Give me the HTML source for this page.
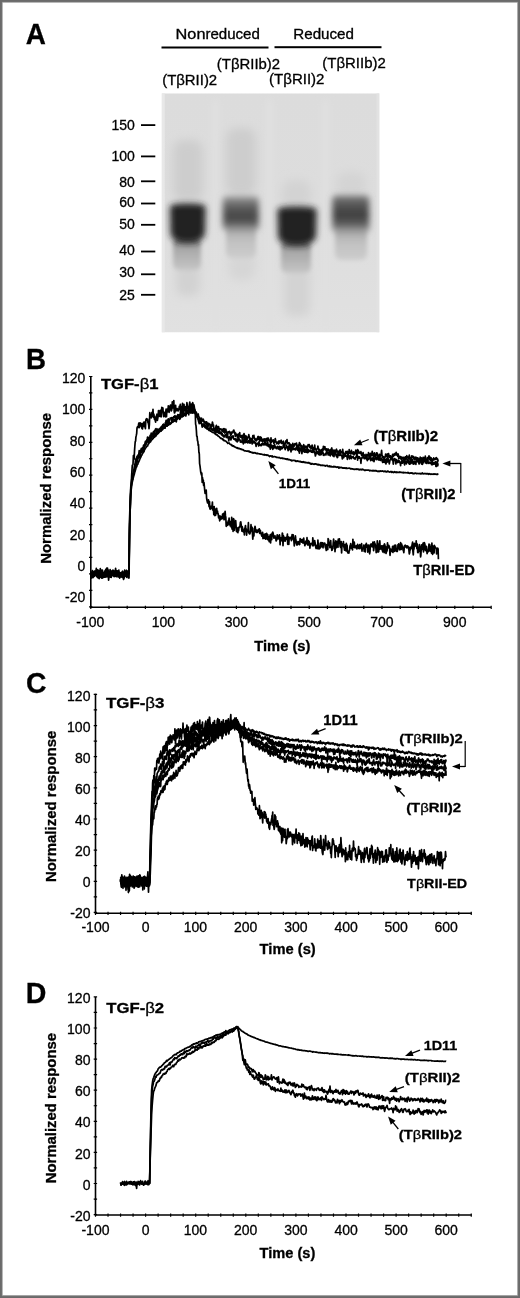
<!DOCTYPE html>
<html><head><meta charset="utf-8"><title>Figure</title>
<style>
html,body{margin:0;padding:0;background:#fff}
body{width:520px;height:1298px;overflow:hidden}
svg{display:block}
text{font-family:"Liberation Sans", Arial, sans-serif;stroke:#000;stroke-width:0.3px}
</style></head><body>
<svg width="520" height="1298" viewBox="0 0 520 1298">
<rect x="0" y="0" width="520" height="1298" fill="#6a6a6a"/>
<rect x="1.9" y="1.9" width="516.2" height="1294.2" fill="#9a9a9a"/>
<rect x="2.7" y="2.7" width="514.5" height="1292.4" fill="#ffffff"/>
<text x="25.80" y="43.60" font-size="28.60" textLength="20.13" lengthAdjust="spacingAndGlyphs" fill="#000"><tspan font-weight="bold">A</tspan></text>
<text x="26.04" y="369.30" font-size="28.60" textLength="20.01" lengthAdjust="spacingAndGlyphs" fill="#000"><tspan font-weight="bold">B</tspan></text>
<text x="25.94" y="693.20" font-size="28.60" textLength="20.43" lengthAdjust="spacingAndGlyphs" fill="#000"><tspan font-weight="bold">C</tspan></text>
<text x="25.79" y="1002.70" font-size="28.60" textLength="20.62" lengthAdjust="spacingAndGlyphs" fill="#000"><tspan font-weight="bold">D</tspan></text>
<text x="175.56" y="38.90" font-size="14.00" textLength="29.90" lengthAdjust="spacingAndGlyphs" fill="#000"><tspan font-weight="normal">Non</tspan></text>
<text x="205.41" y="38.90" font-size="14.00" textLength="54.46" lengthAdjust="spacingAndGlyphs" fill="#000"><tspan font-weight="normal">reduced</tspan></text>
<text x="293.26" y="38.80" font-size="14.00" textLength="60.71" lengthAdjust="spacingAndGlyphs" fill="#000"><tspan font-weight="normal">Reduced</tspan></text>
<rect x="161.5" y="46.5" width="107" height="2" fill="#000"/>
<rect x="274.5" y="46.2" width="107" height="2" fill="#000"/>
<text x="216.88" y="69.20" font-size="14.00" textLength="63.17" lengthAdjust="spacingAndGlyphs" fill="#000"><tspan font-weight="normal">(TβRIIb)2</tspan></text>
<text x="162.18" y="84.60" font-size="14.00" textLength="54.97" lengthAdjust="spacingAndGlyphs" fill="#000"><tspan font-weight="normal">(TβRII)2</tspan></text>
<text x="269.07" y="83.70" font-size="14.00" textLength="55.38" lengthAdjust="spacingAndGlyphs" fill="#000"><tspan font-weight="normal">(TβRII)2</tspan></text>
<text x="322.37" y="67.50" font-size="14.00" textLength="63.38" lengthAdjust="spacingAndGlyphs" fill="#000"><tspan font-weight="normal">(TβRIIb)2</tspan></text>
<text x="111.49" y="130.20" font-size="14.00" textLength="23.36" lengthAdjust="spacingAndGlyphs" fill="#000"><tspan font-weight="normal">150</tspan></text>
<rect x="141" y="124.20" width="14.3" height="1.8" fill="#000"/>
<text x="111.49" y="161.00" font-size="14.00" textLength="23.36" lengthAdjust="spacingAndGlyphs" fill="#000"><tspan font-weight="normal">100</tspan></text>
<rect x="141" y="155.50" width="14.3" height="1.8" fill="#000"/>
<text x="119.28" y="187.00" font-size="14.00" textLength="15.57" lengthAdjust="spacingAndGlyphs" fill="#000"><tspan font-weight="normal">80</tspan></text>
<rect x="141" y="180.40" width="14.3" height="1.8" fill="#000"/>
<text x="119.28" y="207.30" font-size="14.00" textLength="15.57" lengthAdjust="spacingAndGlyphs" fill="#000"><tspan font-weight="normal">60</tspan></text>
<rect x="141" y="202.60" width="14.3" height="1.8" fill="#000"/>
<text x="119.28" y="228.50" font-size="14.00" textLength="15.57" lengthAdjust="spacingAndGlyphs" fill="#000"><tspan font-weight="normal">50</tspan></text>
<rect x="141" y="223.90" width="14.3" height="1.8" fill="#000"/>
<text x="119.28" y="255.00" font-size="14.00" textLength="15.57" lengthAdjust="spacingAndGlyphs" fill="#000"><tspan font-weight="normal">40</tspan></text>
<rect x="141" y="250.60" width="14.3" height="1.8" fill="#000"/>
<text x="119.28" y="277.40" font-size="14.00" textLength="15.57" lengthAdjust="spacingAndGlyphs" fill="#000"><tspan font-weight="normal">30</tspan></text>
<rect x="141" y="273.40" width="14.3" height="1.8" fill="#000"/>
<text x="119.32" y="300.00" font-size="14.00" textLength="15.57" lengthAdjust="spacingAndGlyphs" fill="#000"><tspan font-weight="normal">25</tspan></text>
<rect x="141" y="293.90" width="14.3" height="1.8" fill="#000"/>
<defs>
<filter id="b3" x="-50%" y="-50%" width="200%" height="200%"><feGaussianBlur stdDeviation="3"/></filter>
<filter id="b5" x="-50%" y="-50%" width="200%" height="200%"><feGaussianBlur stdDeviation="5"/></filter>
<filter id="b2" x="-50%" y="-50%" width="200%" height="200%"><feGaussianBlur stdDeviation="2"/></filter>
<filter id="b25" x="-50%" y="-50%" width="200%" height="200%"><feGaussianBlur stdDeviation="2.5"/></filter>
<clipPath id="gelclip"><rect x="161.6" y="93.3" width="217.9" height="239.2"/></clipPath>
<linearGradient id="gelbg" x1="0" y1="0" x2="0" y2="1">
<stop offset="0" stop-color="#dcdcdc"/><stop offset="0.5" stop-color="#dddddd"/><stop offset="1" stop-color="#e1e1e1"/></linearGradient>
</defs>
<g clip-path="url(#gelclip)">
<rect x="161.6" y="93.3" width="217.9" height="239.2" fill="url(#gelbg)"/>
<rect x="161.6" y="93.3" width="3.2" height="239.2" fill="#e8e8e8"/>
<rect x="376.5" y="93.3" width="3" height="239.2" fill="#e2e2e2"/>
<g filter="url(#b3)">
<rect x="212" y="100" width="7" height="230" fill="#e0e0e0"/>
<rect x="266" y="100" width="7" height="230" fill="#e0e0e0"/>
<rect x="322" y="100" width="7" height="230" fill="#e0e0e0"/>
</g>
<g filter="url(#b5)">
<rect x="173" y="140" width="30" height="62" rx="10" fill="#cdcdcd"/>
<rect x="226" y="128" width="30" height="68" rx="10" fill="#cdcdcd"/>
<rect x="282" y="180" width="29" height="30" rx="10" fill="#d3d3d3"/>
<rect x="336" y="172" width="30" height="26" rx="10" fill="#d4d4d4"/>
<rect x="176" y="262" width="24" height="34" rx="8" fill="#d2d2d2"/>
<rect x="284" y="266" width="26" height="50" rx="8" fill="#d3d3d3"/>
<rect x="229" y="250" width="26" height="30" rx="8" fill="#d6d6d6"/>
</g>
<defs>
<linearGradient id="tail1" x1="0" y1="0" x2="0" y2="1"><stop offset="0" stop-color="#7a7a7a"/><stop offset="0.3" stop-color="#a6a6a6"/><stop offset="1" stop-color="#c6c6c6"/></linearGradient>
<linearGradient id="tail2" x1="0" y1="0" x2="0" y2="1"><stop offset="0" stop-color="#a8a8a8"/><stop offset="0.5" stop-color="#c2c2c2"/><stop offset="1" stop-color="#cdcdcd"/></linearGradient>
<linearGradient id="band2" x1="0" y1="0" x2="0" y2="1"><stop offset="0" stop-color="#9a9a9a"/><stop offset="0.3" stop-color="#5e5e5e"/><stop offset="0.6" stop-color="#454545"/><stop offset="0.8" stop-color="#5e5e5e"/><stop offset="1" stop-color="#a0a0a0"/></linearGradient>
<linearGradient id="band4" x1="0" y1="0" x2="0" y2="1"><stop offset="0" stop-color="#808080"/><stop offset="0.25" stop-color="#555555"/><stop offset="0.55" stop-color="#3e3e3e"/><stop offset="0.8" stop-color="#636363"/><stop offset="1" stop-color="#a8a8a8"/></linearGradient>
</defs>
<g filter="url(#b2)">
<rect x="173" y="238" width="28" height="32" rx="6" fill="url(#tail1)"/>
<rect x="281" y="241" width="30" height="32" rx="6" fill="url(#tail1)"/>
<rect x="226" y="226" width="30" height="32" rx="6" fill="url(#tail2)"/>
<rect x="335" y="228" width="32" height="32" rx="6" fill="url(#tail2)"/>
</g>
<g filter="url(#b3)">
<path d="M170 207Q170 203.5 187.5 203.5Q205.5 203.5 205.5 207L205 233Q203.5 243 187.5 243Q171.5 243 170.5 233Z" fill="#202020"/>
<path d="M277.5 210Q277.5 206.5 296.5 206.5Q316.5 206.5 316.5 210L316 236Q314 246 296.5 246Q279 246 278 236Z" fill="#202020"/>
<rect x="222.8" y="196.5" width="36" height="34" rx="4" fill="url(#band2)"/>
<rect x="332.3" y="195.5" width="37" height="37" rx="4" fill="url(#band4)"/>
</g>
</g>
<path d="M90.80 376.30V607.20H491.00" fill="none" stroke="#000" stroke-width="1.6"/>
<path d="M89.00 606.80h3.40M89.00 590.35h3.40M89.00 573.90h3.40M89.00 557.45h3.40M89.00 541.00h3.40M89.00 524.55h3.40M89.00 508.10h3.40M89.00 491.65h3.40M89.00 475.20h3.40M89.00 458.75h3.40M89.00 442.30h3.40M89.00 425.85h3.40M89.00 409.40h3.40M89.00 392.95h3.40M89.00 376.50h3.40M90.80 605.70v3.30M109.00 605.70v3.30M127.20 605.70v3.30M145.40 605.70v3.30M163.60 605.70v3.30M181.80 605.70v3.30M200.00 605.70v3.30M218.20 605.70v3.30M236.40 605.70v3.30M254.60 605.70v3.30M272.80 605.70v3.30M291.00 605.70v3.30M309.20 605.70v3.30M327.40 605.70v3.30M345.60 605.70v3.30M363.80 605.70v3.30M382.00 605.70v3.30M400.20 605.70v3.30M418.40 605.70v3.30M436.60 605.70v3.30M454.80 605.70v3.30M473.00 605.70v3.30M491.20 605.70v3.30" fill="none" stroke="#000" stroke-width="1.2"/>
<text x="61.99" y="383.00" font-size="14.00" textLength="23.36" lengthAdjust="spacingAndGlyphs" fill="#000"><tspan font-weight="normal">120</tspan></text>
<text x="61.99" y="414.30" font-size="14.00" textLength="23.36" lengthAdjust="spacingAndGlyphs" fill="#000"><tspan font-weight="normal">100</tspan></text>
<text x="69.78" y="445.60" font-size="14.00" textLength="15.57" lengthAdjust="spacingAndGlyphs" fill="#000"><tspan font-weight="normal">80</tspan></text>
<text x="69.78" y="476.90" font-size="14.00" textLength="15.57" lengthAdjust="spacingAndGlyphs" fill="#000"><tspan font-weight="normal">60</tspan></text>
<text x="69.78" y="508.20" font-size="14.00" textLength="15.57" lengthAdjust="spacingAndGlyphs" fill="#000"><tspan font-weight="normal">40</tspan></text>
<text x="69.78" y="539.50" font-size="14.00" textLength="15.57" lengthAdjust="spacingAndGlyphs" fill="#000"><tspan font-weight="normal">20</tspan></text>
<text x="77.56" y="570.80" font-size="14.00" textLength="7.79" lengthAdjust="spacingAndGlyphs" fill="#000"><tspan font-weight="normal">0</tspan></text>
<text x="65.12" y="602.10" font-size="14.00" textLength="20.23" lengthAdjust="spacingAndGlyphs" fill="#000"><tspan font-weight="normal">-20</tspan></text>
<text x="76.26" y="627.30" font-size="14.00" textLength="28.02" lengthAdjust="spacingAndGlyphs" fill="#000"><tspan font-weight="normal">-100</tspan></text>
<text x="151.66" y="627.30" font-size="14.00" textLength="23.36" lengthAdjust="spacingAndGlyphs" fill="#000"><tspan font-weight="normal">100</tspan></text>
<text x="224.73" y="627.30" font-size="14.00" textLength="23.36" lengthAdjust="spacingAndGlyphs" fill="#000"><tspan font-weight="normal">300</tspan></text>
<text x="297.52" y="627.30" font-size="14.00" textLength="23.36" lengthAdjust="spacingAndGlyphs" fill="#000"><tspan font-weight="normal">500</tspan></text>
<text x="370.24" y="627.30" font-size="14.00" textLength="23.36" lengthAdjust="spacingAndGlyphs" fill="#000"><tspan font-weight="normal">700</tspan></text>
<text x="443.07" y="627.30" font-size="14.00" textLength="23.36" lengthAdjust="spacingAndGlyphs" fill="#000"><tspan font-weight="normal">900</tspan></text>
<text x="254.34" y="651.00" font-size="14.00" textLength="56.10" lengthAdjust="spacingAndGlyphs" fill="#000"><tspan font-weight="bold">Time (s)</tspan></text>
<text x="0" y="0" font-size="14.80" textLength="150.81" lengthAdjust="spacingAndGlyphs" transform="translate(51.20 563.80) rotate(-90)"><tspan font-weight="bold">Normalized response</tspan></text>
<text x="100.92" y="388.80" font-size="14.50" textLength="57.55" lengthAdjust="spacingAndGlyphs" fill="#000"><tspan font-weight="bold">TGF-</tspan><tspan font-weight="normal">β</tspan><tspan font-weight="bold">1</tspan></text>
<path d="M90.8 574.8L91.2 575.7L91.5 574.6L91.9 573.4L92.3 575.6L92.6 573.1L93.0 574.4L93.3 575.7L93.7 572.2L94.1 573.6L94.4 576.0L94.8 575.6L95.2 575.1L95.5 573.0L95.9 575.1L96.3 574.6L96.6 571.3L97.0 572.2L97.4 569.8L97.7 572.0L98.1 570.2L98.4 573.7L98.8 570.9L99.2 572.9L99.5 572.3L99.9 571.6L100.3 568.7L100.6 573.0L101.0 574.6L101.4 575.5L101.7 572.6L102.1 573.6L102.4 573.3L102.8 573.5L103.2 576.3L103.5 573.2L103.9 574.0L104.3 574.9L104.6 572.2L105.0 573.8L105.4 574.0L105.7 574.1L106.1 572.1L106.5 573.8L106.8 576.3L107.2 571.1L107.5 576.7L107.9 575.5L108.3 575.1L108.6 580.2L109.0 576.6L109.4 573.0L109.7 574.2L110.1 574.5L110.5 573.7L110.8 575.1L111.2 572.6L111.5 573.6L111.9 573.5L112.3 570.5L112.6 572.5L113.0 571.2L113.4 573.3L113.7 571.2L114.1 571.7L114.5 571.7L114.8 573.0L115.2 572.0L115.6 568.3L115.9 571.1L116.3 573.5L116.6 570.8L117.0 573.0L117.4 572.9L117.7 575.5L118.1 574.1L118.5 573.7L118.8 574.5L119.2 575.0L119.6 577.9L119.9 573.9L120.3 573.4L120.6 574.2L121.0 573.8L121.4 574.3L121.7 573.5L122.1 574.2L122.5 572.8L122.8 576.0L123.2 573.9L123.6 573.5L123.9 574.7L124.3 571.7L124.7 574.2L125.0 574.4L125.4 576.2L125.7 573.4L126.1 575.4L126.5 570.5L126.8 572.1L127.2 572.8L127.6 571.9L127.9 574.4L128.3 577.6L128.7 573.0L129.0 573.3L129.4 533.7L129.7 515.5L130.1 502.1L130.5 492.7L130.8 486.5L131.2 483.0L131.6 480.0L131.9 478.9L132.3 476.7L132.7 473.7L133.0 473.4L133.4 469.8L133.8 470.8L134.1 468.2L134.5 465.5L134.8 464.4L135.2 463.1L135.6 459.2L135.9 459.7L136.3 459.6L136.7 456.8L137.0 460.0L137.4 455.9L137.8 458.6L138.1 454.8L138.5 455.8L138.8 454.0L139.2 450.7L139.6 454.4L139.9 453.5L140.3 451.0L140.7 450.3L141.0 449.8L141.4 448.3L141.8 451.3L142.1 449.3L142.5 448.5L142.9 447.4L143.2 447.2L143.6 445.1L143.9 448.3L144.3 445.8L144.7 445.2L145.0 443.1L145.4 441.4L145.8 441.7L146.1 441.0L146.5 441.0L146.9 439.8L147.2 439.0L147.6 437.0L147.9 437.4L148.3 440.9L148.7 437.8L149.0 437.5L149.4 439.0L149.8 439.4L150.1 435.3L150.5 436.1L150.9 435.3L151.2 433.1L151.6 436.3L152.0 435.2L152.3 434.2L152.7 433.2L153.0 433.3L153.4 431.8L153.8 432.0L154.1 431.2L154.5 430.7L154.9 432.3L155.2 429.8L155.6 429.0L156.0 428.6L156.3 429.3L156.7 429.5L157.0 430.9L157.4 429.1L157.8 429.4L158.1 429.1L158.5 430.8L158.9 430.8L159.2 430.4L159.6 429.5L160.0 428.3L160.3 430.5L160.7 429.4L161.1 426.9L161.4 426.9L161.8 426.8L162.1 425.9L162.5 426.0L162.9 424.6L163.2 427.8L163.6 424.2L164.0 426.5L164.3 425.7L164.7 425.0L165.1 426.8L165.4 425.9L165.8 422.3L166.1 420.4L166.5 422.3L166.9 420.3L167.2 421.7L167.6 422.8L168.0 419.8L168.3 418.8L168.7 421.6L169.1 421.3L169.4 420.8L169.8 420.1L170.2 418.1L170.5 418.0L170.9 418.6L171.2 418.1L171.6 417.7L172.0 419.1L172.3 418.9L172.7 419.3L173.1 417.4L173.4 417.7L173.8 416.6L174.2 416.5L174.5 417.2L174.9 415.6L175.2 417.7L175.6 417.9L176.0 420.5L176.3 416.2L176.7 419.1L177.1 418.0L177.4 418.0L177.8 416.9L178.2 417.4L178.5 418.1L178.9 416.8L179.3 415.6L179.6 415.1L180.0 416.5L180.3 414.4L180.7 411.4L181.1 412.5L181.4 411.1L181.8 409.9L182.2 414.2L182.5 416.7L182.9 414.9L183.3 412.5L183.6 412.3L184.0 414.6L184.3 413.6L184.7 414.5L185.1 414.0L185.4 413.4L185.8 413.5L186.2 411.6L186.5 410.5L186.9 410.1L187.3 412.3L187.6 410.7L188.0 413.5L188.4 410.5L188.7 411.4L189.1 411.8L189.4 409.6L189.8 412.7L190.2 412.7L190.5 411.1L190.9 413.1L191.3 412.9L191.6 409.5L192.0 412.6L192.4 410.8L192.7 410.3L193.1 408.3L193.4 408.7L193.8 409.8L194.2 411.2L194.5 409.5L194.9 410.7L195.3 413.3L195.6 411.7L196.0 413.5L196.4 412.2L196.7 417.0L197.1 415.5L197.5 415.3L197.8 414.8L198.2 414.0L198.5 415.9L198.9 416.7L199.3 417.2L199.6 417.9L200.0 421.0L200.4 419.3L200.7 418.5L201.1 418.7L201.5 418.2L201.8 421.2L202.2 421.1L202.5 420.4L202.9 419.5L203.3 419.2L203.6 420.8L204.0 422.1L204.4 421.3L204.7 421.6L205.1 422.8L205.5 423.4L205.8 422.0L206.2 423.9L206.6 421.9L206.9 425.0L207.3 422.9L207.6 425.4L208.0 427.0L208.4 424.2L208.7 423.3L209.1 424.2L209.5 424.2L209.8 424.1L210.2 426.6L210.6 429.0L210.9 426.7L211.3 426.3L211.6 424.5L212.0 425.3L212.4 422.1L212.7 423.1L213.1 426.6L213.5 425.1L213.8 428.8L214.2 429.6L214.6 429.0L214.9 428.9L215.3 430.5L215.7 427.1L216.0 426.4L216.4 425.4L216.7 427.4L217.1 430.1L217.5 428.7L217.8 426.8L218.2 426.7L218.6 426.6L218.9 429.0L219.3 428.4L219.7 429.9L220.0 429.3L220.4 428.8L220.7 429.1L221.1 429.5L221.5 430.1L221.8 429.2L222.2 431.1L222.6 429.4L222.9 429.5L223.3 428.8L223.7 432.1L224.0 428.5L224.4 429.3L224.8 433.1L225.1 432.9L225.5 432.5L225.8 429.2L226.2 430.6L226.6 431.7L226.9 434.0L227.3 437.6L227.7 434.9L228.0 432.0L228.4 431.9L228.8 432.3L229.1 431.9L229.5 431.4L229.8 433.0L230.2 432.3L230.6 435.6L230.9 435.2L231.3 434.3L231.7 432.2L232.0 433.1L232.4 432.1L232.8 431.9L233.1 431.8L233.5 430.2L233.9 430.1L234.2 432.9L234.6 432.1L234.9 433.8L235.3 436.5L235.7 433.2L236.0 434.1L236.4 435.7L236.8 435.0L237.1 434.7L237.5 437.7L237.9 436.2L238.2 434.0L238.6 434.0L238.9 435.6L239.3 435.6L239.7 432.5L240.0 437.0L240.4 436.2L240.8 437.3L241.1 435.6L241.5 436.5L241.9 435.6L242.2 439.2L242.6 436.0L243.0 438.2L243.3 434.9L243.7 435.8L244.0 433.5L244.4 435.4L244.8 438.3L245.1 435.5L245.5 439.9L245.9 438.1L246.2 436.1L246.6 438.5L247.0 437.9L247.3 439.1L247.7 437.5L248.0 436.9L248.4 436.8L248.8 434.7L249.1 436.3L249.5 438.0L249.9 440.5L250.2 438.2L250.6 439.6L251.0 439.2L251.3 438.7L251.7 441.6L252.1 438.6L252.4 440.4L252.8 435.7L253.1 436.5L253.5 436.4L253.9 435.4L254.2 438.1L254.6 438.0L255.0 439.9L255.3 440.2L255.7 439.0L256.1 440.9L256.4 439.9L256.8 440.3L257.1 438.4L257.5 438.4L257.9 436.6L258.2 439.2L258.6 436.6L259.0 437.1L259.3 439.2L259.7 441.5L260.1 437.7L260.4 437.0L260.8 437.2L261.2 437.4L261.5 440.9L261.9 440.2L262.2 440.6L262.6 442.0L263.0 439.0L263.3 440.8L263.7 439.5L264.1 439.1L264.4 438.8L264.8 442.9L265.2 439.8L265.5 439.6L265.9 438.8L266.2 438.7L266.6 438.8L267.0 441.6L267.3 438.1L267.7 438.4L268.1 438.5L268.4 438.2L268.8 440.5L269.2 440.8L269.5 440.0L269.9 440.3L270.3 442.0L270.6 444.6L271.0 437.8L271.3 442.4L271.7 440.3L272.1 441.0L272.4 440.3L272.8 441.5L273.2 439.8L273.5 441.9L273.9 443.6L274.3 442.2L274.6 440.5L275.0 439.6L275.3 438.6L275.7 440.7L276.1 442.5L276.4 442.8L276.8 443.8L277.2 442.1L277.5 443.0L277.9 442.2L278.3 442.2L278.6 444.0L279.0 440.9L279.4 441.3L279.7 442.8L280.1 441.0L280.4 441.2L280.8 441.6L281.2 440.2L281.5 443.3L281.9 442.9L282.3 443.4L282.6 442.7L283.0 441.8L283.4 441.2L283.7 442.9L284.1 444.3L284.4 445.6L284.8 445.4L285.2 443.2L285.5 443.4L285.9 440.8L286.3 441.3L286.6 441.6L287.0 439.6L287.4 443.2L287.7 443.7L288.1 443.4L288.5 442.8L288.8 443.3L289.2 443.0L289.5 444.9L289.9 445.6L290.3 446.4L290.6 444.4L291.0 445.8L291.4 446.7L291.7 445.1L292.1 445.4L292.5 447.2L292.8 443.3L293.2 447.1L293.5 446.9L293.9 445.9L294.3 446.0L294.6 444.0L295.0 443.6L295.4 444.8L295.7 444.3L296.1 444.6L296.5 443.0L296.8 445.3L297.2 447.2L297.6 447.6L297.9 446.7L298.3 445.0L298.6 447.3L299.0 445.6L299.4 442.5L299.7 445.6L300.1 443.7L300.5 445.2L300.8 445.0L301.2 448.8L301.6 446.5L301.9 445.9L302.3 449.5L302.6 448.3L303.0 446.0L303.4 446.7L303.7 444.7L304.1 445.9L304.5 447.3L304.8 446.4L305.2 447.0L305.6 447.9L305.9 446.1L306.3 446.7L306.7 447.3L307.0 446.4L307.4 446.6L307.7 446.4L308.1 444.7L308.5 445.4L308.8 445.8L309.2 444.5L309.6 447.4L309.9 447.6L310.3 447.4L310.7 446.2L311.0 448.7L311.4 447.3L311.7 446.9L312.1 445.1L312.5 447.9L312.8 450.0L313.2 449.4L313.6 447.6L313.9 447.6L314.3 449.7L314.7 445.2L315.0 448.1L315.4 449.1L315.8 448.8L316.1 450.4L316.5 450.3L316.8 449.2L317.2 448.9L317.6 448.4L317.9 446.2L318.3 447.7L318.7 448.7L319.0 451.1L319.4 449.7L319.8 449.8L320.1 450.5L320.5 452.9L320.8 450.9L321.2 452.4L321.6 449.7L321.9 449.9L322.3 449.2L322.7 450.7L323.0 450.7L323.4 446.3L323.8 447.5L324.1 449.0L324.5 447.6L324.9 446.7L325.2 450.0L325.6 449.5L325.9 449.8L326.3 448.9L326.7 451.3L327.0 449.2L327.4 450.8L327.8 449.5L328.1 449.0L328.5 450.7L328.9 450.3L329.2 451.3L329.6 451.0L329.9 449.9L330.3 451.2L330.7 449.8L331.0 451.2L331.4 448.7L331.8 448.0L332.1 450.8L332.5 452.2L332.9 452.6L333.2 450.2L333.6 451.0L334.0 453.3L334.3 450.7L334.7 450.2L335.0 452.4L335.4 452.8L335.8 451.3L336.1 450.2L336.5 449.2L336.9 452.0L337.2 450.9L337.6 451.4L338.0 452.2L338.3 453.2L338.7 451.4L339.0 453.0L339.4 450.8L339.8 450.6L340.1 449.8L340.5 453.5L340.9 452.4L341.2 451.7L341.6 452.2L342.0 451.3L342.3 453.0L342.7 449.4L343.1 452.5L343.4 453.5L343.8 457.7L344.1 455.8L344.5 453.7L344.9 454.0L345.2 455.0L345.6 452.0L346.0 451.4L346.3 453.1L346.7 452.7L347.1 452.9L347.4 451.3L347.8 455.4L348.1 454.6L348.5 453.5L348.9 453.3L349.2 449.6L349.6 453.3L350.0 452.1L350.3 453.4L350.7 453.9L351.1 452.1L351.4 450.3L351.8 453.7L352.2 452.1L352.5 453.8L352.9 453.9L353.2 453.5L353.6 451.9L354.0 455.0L354.3 452.6L354.7 453.3L355.1 453.9L355.4 451.9L355.8 450.2L356.2 452.1L356.5 450.9L356.9 452.2L357.2 452.6L357.6 449.6L358.0 453.4L358.3 450.3L358.7 452.7L359.1 452.0L359.4 452.0L359.8 453.1L360.2 453.5L360.5 453.4L360.9 451.7L361.3 453.2L361.6 455.5L362.0 455.2L362.3 455.4L362.7 454.8L363.1 452.5L363.4 456.4L363.8 454.4L364.2 454.8L364.5 455.4L364.9 455.9L365.3 455.3L365.6 456.2L366.0 454.4L366.3 456.0L366.7 458.9L367.1 455.4L367.4 454.8L367.8 455.0L368.2 455.5L368.5 452.5L368.9 454.5L369.3 456.3L369.6 455.2L370.0 454.6L370.4 456.1L370.7 453.4L371.1 453.9L371.4 454.3L371.8 455.8L372.2 451.4L372.5 453.2L372.9 453.7L373.3 455.5L373.6 455.5L374.0 456.8L374.4 452.9L374.7 456.4L375.1 454.5L375.4 455.2L375.8 456.0L376.2 454.2L376.5 452.9L376.9 453.6L377.3 453.1L377.6 455.4L378.0 456.6L378.4 456.2L378.7 457.8L379.1 455.3L379.5 454.3L379.8 456.7L380.2 455.5L380.5 454.6L380.9 455.7L381.3 453.1L381.6 450.3L382.0 455.5L382.4 456.2L382.7 457.6L383.1 456.5L383.5 457.9L383.8 456.9L384.2 458.7L384.5 457.4L384.9 457.2L385.3 457.0L385.6 454.2L386.0 456.1L386.4 456.3L386.7 456.3L387.1 454.1L387.5 458.1L387.8 455.3L388.2 453.7L388.6 453.7L388.9 456.3L389.3 457.3L389.6 455.6L390.0 456.8L390.4 455.8L390.7 457.2L391.1 456.8L391.5 457.3L391.8 457.7L392.2 460.0L392.6 454.4L392.9 454.4L393.3 454.9L393.6 456.2L394.0 454.1L394.4 455.3L394.7 454.8L395.1 453.4L395.5 453.4L395.8 454.9L396.2 452.4L396.6 454.2L396.9 455.1L397.3 455.2L397.7 456.2L398.0 453.8L398.4 455.3L398.7 458.4L399.1 457.4L399.5 456.7L399.8 456.5L400.2 458.3L400.6 457.0L400.9 456.6L401.3 459.6L401.7 459.4L402.0 457.7L402.4 458.3L402.7 457.5L403.1 458.9L403.5 457.4L403.8 459.2L404.2 461.9L404.6 459.2L404.9 457.9L405.3 456.8L405.7 457.7L406.0 459.8L406.4 457.1L406.8 455.7L407.1 457.2L407.5 457.0L407.8 457.0L408.2 459.1L408.6 456.8L408.9 457.2L409.3 455.1L409.7 457.2L410.0 459.9L410.4 457.9L410.8 457.7L411.1 457.6L411.5 459.3L411.8 455.8L412.2 456.0L412.6 457.0L412.9 457.2L413.3 456.4L413.7 458.5L414.0 458.1L414.4 459.8L414.8 459.3L415.1 457.0L415.5 458.5L415.9 459.1L416.2 457.4L416.6 458.9L416.9 460.1L417.3 458.2L417.7 459.6L418.0 458.3L418.4 460.7L418.8 462.0L419.1 461.4L419.5 458.8L419.9 459.6L420.2 459.5L420.6 459.4L420.9 461.2L421.3 457.8L421.7 459.9L422.0 459.5L422.4 460.8L422.8 458.7L423.1 457.4L423.5 457.5L423.9 459.3L424.2 459.1L424.6 460.5L425.0 458.9L425.3 456.0L425.7 460.1L426.0 460.3L426.4 459.7L426.8 459.8L427.1 460.9L427.5 457.6L427.9 457.6L428.2 457.9L428.6 458.4L429.0 455.9L429.3 459.5L429.7 457.1L430.0 457.0L430.4 460.4L430.8 458.6L431.1 457.8L431.5 460.3L431.9 461.0L432.2 461.6L432.6 459.0L433.0 459.4L433.3 460.0L433.7 457.9L434.1 459.8L434.4 459.4L434.8 458.8L435.1 458.7L435.5 459.1L435.9 458.5L436.2 457.6L436.6 457.9L437.0 459.5L437.3 458.7L437.7 459.5L438.1 460.9L438.4 460.4" fill="none" stroke="#000" stroke-width="1.70" stroke-linejoin="round"/>
<path d="M90.8 574.9L91.2 574.3L91.5 573.2L91.9 575.2L92.3 571.5L92.6 571.7L93.0 577.7L93.3 575.3L93.7 575.0L94.1 576.5L94.4 574.9L94.8 572.9L95.2 574.0L95.5 571.8L95.9 571.9L96.3 568.3L96.6 574.0L97.0 570.3L97.4 575.5L97.7 573.4L98.1 573.1L98.4 574.2L98.8 574.1L99.2 575.0L99.5 577.9L99.9 575.5L100.3 577.1L100.6 574.6L101.0 575.5L101.4 573.4L101.7 571.9L102.1 573.4L102.4 574.7L102.8 576.9L103.2 577.6L103.5 575.5L103.9 573.5L104.3 575.1L104.6 571.1L105.0 572.4L105.4 576.7L105.7 569.4L106.1 571.2L106.5 573.3L106.8 568.0L107.2 574.6L107.5 568.0L107.9 574.9L108.3 576.3L108.6 576.8L109.0 575.0L109.4 575.8L109.7 574.4L110.1 576.7L110.5 572.8L110.8 574.8L111.2 575.1L111.5 571.1L111.9 572.2L112.3 573.1L112.6 571.4L113.0 575.8L113.4 575.1L113.7 572.6L114.1 575.6L114.5 575.3L114.8 574.7L115.2 574.8L115.6 573.3L115.9 575.0L116.3 572.3L116.6 576.2L117.0 574.2L117.4 575.3L117.7 573.6L118.1 573.8L118.5 572.9L118.8 577.0L119.2 577.0L119.6 577.5L119.9 575.7L120.3 573.2L120.6 573.9L121.0 574.4L121.4 575.2L121.7 577.0L122.1 575.0L122.5 573.3L122.8 572.9L123.2 577.0L123.6 579.5L123.9 573.3L124.3 574.6L124.7 573.4L125.0 574.5L125.4 574.1L125.7 571.6L126.1 574.3L126.5 570.3L126.8 571.8L127.2 572.1L127.6 575.1L127.9 574.1L128.3 573.4L128.7 571.6L129.0 573.4L129.4 535.0L129.7 519.9L130.1 507.0L130.5 496.5L130.8 492.5L131.2 486.3L131.6 484.4L131.9 481.2L132.3 479.0L132.7 479.6L133.0 477.6L133.4 473.5L133.8 474.0L134.1 471.6L134.5 471.6L134.8 469.1L135.2 466.6L135.6 464.8L135.9 466.4L136.3 463.2L136.7 460.7L137.0 462.5L137.4 461.2L137.8 459.0L138.1 457.1L138.5 456.1L138.8 457.5L139.2 457.6L139.6 455.9L139.9 456.8L140.3 456.7L140.7 451.3L141.0 453.0L141.4 452.1L141.8 450.7L142.1 451.3L142.5 451.0L142.9 449.9L143.2 447.8L143.6 448.8L143.9 451.7L144.3 447.1L144.7 444.7L145.0 446.1L145.4 445.9L145.8 444.9L146.1 442.7L146.5 443.9L146.9 441.3L147.2 440.3L147.6 441.1L147.9 441.8L148.3 442.4L148.7 442.3L149.0 441.2L149.4 441.6L149.8 440.3L150.1 441.3L150.5 438.1L150.9 437.1L151.2 438.4L151.6 435.1L152.0 435.8L152.3 436.6L152.7 436.3L153.0 435.8L153.4 438.2L153.8 433.0L154.1 436.2L154.5 437.2L154.9 434.9L155.2 433.7L155.6 434.4L156.0 436.0L156.3 430.9L156.7 432.3L157.0 431.3L157.4 431.6L157.8 431.3L158.1 432.6L158.5 431.6L158.9 432.1L159.2 430.0L159.6 429.2L160.0 429.2L160.3 428.5L160.7 427.8L161.1 431.2L161.4 428.7L161.8 427.4L162.1 429.6L162.5 426.1L162.9 427.7L163.2 425.6L163.6 425.8L164.0 426.1L164.3 424.9L164.7 426.3L165.1 428.2L165.4 422.7L165.8 424.7L166.1 424.6L166.5 422.4L166.9 421.5L167.2 426.1L167.6 422.9L168.0 425.2L168.3 422.6L168.7 421.7L169.1 422.1L169.4 422.9L169.8 424.5L170.2 424.1L170.5 423.5L170.9 423.1L171.2 423.4L171.6 421.6L172.0 418.7L172.3 419.1L172.7 420.6L173.1 419.6L173.4 419.8L173.8 419.1L174.2 419.7L174.5 420.4L174.9 421.1L175.2 419.2L175.6 420.9L176.0 418.2L176.3 421.9L176.7 419.2L177.1 418.7L177.4 418.1L177.8 414.6L178.2 417.6L178.5 418.1L178.9 418.4L179.3 414.6L179.6 419.3L180.0 416.8L180.3 418.6L180.7 414.7L181.1 416.9L181.4 416.2L181.8 416.9L182.2 415.5L182.5 413.8L182.9 416.1L183.3 415.8L183.6 416.0L184.0 415.4L184.3 415.4L184.7 414.8L185.1 413.3L185.4 413.9L185.8 416.0L186.2 414.2L186.5 412.2L186.9 411.9L187.3 412.4L187.6 412.5L188.0 413.0L188.4 411.1L188.7 414.8L189.1 411.5L189.4 409.1L189.8 408.7L190.2 409.0L190.5 411.4L190.9 411.2L191.3 410.7L191.6 411.8L192.0 411.0L192.4 410.9L192.7 413.1L193.1 410.4L193.4 412.8L193.8 408.7L194.2 409.6L194.5 412.6L194.9 412.5L195.3 412.2L195.6 414.3L196.0 414.9L196.4 415.3L196.7 415.2L197.1 416.4L197.5 418.1L197.8 418.4L198.2 419.7L198.5 421.0L198.9 422.6L199.3 423.6L199.6 422.4L200.0 423.0L200.4 421.5L200.7 420.8L201.1 421.6L201.5 423.9L201.8 425.1L202.2 427.2L202.5 424.8L202.9 426.1L203.3 425.7L203.6 425.3L204.0 423.4L204.4 424.6L204.7 425.8L205.1 424.8L205.5 427.2L205.8 426.9L206.2 425.9L206.6 428.7L206.9 426.7L207.3 427.9L207.6 427.5L208.0 428.0L208.4 429.1L208.7 429.3L209.1 430.5L209.5 428.8L209.8 428.6L210.2 427.1L210.6 426.4L210.9 428.0L211.3 428.1L211.6 429.8L212.0 428.7L212.4 430.5L212.7 429.2L213.1 430.2L213.5 429.8L213.8 430.1L214.2 430.6L214.6 431.8L214.9 429.5L215.3 431.4L215.7 433.3L216.0 429.7L216.4 430.3L216.7 429.6L217.1 430.0L217.5 432.5L217.8 429.9L218.2 430.0L218.6 431.4L218.9 433.4L219.3 430.1L219.7 433.4L220.0 433.6L220.4 433.3L220.7 433.0L221.1 432.0L221.5 434.9L221.8 432.9L222.2 433.3L222.6 435.9L222.9 434.9L223.3 435.3L223.7 435.4L224.0 437.1L224.4 436.0L224.8 435.4L225.1 435.0L225.5 435.5L225.8 434.7L226.2 437.5L226.6 437.3L226.9 433.7L227.3 436.2L227.7 437.4L228.0 437.4L228.4 437.0L228.8 440.9L229.1 437.2L229.5 436.8L229.8 436.8L230.2 437.2L230.6 439.2L230.9 439.9L231.3 438.6L231.7 436.7L232.0 436.7L232.4 436.1L232.8 437.4L233.1 435.9L233.5 438.7L233.9 439.1L234.2 439.0L234.6 439.6L234.9 438.8L235.3 438.7L235.7 439.2L236.0 440.9L236.4 441.1L236.8 439.1L237.1 442.0L237.5 439.9L237.9 441.1L238.2 438.8L238.6 436.8L238.9 440.0L239.3 439.1L239.7 440.0L240.0 439.9L240.4 442.1L240.8 441.4L241.1 441.6L241.5 441.3L241.9 442.3L242.2 440.0L242.6 440.1L243.0 442.5L243.3 443.8L243.7 442.3L244.0 438.9L244.4 441.1L244.8 442.7L245.1 441.8L245.5 442.6L245.9 438.1L246.2 440.0L246.6 438.0L247.0 442.5L247.3 441.3L247.7 442.9L248.0 442.1L248.4 441.0L248.8 440.7L249.1 442.7L249.5 441.0L249.9 443.1L250.2 443.1L250.6 440.9L251.0 440.5L251.3 441.6L251.7 441.1L252.1 444.0L252.4 442.3L252.8 443.0L253.1 442.9L253.5 441.0L253.9 442.0L254.2 441.5L254.6 443.0L255.0 442.6L255.3 442.3L255.7 444.0L256.1 446.3L256.4 443.5L256.8 444.2L257.1 443.9L257.5 443.2L257.9 443.1L258.2 443.9L258.6 446.0L259.0 441.9L259.3 444.8L259.7 445.3L260.1 445.4L260.4 444.7L260.8 444.5L261.2 445.7L261.5 443.8L261.9 444.9L262.2 444.8L262.6 444.7L263.0 443.2L263.3 444.8L263.7 443.6L264.1 444.3L264.4 444.5L264.8 443.1L265.2 445.0L265.5 442.2L265.9 444.7L266.2 443.6L266.6 443.8L267.0 445.5L267.3 445.7L267.7 442.2L268.1 446.2L268.4 444.4L268.8 444.6L269.2 447.0L269.5 444.8L269.9 445.8L270.3 449.2L270.6 445.2L271.0 447.0L271.3 447.8L271.7 445.2L272.1 446.4L272.4 446.5L272.8 449.3L273.2 445.8L273.5 447.2L273.9 448.2L274.3 446.7L274.6 444.5L275.0 446.2L275.3 446.6L275.7 447.5L276.1 448.3L276.4 448.6L276.8 447.1L277.2 447.2L277.5 446.3L277.9 448.0L278.3 449.0L278.6 448.5L279.0 447.9L279.4 446.3L279.7 449.1L280.1 449.9L280.4 446.9L280.8 447.7L281.2 446.8L281.5 448.8L281.9 448.7L282.3 448.5L282.6 447.5L283.0 447.3L283.4 444.5L283.7 446.1L284.1 445.5L284.4 447.8L284.8 447.8L285.2 449.6L285.5 447.5L285.9 448.1L286.3 445.2L286.6 446.7L287.0 446.7L287.4 447.3L287.7 448.5L288.1 450.7L288.5 446.2L288.8 449.8L289.2 446.7L289.5 449.5L289.9 445.9L290.3 447.2L290.6 447.2L291.0 452.0L291.4 448.2L291.7 450.2L292.1 448.9L292.5 446.9L292.8 448.1L293.2 449.5L293.5 448.6L293.9 449.5L294.3 449.4L294.6 449.3L295.0 448.3L295.4 449.9L295.7 449.9L296.1 448.1L296.5 447.6L296.8 446.0L297.2 446.8L297.6 450.2L297.9 448.2L298.3 449.4L298.6 451.1L299.0 450.8L299.4 453.2L299.7 447.8L300.1 450.6L300.5 450.5L300.8 449.2L301.2 449.7L301.6 451.4L301.9 453.7L302.3 450.2L302.6 448.3L303.0 451.5L303.4 451.3L303.7 448.6L304.1 446.6L304.5 452.1L304.8 450.8L305.2 452.1L305.6 451.0L305.9 449.4L306.3 449.1L306.7 452.3L307.0 452.4L307.4 447.6L307.7 452.6L308.1 452.5L308.5 449.8L308.8 450.1L309.2 451.4L309.6 451.4L309.9 451.0L310.3 450.1L310.7 451.2L311.0 451.1L311.4 452.2L311.7 450.8L312.1 450.8L312.5 450.0L312.8 452.5L313.2 451.2L313.6 450.4L313.9 451.6L314.3 451.2L314.7 452.9L315.0 453.5L315.4 456.0L315.8 454.6L316.1 452.1L316.5 451.4L316.8 452.9L317.2 453.6L317.6 452.8L317.9 451.7L318.3 451.8L318.7 454.4L319.0 454.7L319.4 454.9L319.8 451.3L320.1 455.0L320.5 454.4L320.8 454.2L321.2 454.7L321.6 452.5L321.9 452.1L322.3 450.9L322.7 453.2L323.0 452.6L323.4 455.3L323.8 455.2L324.1 455.3L324.5 454.2L324.9 454.1L325.2 454.4L325.6 453.4L325.9 455.0L326.3 453.1L326.7 450.8L327.0 452.9L327.4 452.6L327.8 452.5L328.1 454.9L328.5 455.0L328.9 452.3L329.2 452.7L329.6 451.6L329.9 455.2L330.3 455.8L330.7 452.8L331.0 454.8L331.4 454.3L331.8 452.7L332.1 453.8L332.5 453.2L332.9 455.9L333.2 452.4L333.6 453.4L334.0 456.6L334.3 453.6L334.7 453.9L335.0 453.7L335.4 451.9L335.8 454.2L336.1 455.8L336.5 454.3L336.9 456.5L337.2 457.6L337.6 457.4L338.0 453.0L338.3 453.9L338.7 452.7L339.0 455.2L339.4 455.5L339.8 455.3L340.1 454.1L340.5 454.9L340.9 455.4L341.2 455.6L341.6 455.1L342.0 456.3L342.3 458.8L342.7 458.4L343.1 455.2L343.4 452.9L343.8 454.9L344.1 455.9L344.5 455.8L344.9 456.0L345.2 455.5L345.6 456.0L346.0 455.3L346.3 456.4L346.7 456.0L347.1 457.3L347.4 459.4L347.8 456.9L348.1 455.2L348.5 455.4L348.9 457.0L349.2 455.8L349.6 458.9L350.0 458.2L350.3 457.6L350.7 455.6L351.1 456.3L351.4 458.6L351.8 457.0L352.2 457.4L352.5 457.1L352.9 456.9L353.2 456.4L353.6 458.0L354.0 458.5L354.3 458.2L354.7 458.7L355.1 459.1L355.4 457.6L355.8 457.5L356.2 456.4L356.5 456.9L356.9 452.7L357.2 455.9L357.6 460.1L358.0 457.0L358.3 456.6L358.7 456.6L359.1 458.1L359.4 456.9L359.8 458.1L360.2 458.1L360.5 458.1L360.9 463.3L361.3 458.8L361.6 458.8L362.0 457.7L362.3 457.0L362.7 457.6L363.1 457.7L363.4 457.8L363.8 456.5L364.2 458.6L364.5 457.9L364.9 458.7L365.3 457.4L365.6 458.0L366.0 458.0L366.3 458.4L366.7 457.1L367.1 459.9L367.4 460.5L367.8 458.7L368.2 459.3L368.5 458.1L368.9 459.0L369.3 454.2L369.6 456.8L370.0 456.2L370.4 457.7L370.7 460.6L371.1 458.2L371.4 458.8L371.8 458.1L372.2 460.2L372.5 459.7L372.9 460.6L373.3 457.2L373.6 459.0L374.0 461.6L374.4 459.9L374.7 459.5L375.1 458.6L375.4 456.2L375.8 458.6L376.2 457.9L376.5 459.7L376.9 457.4L377.3 458.5L377.6 456.3L378.0 458.8L378.4 459.9L378.7 460.0L379.1 459.8L379.5 459.8L379.8 455.6L380.2 460.5L380.5 458.7L380.9 459.3L381.3 459.3L381.6 458.0L382.0 460.7L382.4 461.6L382.7 462.4L383.1 459.9L383.5 459.1L383.8 462.2L384.2 459.3L384.5 462.5L384.9 460.1L385.3 459.5L385.6 461.9L386.0 464.0L386.4 458.9L386.7 462.2L387.1 460.7L387.5 461.9L387.8 459.5L388.2 458.8L388.6 460.9L388.9 461.1L389.3 463.8L389.6 462.2L390.0 460.0L390.4 459.3L390.7 458.4L391.1 458.7L391.5 458.5L391.8 458.8L392.2 456.2L392.6 460.2L392.9 460.5L393.3 464.1L393.6 461.2L394.0 459.0L394.4 459.9L394.7 458.6L395.1 460.5L395.5 459.2L395.8 464.0L396.2 461.7L396.6 459.5L396.9 461.1L397.3 462.3L397.7 462.6L398.0 461.9L398.4 460.7L398.7 460.1L399.1 460.7L399.5 462.5L399.8 462.1L400.2 462.6L400.6 465.6L400.9 461.9L401.3 463.1L401.7 460.9L402.0 461.3L402.4 463.1L402.7 460.7L403.1 462.4L403.5 461.1L403.8 461.0L404.2 463.1L404.6 464.8L404.9 461.5L405.3 463.2L405.7 461.2L406.0 461.9L406.4 463.8L406.8 462.0L407.1 461.8L407.5 459.7L407.8 462.2L408.2 460.6L408.6 463.1L408.9 461.1L409.3 464.2L409.7 461.5L410.0 464.1L410.4 460.5L410.8 462.0L411.1 463.5L411.5 460.8L411.8 462.2L412.2 462.1L412.6 459.5L412.9 463.4L413.3 464.2L413.7 461.9L414.0 464.0L414.4 461.7L414.8 461.6L415.1 462.4L415.5 461.8L415.9 464.5L416.2 458.9L416.6 461.8L416.9 461.4L417.3 457.9L417.7 458.1L418.0 462.0L418.4 461.7L418.8 463.0L419.1 464.0L419.5 462.2L419.9 460.0L420.2 457.0L420.6 461.7L420.9 460.2L421.3 463.3L421.7 464.0L422.0 461.0L422.4 464.4L422.8 463.4L423.1 462.9L423.5 460.6L423.9 461.2L424.2 460.2L424.6 461.2L425.0 460.8L425.3 463.0L425.7 462.7L426.0 462.3L426.4 461.2L426.8 463.5L427.1 462.6L427.5 458.1L427.9 459.9L428.2 461.5L428.6 463.3L429.0 462.2L429.3 462.5L429.7 462.2L430.0 463.3L430.4 462.2L430.8 462.6L431.1 462.2L431.5 464.6L431.9 463.8L432.2 461.9L432.6 464.7L433.0 462.4L433.3 462.8L433.7 462.6L434.1 464.2L434.4 463.3L434.8 462.4L435.1 463.5L435.5 461.6L435.9 466.4L436.2 464.6L436.6 466.3L437.0 464.0L437.3 461.4L437.7 465.7L438.1 464.2L438.4 464.5" fill="none" stroke="#000" stroke-width="1.70" stroke-linejoin="round"/>
<path d="M90.8 575.0L91.2 572.7L91.5 575.3L91.9 573.5L92.3 570.5L92.6 570.5L93.0 574.4L93.3 571.8L93.7 574.3L94.1 575.2L94.4 574.0L94.8 571.2L95.2 573.7L95.5 574.4L95.9 574.1L96.3 575.9L96.6 573.5L97.0 575.1L97.4 577.3L97.7 574.0L98.1 578.0L98.4 577.8L98.8 575.3L99.2 578.7L99.5 575.3L99.9 572.1L100.3 574.2L100.6 571.4L101.0 572.7L101.4 575.0L101.7 578.2L102.1 578.2L102.4 577.1L102.8 576.4L103.2 576.9L103.5 574.5L103.9 574.3L104.3 574.8L104.6 574.4L105.0 574.1L105.4 574.5L105.7 576.0L106.1 574.9L106.5 575.0L106.8 575.5L107.2 575.5L107.5 572.4L107.9 575.0L108.3 574.7L108.6 574.1L109.0 572.9L109.4 571.8L109.7 572.3L110.1 569.7L110.5 573.5L110.8 572.8L111.2 572.4L111.5 574.1L111.9 574.1L112.3 571.9L112.6 572.8L113.0 570.0L113.4 571.1L113.7 570.8L114.1 576.7L114.5 571.2L114.8 573.8L115.2 576.4L115.6 571.9L115.9 576.1L116.3 575.3L116.6 574.0L117.0 576.9L117.4 572.7L117.7 570.9L118.1 573.4L118.5 573.2L118.8 572.1L119.2 572.8L119.6 577.8L119.9 572.8L120.3 574.1L120.6 573.1L121.0 574.2L121.4 573.5L121.7 573.3L122.1 571.7L122.5 571.2L122.8 573.4L123.2 574.7L123.6 577.9L123.9 576.9L124.3 577.8L124.7 574.6L125.0 574.5L125.4 572.3L125.7 572.9L126.1 570.9L126.5 573.9L126.8 577.5L127.2 575.4L127.6 576.3L127.9 573.3L128.3 570.6L128.7 572.7L129.0 573.8L129.4 541.3L129.7 524.0L130.1 511.5L130.5 501.3L130.8 493.4L131.2 489.6L131.6 486.5L131.9 484.2L132.3 482.2L132.7 480.4L133.0 478.4L133.4 477.4L133.8 475.8L134.1 475.0L134.5 473.3L134.8 472.1L135.2 470.8L135.6 469.5L135.9 468.3L136.3 467.0L136.7 466.7L137.0 465.5L137.4 464.5L137.8 464.2L138.1 463.0L138.5 462.4L138.8 461.4L139.2 460.9L139.6 459.8L139.9 458.9L140.3 458.1L140.7 457.3L141.0 456.8L141.4 455.5L141.8 455.2L142.1 454.4L142.5 453.6L142.9 452.6L143.2 452.7L143.6 451.7L143.9 451.2L144.3 450.4L144.7 449.4L145.0 449.1L145.4 448.3L145.8 447.8L146.1 447.3L146.5 446.9L146.9 446.3L147.2 445.9L147.6 445.9L147.9 444.9L148.3 444.1L148.7 443.6L149.0 443.0L149.4 442.7L149.8 442.1L150.1 441.6L150.5 441.8L150.9 441.0L151.2 440.4L151.6 440.0L152.0 439.5L152.3 439.4L152.7 438.9L153.0 438.5L153.4 437.2L153.8 437.5L154.1 437.2L154.5 437.1L154.9 436.5L155.2 435.8L155.6 435.8L156.0 435.2L156.3 434.5L156.7 434.3L157.0 434.5L157.4 434.0L157.8 433.7L158.1 432.9L158.5 433.1L158.9 432.2L159.2 432.0L159.6 431.3L160.0 431.6L160.3 431.2L160.7 431.0L161.1 430.5L161.4 430.3L161.8 430.0L162.1 429.4L162.5 429.7L162.9 429.2L163.2 428.6L163.6 428.2L164.0 428.2L164.3 428.2L164.7 427.7L165.1 427.4L165.4 426.8L165.8 426.2L166.1 426.1L166.5 426.1L166.9 425.8L167.2 425.6L167.6 425.5L168.0 425.3L168.3 425.0L168.7 424.7L169.1 424.4L169.4 424.1L169.8 423.9L170.2 423.3L170.5 423.6L170.9 422.8L171.2 423.0L171.6 422.5L172.0 422.5L172.3 422.1L172.7 421.7L173.1 422.0L173.4 421.7L173.8 421.3L174.2 421.0L174.5 420.9L174.9 420.5L175.2 420.2L175.6 419.5L176.0 419.4L176.3 419.3L176.7 419.3L177.1 419.0L177.4 418.6L177.8 418.7L178.2 418.2L178.5 417.9L178.9 417.9L179.3 417.3L179.6 417.6L180.0 417.3L180.3 416.8L180.7 416.4L181.1 416.4L181.4 416.5L181.8 415.9L182.2 415.7L182.5 415.8L182.9 415.3L183.3 414.9L183.6 415.1L184.0 415.0L184.3 414.9L184.7 414.7L185.1 414.5L185.4 414.0L185.8 413.7L186.2 413.5L186.5 413.5L186.9 413.3L187.3 413.1L187.6 412.9L188.0 411.8L188.4 412.2L188.7 412.2L189.1 412.0L189.4 411.6L189.8 411.9L190.2 411.5L190.5 411.1L190.9 411.0L191.3 410.8L191.6 410.6L192.0 410.7L192.4 410.4L192.7 410.0L193.1 409.9L193.4 410.0L193.8 409.6L194.2 409.8L194.5 409.1L194.9 410.6L195.3 411.5L195.6 412.3L196.0 413.4L196.4 414.4L196.7 415.0L197.1 415.6L197.5 416.9L197.8 418.1L198.2 418.1L198.5 419.3L198.9 420.0L199.3 420.9L199.6 421.5L200.0 422.1L200.4 422.7L200.7 422.8L201.1 422.9L201.5 423.7L201.8 423.5L202.2 424.3L202.5 424.6L202.9 425.2L203.3 425.5L203.6 426.0L204.0 426.1L204.4 426.8L204.7 426.9L205.1 427.6L205.5 427.4L205.8 427.9L206.2 428.1L206.6 428.2L206.9 428.4L207.3 429.0L207.6 428.9L208.0 429.2L208.4 429.7L208.7 429.3L209.1 430.1L209.5 430.1L209.8 430.5L210.2 430.7L210.6 431.1L210.9 431.1L211.3 431.4L211.6 431.8L212.0 432.0L212.4 432.4L212.7 432.5L213.1 432.4L213.5 432.5L213.8 432.3L214.2 433.1L214.6 433.4L214.9 433.6L215.3 434.1L215.7 434.4L216.0 434.4L216.4 434.8L216.7 434.8L217.1 434.7L217.5 435.3L217.8 435.6L218.2 436.1L218.6 436.1L218.9 436.6L219.3 436.8L219.7 437.3L220.0 437.6L220.4 438.0L220.7 438.4L221.1 438.2L221.5 438.5L221.8 438.7L222.2 438.7L222.6 439.5L222.9 438.9L223.3 439.7L223.7 440.3L224.0 440.7L224.4 440.3L224.8 440.8L225.1 441.0L225.5 441.0L225.8 441.0L226.2 441.6L226.6 441.7L226.9 442.3L227.3 442.5L227.7 443.4L228.0 443.2L228.4 443.2L228.8 443.2L229.1 443.0L229.5 443.7L229.8 444.1L230.2 444.0L230.6 444.5L230.9 444.4L231.3 444.9L231.7 445.6L232.0 445.1L232.4 445.8L232.8 446.1L233.1 445.8L233.5 445.9L233.9 446.2L234.2 446.7L234.6 446.6L234.9 447.0L235.3 447.2L235.7 447.4L236.0 447.5L236.4 447.5L236.8 448.1L237.1 447.7L237.5 448.4L237.9 448.0L238.2 448.0L238.6 448.5L238.9 448.7L239.3 448.3L239.7 448.9L240.0 448.7L240.4 448.8L240.8 449.3L241.1 449.0L241.5 449.2L241.9 449.3L242.2 449.8L242.6 449.7L243.0 449.7L243.3 450.0L243.7 450.3L244.0 450.6L244.4 450.8L244.8 451.0L245.1 450.8L245.5 450.9L245.9 451.0L246.2 451.0L246.6 451.2L247.0 451.2L247.3 451.3L247.7 451.1L248.0 450.9L248.4 451.3L248.8 451.6L249.1 451.1L249.5 451.8L249.9 452.1L250.2 451.8L250.6 451.8L251.0 452.4L251.3 452.4L251.7 452.4L252.1 452.7L252.4 452.7L252.8 452.3L253.1 453.1L253.5 452.8L253.9 452.9L254.2 452.7L254.6 452.9L255.0 452.6L255.3 452.9L255.7 453.3L256.1 453.4L256.4 453.3L256.8 453.7L257.1 453.2L257.5 453.6L257.9 453.3L258.2 453.6L258.6 453.7L259.0 453.8L259.3 453.9L259.7 453.9L260.1 454.0L260.4 454.2L260.8 454.1L261.2 454.0L261.5 454.2L261.9 454.3L262.2 454.4L262.6 454.6L263.0 454.6L263.3 454.6L263.7 454.9L264.1 454.7L264.4 454.5L264.8 455.1L265.2 454.8L265.5 454.9L265.9 454.9L266.2 455.2L266.6 454.9L267.0 455.3L267.3 455.1L267.7 455.2L268.1 455.1L268.4 455.7L268.8 455.8L269.2 456.1L269.5 456.5L269.9 456.0L270.3 456.1L270.6 455.8L271.0 456.0L271.3 456.0L271.7 456.0L272.1 456.8L272.4 456.0L272.8 456.7L273.2 456.9L273.5 456.8L273.9 456.7L274.3 456.7L274.6 456.7L275.0 456.7L275.3 456.8L275.7 457.0L276.1 457.0L276.4 457.4L276.8 457.1L277.2 457.4L277.5 457.4L277.9 457.6L278.3 457.6L278.6 457.7L279.0 457.4L279.4 457.5L279.7 457.8L280.1 458.0L280.4 458.3L280.8 458.4L281.2 458.0L281.5 458.1L281.9 457.9L282.3 458.0L282.6 458.5L283.0 458.6L283.4 458.4L283.7 458.4L284.1 458.7L284.4 458.5L284.8 458.5L285.2 459.2L285.5 458.9L285.9 458.9L286.3 459.1L286.6 458.9L287.0 459.5L287.4 458.9L287.7 459.0L288.1 459.5L288.5 459.4L288.8 459.9L289.2 459.5L289.5 459.6L289.9 459.8L290.3 460.0L290.6 460.2L291.0 460.2L291.4 460.8L291.7 460.2L292.1 460.4L292.5 460.6L292.8 460.3L293.2 460.5L293.5 460.3L293.9 460.4L294.3 460.4L294.6 460.5L295.0 460.6L295.4 461.1L295.7 460.7L296.1 461.5L296.5 461.4L296.8 461.2L297.2 460.9L297.6 460.9L297.9 461.4L298.3 461.2L298.6 461.5L299.0 461.3L299.4 461.7L299.7 461.4L300.1 461.7L300.5 461.3L300.8 461.6L301.2 462.1L301.6 461.8L301.9 461.9L302.3 462.2L302.6 462.0L303.0 462.4L303.4 461.7L303.7 462.2L304.1 462.3L304.5 462.0L304.8 462.1L305.2 462.6L305.6 462.3L305.9 462.4L306.3 462.7L306.7 462.7L307.0 462.9L307.4 462.6L307.7 462.7L308.1 463.0L308.5 463.0L308.8 462.5L309.2 463.3L309.6 463.2L309.9 463.1L310.3 463.7L310.7 463.3L311.0 464.1L311.4 463.6L311.7 464.1L312.1 463.7L312.5 463.6L312.8 463.9L313.2 464.1L313.6 464.2L313.9 464.3L314.3 463.9L314.7 464.2L315.0 464.1L315.4 463.8L315.8 463.9L316.1 463.9L316.5 464.5L316.8 464.5L317.2 464.3L317.6 464.3L317.9 464.9L318.3 464.5L318.7 464.8L319.0 464.8L319.4 464.6L319.8 464.9L320.1 464.9L320.5 465.2L320.8 465.5L321.2 465.1L321.6 465.5L321.9 465.5L322.3 465.2L322.7 465.1L323.0 465.6L323.4 465.3L323.8 465.3L324.1 465.5L324.5 465.7L324.9 465.6L325.2 466.0L325.6 466.1L325.9 465.6L326.3 465.5L326.7 465.7L327.0 465.3L327.4 465.7L327.8 466.1L328.1 466.6L328.5 466.4L328.9 466.1L329.2 466.5L329.6 466.0L329.9 466.2L330.3 466.8L330.7 466.6L331.0 466.2L331.4 466.4L331.8 466.9L332.1 467.0L332.5 466.8L332.9 467.0L333.2 466.8L333.6 466.5L334.0 467.0L334.3 466.7L334.7 466.7L335.0 466.5L335.4 466.9L335.8 466.8L336.1 467.1L336.5 467.0L336.9 467.3L337.2 467.0L337.6 467.0L338.0 466.9L338.3 467.2L338.7 467.7L339.0 468.2L339.4 467.2L339.8 467.3L340.1 467.5L340.5 467.6L340.9 467.4L341.2 467.7L341.6 467.4L342.0 467.7L342.3 468.0L342.7 468.1L343.1 467.8L343.4 467.9L343.8 468.2L344.1 468.2L344.5 468.1L344.9 467.8L345.2 468.1L345.6 468.3L346.0 467.9L346.3 467.9L346.7 468.3L347.1 468.3L347.4 468.4L347.8 468.3L348.1 468.2L348.5 468.3L348.9 468.2L349.2 468.1L349.6 468.3L350.0 468.4L350.3 468.8L350.7 468.6L351.1 468.9L351.4 468.7L351.8 469.0L352.2 468.8L352.5 468.8L352.9 469.1L353.2 469.1L353.6 469.0L354.0 469.4L354.3 469.2L354.7 469.4L355.1 469.4L355.4 469.3L355.8 469.1L356.2 468.9L356.5 469.3L356.9 469.1L357.2 469.3L357.6 469.0L358.0 469.0L358.3 469.2L358.7 469.6L359.1 469.9L359.4 469.4L359.8 469.5L360.2 469.7L360.5 469.3L360.9 469.5L361.3 469.4L361.6 469.9L362.0 469.8L362.3 469.5L362.7 469.2L363.1 469.5L363.4 469.8L363.8 469.9L364.2 470.0L364.5 470.3L364.9 470.0L365.3 470.3L365.6 470.3L366.0 470.1L366.3 470.1L366.7 470.2L367.1 470.1L367.4 470.1L367.8 470.1L368.2 470.1L368.5 470.0L368.9 470.1L369.3 470.5L369.6 470.8L370.0 470.7L370.4 470.4L370.7 470.7L371.1 470.6L371.4 470.6L371.8 470.7L372.2 470.9L372.5 470.9L372.9 470.4L373.3 470.8L373.6 470.6L374.0 470.7L374.4 470.9L374.7 470.9L375.1 470.4L375.4 470.6L375.8 470.9L376.2 470.6L376.5 471.1L376.9 471.1L377.3 471.1L377.6 471.2L378.0 471.5L378.4 471.0L378.7 471.0L379.1 471.5L379.5 471.0L379.8 471.0L380.2 470.8L380.5 471.3L380.9 471.2L381.3 471.2L381.6 471.3L382.0 471.1L382.4 470.9L382.7 471.1L383.1 471.2L383.5 471.3L383.8 471.6L384.2 471.1L384.5 471.3L384.9 471.2L385.3 471.7L385.6 471.2L386.0 471.7L386.4 471.9L386.7 471.6L387.1 471.8L387.5 471.1L387.8 471.4L388.2 471.2L388.6 471.7L388.9 471.8L389.3 471.8L389.6 472.1L390.0 471.9L390.4 471.7L390.7 471.8L391.1 471.5L391.5 471.8L391.8 472.4L392.2 471.7L392.6 472.2L392.9 472.1L393.3 472.5L393.6 472.3L394.0 472.1L394.4 471.7L394.7 471.9L395.1 472.4L395.5 472.0L395.8 472.3L396.2 472.2L396.6 472.0L396.9 472.6L397.3 472.4L397.7 472.2L398.0 472.2L398.4 472.4L398.7 472.3L399.1 472.5L399.5 472.3L399.8 472.0L400.2 472.4L400.6 472.2L400.9 472.2L401.3 472.3L401.7 472.3L402.0 472.6L402.4 472.6L402.7 472.6L403.1 472.3L403.5 472.5L403.8 472.9L404.2 472.6L404.6 472.5L404.9 472.5L405.3 472.6L405.7 472.6L406.0 472.8L406.4 472.7L406.8 472.8L407.1 472.9L407.5 472.9L407.8 472.4L408.2 472.9L408.6 472.7L408.9 473.2L409.3 473.3L409.7 473.3L410.0 473.1L410.4 472.9L410.8 473.2L411.1 472.9L411.5 473.1L411.8 472.8L412.2 473.0L412.6 473.3L412.9 473.6L413.3 473.3L413.7 473.7L414.0 473.8L414.4 473.2L414.8 473.3L415.1 473.2L415.5 473.3L415.9 473.1L416.2 473.4L416.6 473.7L416.9 473.6L417.3 473.6L417.7 473.4L418.0 473.4L418.4 473.6L418.8 473.6L419.1 473.6L419.5 473.7L419.9 473.3L420.2 473.7L420.6 473.9L420.9 473.7L421.3 473.3L421.7 473.9L422.0 473.5L422.4 473.0L422.8 473.7L423.1 473.7L423.5 473.7L423.9 473.9L424.2 473.7L424.6 473.7L425.0 473.4L425.3 473.6L425.7 473.8L426.0 473.9L426.4 473.6L426.8 473.6L427.1 473.9L427.5 473.5L427.9 473.6L428.2 474.1L428.6 474.3L429.0 474.0L429.3 473.6L429.7 474.0L430.0 473.9L430.4 474.3L430.8 474.2L431.1 474.2L431.5 474.2L431.9 474.0L432.2 474.3L432.6 474.2L433.0 474.0L433.3 474.2L433.7 473.9L434.1 474.3L434.4 474.2L434.8 473.8L435.1 474.1L435.5 474.2L435.9 474.1L436.2 474.4L436.6 474.4L437.0 474.2L437.3 474.4L437.7 474.0L438.1 474.4L438.4 474.6" fill="none" stroke="#000" stroke-width="1.70" stroke-linejoin="round"/>
<path d="M90.8 573.7L91.2 578.1L91.5 576.7L91.9 573.6L92.3 573.0L92.6 577.5L93.0 576.6L93.3 574.1L93.7 576.1L94.1 574.3L94.4 572.8L94.8 571.3L95.2 572.2L95.5 574.3L95.9 573.5L96.3 570.5L96.6 576.3L97.0 574.0L97.4 570.8L97.7 571.5L98.1 571.1L98.4 572.5L98.8 573.6L99.2 574.0L99.5 572.2L99.9 573.3L100.3 575.4L100.6 573.1L101.0 577.1L101.4 570.1L101.7 572.6L102.1 572.4L102.4 570.1L102.8 575.0L103.2 572.8L103.5 572.7L103.9 574.1L104.3 577.2L104.6 574.9L105.0 577.2L105.4 576.0L105.7 574.2L106.1 575.7L106.5 576.8L106.8 575.4L107.2 576.2L107.5 575.6L107.9 574.4L108.3 570.0L108.6 571.6L109.0 572.9L109.4 574.2L109.7 573.4L110.1 577.2L110.5 575.3L110.8 575.1L111.2 577.3L111.5 574.0L111.9 574.2L112.3 574.6L112.6 574.9L113.0 575.3L113.4 575.6L113.7 574.3L114.1 574.7L114.5 572.0L114.8 575.4L115.2 572.5L115.6 573.7L115.9 571.6L116.3 573.9L116.6 572.3L117.0 572.9L117.4 575.3L117.7 574.5L118.1 573.2L118.5 570.7L118.8 570.1L119.2 572.8L119.6 574.0L119.9 573.6L120.3 573.9L120.6 572.7L121.0 576.8L121.4 573.4L121.7 574.9L122.1 576.5L122.5 573.6L122.8 577.5L123.2 577.6L123.6 574.3L123.9 572.2L124.3 572.6L124.7 570.2L125.0 575.6L125.4 574.1L125.7 573.0L126.1 572.4L126.5 573.7L126.8 575.4L127.2 571.5L127.6 572.3L127.9 571.8L128.3 575.2L128.7 574.1L129.0 578.1L129.4 548.4L129.7 527.3L130.1 511.2L130.5 503.5L130.8 488.8L131.2 485.7L131.6 476.4L131.9 471.3L132.3 465.2L132.7 464.7L133.0 464.3L133.4 455.6L133.8 456.1L134.1 459.2L134.5 451.1L134.8 446.8L135.2 441.7L135.6 441.1L135.9 437.1L136.3 435.4L136.7 433.3L137.0 428.1L137.4 426.9L137.8 426.6L138.1 427.5L138.5 425.0L138.8 423.2L139.2 427.6L139.6 426.7L139.9 422.8L140.3 423.0L140.7 424.4L141.0 425.8L141.4 423.7L141.8 428.3L142.1 427.5L142.5 429.0L142.9 423.3L143.2 426.4L143.6 424.8L143.9 422.1L144.3 426.6L144.7 426.4L145.0 421.8L145.4 428.7L145.8 420.4L146.1 419.2L146.5 418.7L146.9 420.1L147.2 419.9L147.6 419.2L147.9 422.4L148.3 423.1L148.7 425.2L149.0 428.6L149.4 424.4L149.8 412.7L150.1 417.2L150.5 415.8L150.9 415.1L151.2 417.9L151.6 414.1L152.0 412.3L152.3 416.5L152.7 414.1L153.0 409.4L153.4 417.3L153.8 414.0L154.1 416.0L154.5 419.5L154.9 417.2L155.2 420.4L155.6 422.1L156.0 418.2L156.3 416.5L156.7 415.4L157.0 414.2L157.4 420.4L157.8 418.0L158.1 416.5L158.5 410.6L158.9 413.1L159.2 411.2L159.6 416.3L160.0 414.2L160.3 410.3L160.7 410.5L161.1 416.9L161.4 413.4L161.8 407.3L162.1 410.7L162.5 408.8L162.9 408.0L163.2 412.6L163.6 416.6L164.0 415.7L164.3 412.9L164.7 412.4L165.1 415.1L165.4 416.8L165.8 411.4L166.1 409.0L166.5 416.7L166.9 410.4L167.2 412.1L167.6 408.9L168.0 411.4L168.3 405.8L168.7 408.9L169.1 412.4L169.4 410.1L169.8 406.0L170.2 408.4L170.5 405.1L170.9 405.0L171.2 411.0L171.6 410.4L172.0 408.1L172.3 401.9L172.7 406.6L173.1 408.0L173.4 405.3L173.8 400.6L174.2 411.6L174.5 413.0L174.9 412.2L175.2 407.5L175.6 405.4L176.0 410.9L176.3 410.2L176.7 409.4L177.1 408.6L177.4 410.7L177.8 409.1L178.2 410.8L178.5 408.8L178.9 409.8L179.3 406.3L179.6 407.7L180.0 406.8L180.3 404.4L180.7 413.2L181.1 406.3L181.4 409.3L181.8 411.1L182.2 411.7L182.5 403.4L182.9 412.1L183.3 413.1L183.6 412.8L184.0 404.4L184.3 405.9L184.7 407.2L185.1 406.7L185.4 411.1L185.8 407.7L186.2 409.9L186.5 407.6L186.9 402.6L187.3 405.1L187.6 406.4L188.0 409.1L188.4 411.3L188.7 408.6L189.1 411.4L189.4 404.5L189.8 402.0L190.2 407.5L190.5 409.0L190.9 406.4L191.3 404.2L191.6 406.2L192.0 409.9L192.4 405.5L192.7 402.7L193.1 404.3L193.4 411.2L193.8 404.6L194.2 406.3L194.5 408.5L194.9 412.9L195.3 413.8L195.6 424.1L196.0 425.6L196.4 430.7L196.7 436.3L197.1 436.4L197.5 441.0L197.8 441.0L198.2 445.3L198.5 444.6L198.9 452.2L199.3 453.9L199.6 463.6L200.0 465.8L200.4 469.1L200.7 472.0L201.1 473.6L201.5 475.1L201.8 473.0L202.2 482.4L202.5 477.6L202.9 481.7L203.3 480.1L203.6 485.5L204.0 482.7L204.4 486.8L204.7 490.2L205.1 493.5L205.5 493.3L205.8 492.6L206.2 490.0L206.6 498.2L206.9 500.1L207.3 501.9L207.6 503.0L208.0 501.6L208.4 499.8L208.7 503.2L209.1 506.7L209.5 501.6L209.8 508.2L210.2 509.3L210.6 507.7L210.9 506.3L211.3 508.4L211.6 506.6L212.0 507.0L212.4 502.0L212.7 510.0L213.1 510.1L213.5 508.8L213.8 514.6L214.2 506.6L214.6 512.9L214.9 515.7L215.3 509.2L215.7 515.1L216.0 513.3L216.4 513.2L216.7 508.4L217.1 512.9L217.5 511.2L217.8 514.0L218.2 513.7L218.6 517.8L218.9 516.6L219.3 517.1L219.7 520.8L220.0 515.8L220.4 519.6L220.7 518.6L221.1 517.7L221.5 516.5L221.8 518.8L222.2 518.7L222.6 514.2L222.9 517.1L223.3 515.0L223.7 513.3L224.0 519.8L224.4 519.3L224.8 515.0L225.1 511.3L225.5 515.9L225.8 517.4L226.2 526.3L226.6 522.0L226.9 523.0L227.3 523.3L227.7 525.4L228.0 523.7L228.4 520.6L228.8 521.1L229.1 518.2L229.5 524.4L229.8 522.1L230.2 525.9L230.6 524.4L230.9 521.4L231.3 527.2L231.7 517.3L232.0 529.1L232.4 523.0L232.8 524.4L233.1 531.4L233.5 518.6L233.9 519.3L234.2 530.5L234.6 526.1L234.9 523.5L235.3 524.3L235.7 520.7L236.0 524.8L236.4 531.3L236.8 527.8L237.1 528.8L237.5 532.4L237.9 532.6L238.2 527.7L238.6 530.8L238.9 527.4L239.3 527.5L239.7 527.1L240.0 526.0L240.4 522.4L240.8 521.9L241.1 524.4L241.5 527.5L241.9 531.2L242.2 526.7L242.6 528.2L243.0 529.9L243.3 531.9L243.7 530.1L244.0 530.0L244.4 535.0L244.8 528.3L245.1 527.9L245.5 525.5L245.9 531.0L246.2 528.8L246.6 535.1L247.0 530.0L247.3 531.7L247.7 530.9L248.0 529.9L248.4 522.7L248.8 533.0L249.1 531.4L249.5 533.9L249.9 533.9L250.2 532.6L250.6 531.4L251.0 524.7L251.3 530.3L251.7 528.7L252.1 527.2L252.4 532.7L252.8 539.2L253.1 535.3L253.5 532.8L253.9 535.9L254.2 528.3L254.6 528.9L255.0 526.3L255.3 527.7L255.7 531.8L256.1 532.1L256.4 530.1L256.8 532.5L257.1 532.4L257.5 532.2L257.9 531.8L258.2 529.7L258.6 531.1L259.0 531.5L259.3 528.9L259.7 533.3L260.1 530.7L260.4 530.5L260.8 533.7L261.2 533.5L261.5 535.1L261.9 536.1L262.2 534.9L262.6 532.4L263.0 538.6L263.3 536.9L263.7 534.7L264.1 538.1L264.4 536.3L264.8 534.2L265.2 534.0L265.5 539.1L265.9 536.2L266.2 535.9L266.6 533.4L267.0 536.0L267.3 539.4L267.7 534.6L268.1 539.0L268.4 540.0L268.8 537.4L269.2 541.6L269.5 536.5L269.9 536.2L270.3 534.6L270.6 543.0L271.0 534.7L271.3 537.1L271.7 539.6L272.1 533.1L272.4 535.2L272.8 532.2L273.2 533.5L273.5 535.7L273.9 538.1L274.3 536.1L274.6 537.2L275.0 535.8L275.3 538.1L275.7 537.6L276.1 540.9L276.4 540.5L276.8 538.1L277.2 534.8L277.5 538.8L277.9 535.8L278.3 538.8L278.6 538.2L279.0 536.4L279.4 534.8L279.7 536.2L280.1 544.8L280.4 538.0L280.8 537.9L281.2 540.3L281.5 537.8L281.9 541.0L282.3 533.1L282.6 533.9L283.0 545.7L283.4 535.6L283.7 536.9L284.1 539.3L284.4 541.0L284.8 537.5L285.2 541.2L285.5 538.1L285.9 539.5L286.3 537.3L286.6 537.1L287.0 537.9L287.4 534.1L287.7 544.3L288.1 536.7L288.5 538.0L288.8 544.4L289.2 537.3L289.5 538.6L289.9 538.5L290.3 538.7L290.6 538.5L291.0 537.2L291.4 540.7L291.7 538.2L292.1 534.6L292.5 536.6L292.8 538.8L293.2 534.8L293.5 539.2L293.9 541.3L294.3 545.9L294.6 538.2L295.0 542.7L295.4 535.8L295.7 538.4L296.1 541.1L296.5 544.1L296.8 545.0L297.2 545.0L297.6 544.5L297.9 541.6L298.3 543.7L298.6 543.5L299.0 541.7L299.4 544.7L299.7 544.4L300.1 538.7L300.5 541.2L300.8 541.4L301.2 539.5L301.6 542.2L301.9 541.1L302.3 539.6L302.6 541.0L303.0 543.2L303.4 539.7L303.7 538.1L304.1 542.4L304.5 542.2L304.8 545.7L305.2 544.4L305.6 544.0L305.9 541.1L306.3 541.2L306.7 543.5L307.0 537.7L307.4 544.1L307.7 544.9L308.1 542.0L308.5 540.6L308.8 545.0L309.2 541.6L309.6 544.2L309.9 548.1L310.3 544.0L310.7 544.0L311.0 543.8L311.4 543.3L311.7 543.6L312.1 544.5L312.5 545.7L312.8 537.8L313.2 542.6L313.6 545.6L313.9 542.9L314.3 544.7L314.7 540.6L315.0 543.0L315.4 544.4L315.8 547.3L316.1 548.5L316.5 545.5L316.8 548.5L317.2 547.2L317.6 548.6L317.9 540.1L318.3 546.9L318.7 543.1L319.0 548.9L319.4 548.8L319.8 547.0L320.1 548.0L320.5 547.4L320.8 542.7L321.2 544.7L321.6 546.7L321.9 542.5L322.3 544.3L322.7 542.9L323.0 547.8L323.4 543.8L323.8 543.8L324.1 543.6L324.5 543.1L324.9 543.2L325.2 546.8L325.6 547.9L325.9 548.4L326.3 550.5L326.7 544.6L327.0 545.7L327.4 549.2L327.8 549.5L328.1 538.6L328.5 539.3L328.9 545.1L329.2 544.2L329.6 544.2L329.9 547.7L330.3 543.0L330.7 540.6L331.0 546.6L331.4 546.2L331.8 550.3L332.1 550.2L332.5 547.3L332.9 548.8L333.2 543.6L333.6 539.2L334.0 542.8L334.3 544.4L334.7 545.0L335.0 551.6L335.4 545.9L335.8 540.8L336.1 547.7L336.5 547.6L336.9 543.3L337.2 541.5L337.6 546.9L338.0 547.1L338.3 539.2L338.7 542.9L339.0 540.1L339.4 538.9L339.8 541.8L340.1 546.2L340.5 547.2L340.9 547.6L341.2 541.5L341.6 553.0L342.0 544.3L342.3 545.5L342.7 543.5L343.1 545.7L343.4 541.6L343.8 547.2L344.1 547.2L344.5 550.1L344.9 544.7L345.2 545.2L345.6 545.1L346.0 550.9L346.3 543.3L346.7 547.7L347.1 545.2L347.4 551.1L347.8 552.8L348.1 551.7L348.5 553.0L348.9 553.1L349.2 550.7L349.6 550.1L350.0 545.8L350.3 546.3L350.7 543.7L351.1 546.0L351.4 548.4L351.8 547.4L352.2 547.7L352.5 549.9L352.9 539.4L353.2 547.3L353.6 546.7L354.0 546.0L354.3 542.2L354.7 547.7L355.1 547.6L355.4 546.2L355.8 546.3L356.2 545.9L356.5 547.9L356.9 548.9L357.2 546.4L357.6 544.4L358.0 545.4L358.3 547.5L358.7 548.3L359.1 546.7L359.4 548.6L359.8 544.5L360.2 545.9L360.5 547.6L360.9 547.1L361.3 548.7L361.6 543.7L362.0 551.1L362.3 548.4L362.7 548.4L363.1 548.3L363.4 548.6L363.8 545.0L364.2 551.5L364.5 549.5L364.9 549.2L365.3 552.0L365.6 544.6L366.0 546.4L366.3 543.3L366.7 547.2L367.1 546.4L367.4 545.2L367.8 552.2L368.2 551.4L368.5 545.2L368.9 551.0L369.3 546.3L369.6 553.8L370.0 551.7L370.4 544.6L370.7 546.8L371.1 543.9L371.4 546.5L371.8 545.6L372.2 546.0L372.5 546.8L372.9 542.0L373.3 542.8L373.6 550.6L374.0 547.9L374.4 541.8L374.7 543.9L375.1 543.8L375.4 545.4L375.8 546.2L376.2 552.6L376.5 548.4L376.9 549.1L377.3 540.9L377.6 549.5L378.0 552.2L378.4 544.3L378.7 551.7L379.1 547.2L379.5 542.5L379.8 540.9L380.2 549.1L380.5 547.5L380.9 548.6L381.3 547.6L381.6 545.8L382.0 549.8L382.4 548.8L382.7 551.8L383.1 545.6L383.5 548.0L383.8 545.1L384.2 552.7L384.5 543.9L384.9 545.1L385.3 546.6L385.6 546.5L386.0 553.5L386.4 551.9L386.7 551.6L387.1 550.4L387.5 542.8L387.8 547.3L388.2 547.8L388.6 546.0L388.9 545.5L389.3 546.5L389.6 548.2L390.0 555.3L390.4 551.5L390.7 549.0L391.1 549.7L391.5 551.4L391.8 551.4L392.2 550.8L392.6 546.3L392.9 552.5L393.3 550.2L393.6 547.9L394.0 546.5L394.4 545.4L394.7 551.5L395.1 548.3L395.5 545.0L395.8 545.6L396.2 549.7L396.6 551.4L396.9 551.2L397.3 551.4L397.7 549.9L398.0 544.7L398.4 547.0L398.7 543.8L399.1 548.7L399.5 546.7L399.8 549.9L400.2 549.0L400.6 542.5L400.9 549.5L401.3 549.3L401.7 544.0L402.0 547.1L402.4 548.4L402.7 546.0L403.1 550.1L403.5 550.8L403.8 552.7L404.2 548.3L404.6 546.8L404.9 545.5L405.3 545.2L405.7 546.8L406.0 545.8L406.4 546.1L406.8 547.8L407.1 546.2L407.5 545.9L407.8 546.9L408.2 546.5L408.6 548.7L408.9 549.8L409.3 553.9L409.7 552.6L410.0 547.3L410.4 549.9L410.8 547.8L411.1 548.6L411.5 546.4L411.8 546.3L412.2 544.1L412.6 542.2L412.9 551.3L413.3 554.8L413.7 546.4L414.0 549.2L414.4 543.4L414.8 544.0L415.1 544.4L415.5 545.0L415.9 546.1L416.2 540.8L416.6 546.5L416.9 548.5L417.3 544.0L417.7 552.4L418.0 552.7L418.4 551.2L418.8 551.3L419.1 547.8L419.5 544.7L419.9 547.8L420.2 549.2L420.6 556.9L420.9 555.0L421.3 547.3L421.7 544.8L422.0 546.8L422.4 549.5L422.8 544.7L423.1 543.1L423.5 551.9L423.9 546.7L424.2 542.7L424.6 543.1L425.0 544.9L425.3 549.9L425.7 550.6L426.0 550.4L426.4 546.4L426.8 550.9L427.1 553.6L427.5 552.3L427.9 550.3L428.2 551.7L428.6 548.1L429.0 544.0L429.3 547.9L429.7 544.5L430.0 551.2L430.4 550.2L430.8 546.7L431.1 550.4L431.5 553.1L431.9 543.1L432.2 549.5L432.6 554.4L433.0 546.1L433.3 551.4L433.7 547.7L434.1 552.9L434.4 545.4L434.8 546.6L435.1 546.7L435.5 547.9L435.9 548.0L436.2 548.0L436.6 553.9L437.0 550.6L437.3 551.1L437.7 548.2L438.1 548.9L438.4 559.3" fill="none" stroke="#000" stroke-width="1.70" stroke-linejoin="round"/>
<text x="373.55" y="441.20" font-size="14.00" textLength="64.55" lengthAdjust="spacingAndGlyphs" fill="#000"><tspan font-weight="bold">(T</tspan><tspan font-weight="normal">β</tspan><tspan font-weight="bold">RIIb)2</tspan></text>
<path d="M368.70 439.50L360.42 442.75" stroke="#000" stroke-width="1.30" fill="none"/>
<path d="M353.90 445.30L360.22 439.49L362.48 445.27Z" fill="#000"/>
<text x="401.16" y="498.50" font-size="14.00" textLength="54.43" lengthAdjust="spacingAndGlyphs" fill="#000"><tspan font-weight="bold">(T</tspan><tspan font-weight="normal">β</tspan><tspan font-weight="bold">RII)2</tspan></text>
<path d="M460.8 493V463.5H450" fill="none" stroke="#000" stroke-width="1.2"/>
<path d="M460.80 463.50L449.40 463.50" stroke="#000" stroke-width="1.30" fill="none"/>
<path d="M442.40 463.50L450.40 460.40L450.40 466.60Z" fill="#000"/>
<text x="278.75" y="488.20" font-size="13.50" textLength="31.43" lengthAdjust="spacingAndGlyphs" fill="#000"><tspan font-weight="bold">1D11</tspan></text>
<path d="M278.40 473.80L272.64 466.50" stroke="#000" stroke-width="1.30" fill="none"/>
<path d="M268.30 461.00L275.69 465.36L270.82 469.20Z" fill="#000"/>
<text x="413.34" y="574.90" font-size="14.00" textLength="61.48" lengthAdjust="spacingAndGlyphs" fill="#000"><tspan font-weight="bold">T</tspan><tspan font-weight="normal">β</tspan><tspan font-weight="bold">RII-ED</tspan></text>
<path d="M95.50 693.80V913.20H471.50" fill="none" stroke="#000" stroke-width="1.6"/>
<path d="M93.70 912.45h3.40M93.70 896.88h3.40M93.70 881.30h3.40M93.70 865.72h3.40M93.70 850.15h3.40M93.70 834.57h3.40M93.70 819.00h3.40M93.70 803.42h3.40M93.70 787.85h3.40M93.70 772.27h3.40M93.70 756.70h3.40M93.70 741.12h3.40M93.70 725.55h3.40M93.70 709.97h3.40M93.70 694.40h3.40M95.50 911.70v3.30M108.03 911.70v3.30M120.55 911.70v3.30M133.07 911.70v3.30M145.60 911.70v3.30M158.12 911.70v3.30M170.65 911.70v3.30M183.18 911.70v3.30M195.70 911.70v3.30M208.22 911.70v3.30M220.75 911.70v3.30M233.28 911.70v3.30M245.80 911.70v3.30M258.32 911.70v3.30M270.85 911.70v3.30M283.38 911.70v3.30M295.90 911.70v3.30M308.43 911.70v3.30M320.95 911.70v3.30M333.48 911.70v3.30M346.00 911.70v3.30M358.52 911.70v3.30M371.05 911.70v3.30M383.57 911.70v3.30M396.10 911.70v3.30M408.62 911.70v3.30M421.15 911.70v3.30M433.68 911.70v3.30M446.20 911.70v3.30M458.73 911.70v3.30M471.25 911.70v3.30" fill="none" stroke="#000" stroke-width="1.2"/>
<text x="67.09" y="700.70" font-size="14.00" textLength="23.36" lengthAdjust="spacingAndGlyphs" fill="#000"><tspan font-weight="normal">120</tspan></text>
<text x="67.09" y="731.80" font-size="14.00" textLength="23.36" lengthAdjust="spacingAndGlyphs" fill="#000"><tspan font-weight="normal">100</tspan></text>
<text x="74.88" y="762.90" font-size="14.00" textLength="15.57" lengthAdjust="spacingAndGlyphs" fill="#000"><tspan font-weight="normal">80</tspan></text>
<text x="74.88" y="794.00" font-size="14.00" textLength="15.57" lengthAdjust="spacingAndGlyphs" fill="#000"><tspan font-weight="normal">60</tspan></text>
<text x="74.88" y="825.10" font-size="14.00" textLength="15.57" lengthAdjust="spacingAndGlyphs" fill="#000"><tspan font-weight="normal">40</tspan></text>
<text x="74.88" y="856.20" font-size="14.00" textLength="15.57" lengthAdjust="spacingAndGlyphs" fill="#000"><tspan font-weight="normal">20</tspan></text>
<text x="82.66" y="887.30" font-size="14.00" textLength="7.79" lengthAdjust="spacingAndGlyphs" fill="#000"><tspan font-weight="normal">0</tspan></text>
<text x="70.22" y="918.40" font-size="14.00" textLength="20.23" lengthAdjust="spacingAndGlyphs" fill="#000"><tspan font-weight="normal">-20</tspan></text>
<text x="81.46" y="931.50" font-size="14.00" textLength="28.02" lengthAdjust="spacingAndGlyphs" fill="#000"><tspan font-weight="normal">-100</tspan></text>
<text x="141.71" y="931.50" font-size="14.00" textLength="7.79" lengthAdjust="spacingAndGlyphs" fill="#000"><tspan font-weight="normal">0</tspan></text>
<text x="183.76" y="931.50" font-size="14.00" textLength="23.36" lengthAdjust="spacingAndGlyphs" fill="#000"><tspan font-weight="normal">100</tspan></text>
<text x="234.05" y="931.50" font-size="14.00" textLength="23.36" lengthAdjust="spacingAndGlyphs" fill="#000"><tspan font-weight="normal">200</tspan></text>
<text x="284.23" y="931.50" font-size="14.00" textLength="23.36" lengthAdjust="spacingAndGlyphs" fill="#000"><tspan font-weight="normal">300</tspan></text>
<text x="334.44" y="931.50" font-size="14.00" textLength="23.36" lengthAdjust="spacingAndGlyphs" fill="#000"><tspan font-weight="normal">400</tspan></text>
<text x="384.42" y="931.50" font-size="14.00" textLength="23.36" lengthAdjust="spacingAndGlyphs" fill="#000"><tspan font-weight="normal">500</tspan></text>
<text x="434.44" y="931.50" font-size="14.00" textLength="23.36" lengthAdjust="spacingAndGlyphs" fill="#000"><tspan font-weight="normal">600</tspan></text>
<text x="259.64" y="954.40" font-size="14.00" textLength="56.10" lengthAdjust="spacingAndGlyphs" fill="#000"><tspan font-weight="bold">Time (s)</tspan></text>
<text x="0" y="0" font-size="14.80" textLength="151.52" lengthAdjust="spacingAndGlyphs" transform="translate(56.20 882.10) rotate(-90)"><tspan font-weight="bold">Normalized response</tspan></text>
<text x="105.91" y="708.20" font-size="14.80" textLength="58.60" lengthAdjust="spacingAndGlyphs" fill="#000"><tspan font-weight="bold">TGF-</tspan><tspan font-weight="normal">β</tspan><tspan font-weight="bold">3</tspan></text>
<path d="M120.5 878.6L120.9 877.4L121.2 879.8L121.5 882.0L121.8 874.9L122.1 878.8L122.4 880.5L122.7 883.4L123.0 885.2L123.3 883.2L123.6 880.9L123.9 880.6L124.2 882.4L124.5 881.1L124.8 885.9L125.1 882.8L125.4 878.7L125.7 879.6L126.0 890.3L126.3 883.7L126.6 881.2L126.9 883.8L127.2 881.2L127.5 879.6L127.8 882.4L128.1 881.8L128.4 884.5L128.7 878.0L129.0 882.0L129.3 880.7L129.6 874.3L129.9 885.6L130.2 876.8L130.5 882.6L130.8 879.5L131.1 879.2L131.4 877.9L131.7 885.7L132.0 882.6L132.3 887.0L132.6 883.4L132.9 884.5L133.2 881.8L133.5 880.2L133.8 882.0L134.1 878.8L134.4 881.1L134.7 877.8L135.0 880.6L135.3 885.4L135.6 879.8L135.9 883.0L136.2 879.9L136.5 877.1L136.8 877.8L137.1 876.0L137.4 878.7L137.7 879.6L138.0 881.3L138.3 878.4L138.6 875.9L138.9 882.5L139.2 879.6L139.5 880.0L139.8 884.8L140.1 882.7L140.4 879.6L140.7 881.9L141.0 877.9L141.3 879.9L141.6 878.0L141.9 880.0L142.2 881.9L142.5 884.9L142.8 884.1L143.1 880.7L143.4 884.3L143.7 880.7L144.0 883.1L144.3 880.0L144.6 882.5L144.9 879.9L145.2 881.3L145.5 881.8L145.8 881.4L146.1 882.5L146.4 877.7L146.7 885.8L147.0 884.6L147.3 878.1L147.6 875.8L147.9 871.8L148.2 878.1L148.5 881.6L148.8 877.2L149.1 882.0L149.4 882.7L149.6 884.6L149.9 877.9L150.2 875.5L150.5 867.0L150.8 858.5L151.1 849.3L151.4 837.4L151.7 831.0L152.0 827.1L152.3 823.6L152.6 824.9L152.9 819.9L153.2 819.0L153.5 817.9L153.8 818.8L154.1 812.4L154.4 812.3L154.7 809.9L155.0 807.6L155.3 805.9L155.6 809.5L155.9 807.4L156.2 806.7L156.5 807.0L156.8 804.5L157.1 804.5L157.4 798.5L157.7 797.7L158.0 798.2L158.3 796.2L158.6 799.3L158.9 796.1L159.2 798.2L159.5 795.4L159.8 793.5L160.1 795.0L160.4 794.6L160.7 791.3L161.0 790.6L161.3 791.7L161.6 791.7L161.9 792.4L162.2 790.5L162.5 788.2L162.8 792.4L163.1 792.1L163.4 786.4L163.7 789.3L164.0 789.9L164.3 790.0L164.6 785.7L164.9 789.5L165.2 785.6L165.5 783.5L165.8 784.9L166.1 782.7L166.4 781.3L166.7 781.5L167.0 780.4L167.3 784.4L167.6 782.1L167.9 781.1L168.2 781.6L168.5 780.2L168.8 777.9L169.1 778.6L169.4 779.2L169.7 780.5L170.0 780.0L170.3 776.2L170.6 779.5L171.0 777.4L171.3 777.2L171.6 780.8L171.9 775.8L172.2 777.7L172.5 775.4L172.8 778.2L173.1 779.0L173.4 777.5L173.7 772.3L174.0 776.2L174.3 775.5L174.6 773.9L174.9 778.3L175.2 773.3L175.5 773.6L175.8 774.0L176.1 770.4L176.4 774.5L176.7 776.2L177.0 773.2L177.3 775.4L177.6 773.7L177.9 773.5L178.2 770.4L178.5 767.7L178.8 767.7L179.1 770.2L179.4 767.5L179.7 771.3L180.0 769.5L180.3 767.0L180.6 766.1L180.9 768.7L181.2 766.0L181.5 765.4L181.8 767.4L182.1 764.9L182.4 766.5L182.7 768.5L183.0 764.9L183.3 761.9L183.6 763.7L183.9 764.4L184.2 761.8L184.5 762.7L184.8 764.2L185.1 762.9L185.4 765.1L185.7 760.6L186.0 759.3L186.3 762.1L186.6 759.3L186.9 761.1L187.2 759.8L187.5 755.9L187.8 757.6L188.1 757.1L188.4 758.5L188.7 759.6L189.0 761.8L189.3 757.2L189.6 755.9L189.9 757.0L190.2 757.1L190.5 753.8L190.8 755.1L191.1 754.0L191.4 754.8L191.7 753.4L192.0 753.4L192.3 755.8L192.6 753.7L192.9 753.5L193.2 755.0L193.5 754.9L193.8 756.3L194.1 757.7L194.4 752.8L194.7 752.1L195.0 751.2L195.3 754.5L195.6 752.6L195.9 752.5L196.2 754.3L196.5 753.1L196.8 751.7L197.1 748.7L197.4 750.4L197.7 748.8L198.0 750.3L198.3 748.9L198.6 747.6L198.9 750.7L199.2 748.5L199.5 749.2L199.8 747.3L200.1 746.8L200.4 747.7L200.7 748.4L201.0 746.8L201.3 747.5L201.6 745.3L201.9 745.9L202.2 748.3L202.5 748.6L202.8 748.4L203.1 747.1L203.4 744.5L203.7 743.6L204.0 743.7L204.3 747.3L204.6 745.1L204.9 746.9L205.2 748.6L205.5 744.5L205.8 745.9L206.1 745.6L206.4 744.4L206.7 745.4L207.0 743.3L207.3 743.5L207.6 742.1L207.9 743.7L208.2 744.2L208.5 743.6L208.8 740.3L209.1 742.1L209.4 743.2L209.7 742.1L210.0 741.9L210.3 741.3L210.6 742.9L210.9 741.6L211.2 742.0L211.5 738.4L211.8 740.0L212.1 740.7L212.4 738.6L212.7 738.4L213.0 738.2L213.3 738.7L213.6 741.3L213.9 742.0L214.2 739.0L214.5 737.9L214.8 736.9L215.1 737.4L215.4 737.4L215.7 738.8L216.0 737.4L216.3 734.2L216.6 736.8L216.9 733.2L217.2 737.1L217.5 736.8L217.8 734.9L218.1 738.4L218.4 737.5L218.7 734.7L219.0 734.6L219.3 732.4L219.6 733.2L219.9 735.5L220.2 734.5L220.5 735.3L220.9 734.2L221.2 733.8L221.5 735.6L221.8 734.1L222.1 738.6L222.4 733.6L222.7 736.0L223.0 730.6L223.3 731.1L223.6 733.5L223.9 732.4L224.2 730.7L224.5 732.5L224.8 728.0L225.1 729.4L225.4 730.4L225.7 733.8L226.0 735.0L226.3 733.7L226.6 731.3L226.9 731.6L227.2 731.0L227.5 730.4L227.8 731.7L228.1 729.2L228.4 730.0L228.7 731.5L229.0 731.1L229.3 730.6L229.6 727.7L229.9 729.0L230.2 728.4L230.5 730.0L230.8 729.0L231.1 727.6L231.4 729.0L231.7 727.2L232.0 722.8L232.3 728.2L232.6 728.2L232.9 724.0L233.2 725.3L233.5 725.7L233.8 724.5L234.1 724.4L234.4 724.3L234.7 727.1L235.0 724.3L235.3 726.2L235.6 724.9L235.9 724.6L236.2 727.2L236.5 724.1L236.8 729.5L237.1 723.4L237.4 727.0L237.7 726.3L237.8 723.0L238.1 723.9L238.4 724.3L238.7 723.8L239.0 724.2L239.3 724.9L239.6 724.6L239.9 725.1L240.2 726.3L240.5 726.1L240.8 726.6L241.1 726.9L241.4 726.8L241.7 727.0L242.0 727.3L242.3 727.9L242.6 727.6L242.9 727.7L243.2 728.4L243.5 728.0L243.8 729.1L244.1 728.6L244.4 729.0L244.7 729.1L245.0 728.6L245.3 728.0L245.6 729.4L245.9 729.0L246.2 729.4L246.5 729.6L246.8 729.5L247.1 730.3L247.4 730.0L247.7 729.8L248.0 729.3L248.3 729.3L248.6 728.4L248.9 729.4L249.2 730.3L249.5 730.0L249.8 730.5L250.1 730.2L250.4 731.2L250.7 731.6L251.0 730.5L251.3 731.5L251.6 731.0L251.9 730.3L252.2 729.7L252.5 729.9L252.8 730.9L253.1 731.7L253.4 730.4L253.7 731.0L254.0 730.9L254.3 731.3L254.6 732.1L254.9 731.9L255.2 731.7L255.5 733.0L255.8 732.0L256.1 731.7L256.4 732.1L256.7 731.4L257.0 731.6L257.3 732.1L257.6 732.4L257.9 733.0L258.2 732.9L258.5 733.1L258.8 732.4L259.1 732.5L259.4 731.8L259.7 732.2L260.0 732.7L260.3 732.6L260.6 732.5L260.9 732.5L261.2 732.4L261.5 732.6L261.8 732.8L262.1 733.7L262.4 732.9L262.7 732.9L263.0 733.6L263.3 733.4L263.6 734.0L263.9 733.3L264.2 733.7L264.5 734.6L264.8 734.6L265.1 734.3L265.4 734.5L265.7 734.9L266.0 734.3L266.3 735.1L266.6 735.3L266.9 735.0L267.2 735.9L267.5 734.8L267.8 735.2L268.1 735.5L268.4 735.5L268.7 735.2L269.0 734.9L269.3 735.3L269.6 735.6L269.9 736.9L270.2 736.6L270.5 735.8L270.8 735.4L271.2 736.5L271.5 735.9L271.8 736.6L272.1 736.3L272.4 736.0L272.7 736.5L273.0 736.2L273.3 736.3L273.6 737.1L273.9 737.7L274.2 736.7L274.5 736.8L274.8 737.1L275.1 737.5L275.4 737.7L275.7 738.3L276.0 738.3L276.3 737.0L276.6 738.4L276.9 738.2L277.2 738.4L277.5 738.0L277.8 737.0L278.1 737.6L278.4 737.1L278.7 738.2L279.0 737.4L279.3 737.8L279.6 738.5L279.9 738.2L280.2 738.1L280.5 738.5L280.8 737.5L281.1 738.4L281.4 738.8L281.7 738.9L282.0 738.6L282.3 738.3L282.6 738.6L282.9 738.3L283.2 739.5L283.5 739.0L283.8 739.4L284.1 738.8L284.4 738.6L284.7 738.9L285.0 739.2L285.3 737.9L285.6 738.3L285.9 739.2L286.2 738.0L286.5 739.0L286.8 739.5L287.1 738.9L287.4 739.2L287.7 739.9L288.0 738.9L288.3 739.2L288.6 738.8L288.9 739.4L289.2 739.8L289.5 741.2L289.8 739.8L290.1 739.6L290.4 740.3L290.7 739.9L291.0 739.8L291.3 740.2L291.6 740.2L291.9 739.4L292.2 739.3L292.5 739.1L292.8 740.6L293.1 739.7L293.4 740.2L293.7 740.5L294.0 739.7L294.3 740.6L294.6 740.2L294.9 740.6L295.2 740.1L295.5 740.7L295.8 739.7L296.1 739.4L296.4 740.7L296.7 740.6L297.0 740.6L297.3 740.3L297.6 739.7L297.9 739.4L298.2 739.2L298.5 739.6L298.8 741.7L299.1 741.8L299.4 741.6L299.7 741.6L300.0 741.1L300.3 741.0L300.6 740.6L300.9 740.7L301.2 741.8L301.5 741.8L301.8 741.3L302.1 740.6L302.4 740.3L302.7 740.5L303.0 740.5L303.3 740.4L303.6 741.4L303.9 741.3L304.2 741.2L304.5 741.2L304.8 741.0L305.1 740.5L305.4 741.3L305.7 740.8L306.0 742.0L306.3 741.5L306.6 741.3L306.9 741.6L307.2 741.7L307.5 740.9L307.8 740.5L308.1 741.7L308.4 740.8L308.7 741.4L309.0 740.5L309.3 741.3L309.6 741.4L309.9 742.3L310.2 741.7L310.5 741.7L310.8 742.6L311.1 742.2L311.4 741.3L311.7 741.7L312.0 742.0L312.3 741.8L312.6 741.5L312.9 741.7L313.2 742.2L313.5 741.8L313.8 742.2L314.1 742.9L314.4 742.7L314.7 742.3L315.0 742.1L315.3 742.2L315.6 742.1L315.9 742.5L316.2 742.0L316.5 742.3L316.8 742.1L317.1 742.8L317.4 743.6L317.7 742.5L318.0 742.9L318.3 741.9L318.6 741.9L318.9 742.1L319.2 743.4L319.5 742.4L319.8 743.0L320.1 741.9L320.4 740.8L320.7 743.3L321.1 743.0L321.4 742.3L321.7 743.4L322.0 743.5L322.3 743.7L322.6 743.2L322.9 742.5L323.2 742.7L323.5 743.1L323.8 742.5L324.1 742.9L324.4 743.2L324.7 743.2L325.0 743.9L325.3 743.0L325.6 744.6L325.9 743.1L326.2 743.5L326.5 743.0L326.8 743.3L327.1 743.1L327.4 742.7L327.7 742.4L328.0 743.1L328.3 743.5L328.6 743.1L328.9 742.5L329.2 743.6L329.5 743.8L329.8 743.9L330.1 743.3L330.4 744.0L330.7 743.2L331.0 743.0L331.3 743.1L331.6 743.5L331.9 743.3L332.2 744.0L332.5 743.2L332.8 743.7L333.1 742.9L333.4 743.3L333.7 744.0L334.0 744.0L334.3 744.5L334.6 744.8L334.9 744.0L335.2 743.6L335.5 744.3L335.8 743.8L336.1 744.2L336.4 744.6L336.7 744.8L337.0 744.5L337.3 744.0L337.6 744.0L337.9 745.6L338.2 744.8L338.5 745.2L338.8 745.0L339.1 745.2L339.4 745.7L339.7 744.6L340.0 745.0L340.3 744.7L340.6 744.5L340.9 744.5L341.2 744.7L341.5 744.7L341.8 744.4L342.1 745.1L342.4 744.2L342.7 745.3L343.0 745.2L343.3 745.4L343.6 744.1L343.9 744.0L344.2 745.5L344.5 745.2L344.8 744.9L345.1 745.3L345.4 744.8L345.7 745.2L346.0 745.3L346.3 745.8L346.6 745.9L346.9 745.3L347.2 745.6L347.5 746.0L347.8 744.9L348.1 745.9L348.4 746.0L348.7 745.4L349.0 745.2L349.3 745.6L349.6 745.4L349.9 745.5L350.2 746.3L350.5 745.9L350.8 747.0L351.1 745.7L351.4 745.7L351.7 746.6L352.0 747.0L352.3 745.7L352.6 745.3L352.9 745.0L353.2 745.8L353.5 745.8L353.8 745.2L354.1 745.7L354.4 746.5L354.7 746.4L355.0 747.0L355.3 746.8L355.6 746.5L355.9 746.5L356.2 746.4L356.5 746.6L356.8 745.9L357.1 747.0L357.4 745.8L357.7 746.9L358.0 747.3L358.3 746.6L358.6 746.4L358.9 747.2L359.2 746.4L359.5 745.9L359.8 746.1L360.1 747.1L360.4 745.8L360.7 746.6L361.0 746.4L361.3 747.1L361.6 747.2L361.9 747.4L362.2 747.4L362.5 747.4L362.8 746.2L363.1 746.6L363.4 745.9L363.7 746.9L364.0 747.0L364.3 746.4L364.6 747.0L364.9 747.0L365.2 747.4L365.5 748.0L365.8 748.0L366.1 747.9L366.4 746.8L366.7 747.3L367.0 748.0L367.3 747.2L367.6 747.8L367.9 747.1L368.2 748.3L368.5 750.0L368.8 747.3L369.1 747.2L369.4 748.8L369.7 747.7L370.0 747.7L370.3 747.5L370.6 747.5L370.9 747.7L371.3 748.1L371.6 748.3L371.9 747.4L372.2 747.6L372.5 747.4L372.8 748.0L373.1 747.7L373.4 748.3L373.7 747.5L374.0 749.4L374.3 748.7L374.6 748.3L374.9 748.1L375.2 748.7L375.5 748.9L375.8 749.1L376.1 748.5L376.4 748.4L376.7 748.3L377.0 748.3L377.3 747.9L377.6 748.0L377.9 747.6L378.2 747.8L378.5 748.0L378.8 748.5L379.1 749.5L379.4 749.4L379.7 749.3L380.0 750.1L380.3 749.5L380.6 748.7L380.9 749.9L381.2 749.0L381.5 749.1L381.8 748.6L382.1 749.4L382.4 748.2L382.7 748.7L383.0 748.3L383.3 748.5L383.6 749.5L383.9 749.1L384.2 748.8L384.5 748.2L384.8 748.5L385.1 749.6L385.4 749.2L385.7 749.6L386.0 749.6L386.3 749.4L386.6 750.6L386.9 749.7L387.2 749.6L387.5 749.5L387.8 749.7L388.1 749.5L388.4 750.0L388.7 748.8L389.0 749.6L389.3 749.9L389.6 749.6L389.9 749.7L390.2 749.4L390.5 749.4L390.8 750.4L391.1 749.8L391.4 751.2L391.7 749.7L392.0 749.9L392.3 749.7L392.6 750.0L392.9 750.3L393.2 750.7L393.5 749.9L393.8 751.3L394.1 751.2L394.4 750.9L394.7 750.1L395.0 750.0L395.3 750.3L395.6 750.8L395.9 750.8L396.2 750.6L396.5 750.8L396.8 750.7L397.1 749.7L397.4 752.1L397.7 750.6L398.0 751.1L398.3 752.0L398.6 751.2L398.9 751.2L399.2 752.0L399.5 751.3L399.8 752.0L400.1 751.8L400.4 751.6L400.7 752.6L401.0 751.6L401.3 752.4L401.6 752.3L401.9 751.8L402.2 752.0L402.5 751.1L402.8 751.9L403.1 752.1L403.4 752.5L403.7 752.1L404.0 752.3L404.3 752.6L404.6 752.8L404.9 753.6L405.2 752.6L405.5 753.4L405.8 752.5L406.1 753.0L406.4 752.2L406.7 753.2L407.0 752.3L407.3 752.7L407.6 753.4L407.9 752.4L408.2 752.1L408.5 752.1L408.8 751.5L409.1 751.9L409.4 751.8L409.7 752.3L410.0 752.8L410.3 752.3L410.6 752.5L410.9 752.9L411.2 752.5L411.5 752.4L411.8 753.5L412.1 753.1L412.4 753.2L412.7 752.9L413.0 753.7L413.3 753.8L413.6 753.4L413.9 753.1L414.2 753.1L414.5 753.6L414.8 753.2L415.1 753.7L415.4 753.7L415.7 753.5L416.0 753.5L416.3 754.4L416.6 753.6L416.9 754.9L417.2 754.6L417.5 753.8L417.8 754.5L418.1 755.0L418.4 754.0L418.7 754.9L419.0 754.0L419.3 753.8L419.6 753.4L419.9 754.1L420.2 753.0L420.5 754.2L420.8 753.3L421.1 753.0L421.5 754.8L421.8 754.6L422.1 755.0L422.4 753.6L422.7 754.1L423.0 754.4L423.3 754.5L423.6 754.7L423.9 754.3L424.2 754.8L424.5 754.1L424.8 754.1L425.1 754.5L425.4 754.0L425.7 754.1L426.0 754.4L426.3 755.1L426.6 755.1L426.9 754.9L427.2 755.0L427.5 754.6L427.8 754.7L428.1 755.2L428.4 754.2L428.7 754.7L429.0 754.6L429.3 755.8L429.6 754.6L429.9 755.0L430.2 755.1L430.5 755.8L430.8 755.3L431.1 755.3L431.4 755.4L431.7 755.2L432.0 755.4L432.3 755.1L432.6 754.6L432.9 755.4L433.2 755.1L433.5 754.8L433.8 755.1L434.1 754.9L434.4 754.4L434.7 754.3L435.0 754.7L435.3 754.2L435.6 754.6L435.9 754.4L436.2 754.6L436.5 755.4L436.8 756.5L437.1 755.5L437.4 755.9L437.7 754.9L438.0 754.9L438.3 755.4L438.6 755.0L438.9 755.2L439.2 755.1L439.5 755.2L439.8 755.2L440.1 755.9L440.4 756.1L440.7 756.7L441.0 756.4L441.3 756.5L441.6 756.3L441.9 756.0L442.2 757.1L442.5 756.6L442.8 756.6L443.1 756.1L443.4 755.9L443.7 756.2L444.0 755.8L444.3 756.4L444.6 755.4L444.9 755.8L445.2 755.8L445.5 755.5L445.8 755.6L446.1 755.2" fill="none" stroke="#000" stroke-width="1.70" stroke-linejoin="round"/>
<path d="M120.5 880.0L120.9 882.3L121.2 881.8L121.5 887.3L121.8 878.3L122.1 884.3L122.4 879.1L122.7 882.2L123.0 881.3L123.3 880.4L123.6 881.5L123.9 881.2L124.2 879.9L124.5 883.0L124.8 878.9L125.1 881.9L125.4 884.6L125.7 879.8L126.0 881.6L126.3 879.4L126.6 879.9L126.9 883.6L127.2 877.4L127.5 881.6L127.8 880.1L128.1 880.9L128.4 879.3L128.7 877.1L129.0 880.2L129.3 880.5L129.6 882.4L129.9 880.4L130.2 882.9L130.5 880.8L130.8 878.1L131.1 880.3L131.4 880.7L131.7 877.0L132.0 881.1L132.3 884.3L132.6 880.3L132.9 878.5L133.2 879.5L133.5 876.7L133.8 881.7L134.1 882.3L134.4 880.1L134.7 882.5L135.0 886.6L135.3 882.0L135.6 877.4L135.9 883.5L136.2 881.9L136.5 878.3L136.8 880.6L137.1 881.0L137.4 881.4L137.7 879.4L138.0 880.0L138.3 880.2L138.6 884.9L138.9 878.3L139.2 881.1L139.5 883.7L139.8 879.6L140.1 881.4L140.4 883.1L140.7 880.4L141.0 882.5L141.3 878.4L141.6 880.7L141.9 881.0L142.2 877.9L142.5 880.7L142.8 879.9L143.1 883.8L143.4 879.2L143.7 878.5L144.0 887.6L144.3 889.0L144.6 880.7L144.9 879.8L145.2 881.1L145.5 883.6L145.8 881.4L146.1 882.5L146.4 879.5L146.7 880.5L147.0 882.0L147.3 881.3L147.6 878.1L147.9 882.0L148.2 884.5L148.5 882.3L148.8 877.8L149.1 880.9L149.4 880.4L149.6 880.7L149.9 868.8L150.2 865.0L150.5 854.7L150.8 846.0L151.1 836.2L151.4 832.8L151.7 824.6L152.0 817.7L152.3 821.9L152.6 814.9L152.9 808.3L153.2 806.8L153.5 807.0L153.8 803.5L154.1 801.6L154.4 800.9L154.7 797.9L155.0 797.0L155.3 797.0L155.6 796.5L155.9 792.3L156.2 790.6L156.5 792.2L156.8 793.8L157.1 792.3L157.4 788.4L157.7 790.0L158.0 785.9L158.3 786.2L158.6 784.2L158.9 786.5L159.2 784.9L159.5 782.7L159.8 785.3L160.1 786.6L160.4 782.4L160.7 786.1L161.0 778.2L161.3 780.9L161.6 779.2L161.9 778.9L162.2 777.6L162.5 775.0L162.8 775.3L163.1 779.6L163.4 777.4L163.7 776.3L164.0 777.5L164.3 774.5L164.6 775.8L164.9 773.7L165.2 776.0L165.5 773.4L165.8 776.4L166.1 772.3L166.4 773.2L166.7 772.9L167.0 771.7L167.3 774.6L167.6 770.7L167.9 771.0L168.2 771.1L168.5 768.9L168.8 769.8L169.1 770.1L169.4 769.7L169.7 766.7L170.0 765.9L170.3 766.6L170.6 766.3L171.0 765.0L171.3 764.8L171.6 768.1L171.9 763.0L172.2 761.2L172.5 761.8L172.8 767.5L173.1 763.4L173.4 766.6L173.7 765.5L174.0 763.4L174.3 759.8L174.6 759.2L174.9 762.0L175.2 757.9L175.5 760.3L175.8 761.6L176.1 762.7L176.4 758.5L176.7 759.5L177.0 757.5L177.3 759.3L177.6 754.6L177.9 761.0L178.2 761.4L178.5 758.4L178.8 760.1L179.1 759.4L179.4 756.6L179.7 757.6L180.0 757.1L180.3 755.7L180.6 756.4L180.9 755.3L181.2 754.3L181.5 757.4L181.8 754.5L182.1 752.4L182.4 757.5L182.7 752.2L183.0 750.7L183.3 753.7L183.6 756.4L183.9 753.8L184.2 758.5L184.5 751.0L184.8 756.8L185.1 751.9L185.4 752.1L185.7 753.7L186.0 751.6L186.3 750.7L186.6 749.6L186.9 747.6L187.2 750.4L187.5 750.9L187.8 751.4L188.1 749.9L188.4 746.0L188.7 748.3L189.0 750.7L189.3 749.9L189.6 744.3L189.9 746.0L190.2 747.7L190.5 748.2L190.8 747.3L191.1 747.3L191.4 749.3L191.7 743.6L192.0 745.9L192.3 746.5L192.6 748.1L192.9 744.5L193.2 749.8L193.5 746.0L193.8 743.7L194.1 746.1L194.4 744.2L194.7 744.7L195.0 745.9L195.3 744.5L195.6 746.7L195.9 743.5L196.2 740.5L196.5 740.0L196.8 747.0L197.1 740.3L197.4 742.5L197.7 741.8L198.0 740.8L198.3 748.8L198.6 744.7L198.9 748.8L199.2 741.9L199.5 742.6L199.8 740.8L200.1 739.8L200.4 741.3L200.7 743.0L201.0 740.6L201.3 739.6L201.6 738.7L201.9 740.8L202.2 739.7L202.5 740.1L202.8 741.5L203.1 742.4L203.4 739.5L203.7 742.8L204.0 742.0L204.3 739.7L204.6 739.8L204.9 737.0L205.2 736.3L205.5 739.4L205.8 740.7L206.1 741.3L206.4 736.2L206.7 738.7L207.0 736.7L207.3 739.5L207.6 736.4L207.9 736.1L208.2 738.7L208.5 737.4L208.8 737.4L209.1 737.1L209.4 744.6L209.7 737.5L210.0 734.9L210.3 733.9L210.6 734.0L210.9 733.8L211.2 733.5L211.5 735.2L211.8 738.2L212.1 734.9L212.4 737.4L212.7 737.3L213.0 732.1L213.3 733.0L213.6 735.2L213.9 737.8L214.2 734.6L214.5 736.8L214.8 735.2L215.1 734.5L215.4 731.4L215.7 733.9L216.0 734.8L216.3 733.8L216.6 733.5L216.9 732.0L217.2 731.0L217.5 732.9L217.8 734.5L218.1 732.3L218.4 729.4L218.7 734.1L219.0 730.8L219.3 728.9L219.6 731.7L219.9 729.1L220.2 732.9L220.5 731.7L220.9 730.6L221.2 730.5L221.5 730.4L221.8 732.1L222.1 729.8L222.4 729.1L222.7 736.3L223.0 730.2L223.3 731.7L223.6 728.9L223.9 730.4L224.2 729.6L224.5 730.6L224.8 732.1L225.1 725.7L225.4 726.5L225.7 727.2L226.0 727.5L226.3 730.2L226.6 727.6L226.9 725.7L227.2 730.6L227.5 727.3L227.8 724.1L228.1 727.3L228.4 731.4L228.7 734.0L229.0 733.2L229.3 729.8L229.6 726.5L229.9 729.3L230.2 723.8L230.5 726.8L230.8 724.7L231.1 726.6L231.4 726.6L231.7 720.5L232.0 726.4L232.3 725.3L232.6 725.8L232.9 724.2L233.2 724.8L233.5 725.6L233.8 726.0L234.1 724.0L234.4 725.5L234.7 729.9L235.0 727.3L235.3 726.9L235.6 728.3L235.9 727.0L236.2 728.0L236.5 725.8L236.8 724.9L237.1 722.6L237.4 724.9L237.7 725.1L237.8 725.4L238.1 724.7L238.4 725.8L238.7 726.9L239.0 727.7L239.3 726.8L239.6 724.5L239.9 726.3L240.2 727.0L240.5 731.6L240.8 729.9L241.1 730.4L241.4 733.2L241.7 729.0L242.0 726.4L242.3 726.8L242.6 728.9L242.9 728.8L243.2 728.3L243.5 728.8L243.8 729.3L244.1 722.7L244.4 733.8L244.7 732.4L245.0 731.4L245.3 733.6L245.6 729.5L245.9 733.0L246.2 731.3L246.5 731.5L246.8 734.3L247.1 735.3L247.4 732.2L247.7 735.5L248.0 736.7L248.3 734.7L248.6 737.2L248.9 732.8L249.2 734.6L249.5 734.0L249.8 733.7L250.1 735.5L250.4 734.2L250.7 732.9L251.0 734.6L251.3 731.8L251.6 734.7L251.9 734.8L252.2 738.8L252.5 734.9L252.8 737.4L253.1 734.9L253.4 734.1L253.7 732.8L254.0 736.1L254.3 733.8L254.6 736.8L254.9 733.9L255.2 734.1L255.5 735.1L255.8 734.5L256.1 735.4L256.4 734.7L256.7 736.1L257.0 737.3L257.3 735.0L257.6 737.6L257.9 735.2L258.2 737.6L258.5 736.6L258.8 733.7L259.1 736.8L259.4 735.7L259.7 735.3L260.0 735.3L260.3 738.0L260.6 737.0L260.9 738.1L261.2 737.8L261.5 738.8L261.8 737.5L262.1 739.1L262.4 739.8L262.7 737.0L263.0 740.1L263.3 738.1L263.6 738.7L263.9 738.1L264.2 738.2L264.5 737.4L264.8 738.8L265.1 736.6L265.4 739.0L265.7 738.6L266.0 739.1L266.3 738.6L266.6 739.3L266.9 739.7L267.2 737.6L267.5 738.9L267.8 741.5L268.1 739.3L268.4 740.3L268.7 738.0L269.0 743.3L269.3 738.2L269.6 742.9L269.9 742.8L270.2 743.6L270.5 739.8L270.8 741.3L271.2 744.3L271.5 742.8L271.8 742.7L272.1 739.7L272.4 744.2L272.7 745.1L273.0 744.9L273.3 741.2L273.6 743.3L273.9 744.0L274.2 744.1L274.5 744.4L274.8 743.3L275.1 742.5L275.4 743.4L275.7 741.9L276.0 742.2L276.3 745.4L276.6 743.4L276.9 745.7L277.2 742.7L277.5 743.2L277.8 743.4L278.1 742.5L278.4 746.1L278.7 743.3L279.0 741.3L279.3 742.2L279.6 746.0L279.9 744.8L280.2 746.3L280.5 744.6L280.8 745.1L281.1 741.8L281.4 741.7L281.7 746.2L282.0 748.8L282.3 744.8L282.6 742.6L282.9 744.1L283.2 745.2L283.5 750.5L283.8 743.9L284.1 746.4L284.4 748.7L284.7 744.5L285.0 745.1L285.3 747.2L285.6 747.5L285.9 744.7L286.2 746.0L286.5 746.1L286.8 743.8L287.1 743.5L287.4 746.4L287.7 746.9L288.0 746.8L288.3 746.9L288.6 743.9L288.9 745.5L289.2 747.3L289.5 746.3L289.8 747.3L290.1 744.4L290.4 747.3L290.7 746.4L291.0 747.7L291.3 744.6L291.6 744.5L291.9 746.6L292.2 746.3L292.5 745.9L292.8 744.6L293.1 745.8L293.4 750.3L293.7 746.4L294.0 744.6L294.3 745.4L294.6 748.3L294.9 746.4L295.2 746.4L295.5 747.9L295.8 749.4L296.1 746.6L296.4 748.3L296.7 746.7L297.0 748.4L297.3 744.6L297.6 745.6L297.9 747.5L298.2 746.2L298.5 748.1L298.8 746.5L299.1 746.3L299.4 747.5L299.7 744.8L300.0 747.7L300.3 745.9L300.6 750.3L300.9 750.2L301.2 748.5L301.5 744.9L301.8 747.8L302.1 747.9L302.4 747.9L302.7 746.4L303.0 747.1L303.3 747.1L303.6 747.1L303.9 747.6L304.2 750.0L304.5 746.9L304.8 746.9L305.1 749.6L305.4 751.7L305.7 747.1L306.0 747.7L306.3 746.7L306.6 748.1L306.9 748.1L307.2 749.6L307.5 747.6L307.8 744.9L308.1 747.0L308.4 748.6L308.7 746.7L309.0 747.5L309.3 748.4L309.6 749.4L309.9 749.8L310.2 749.8L310.5 746.0L310.8 749.4L311.1 747.6L311.4 749.8L311.7 750.2L312.0 751.5L312.3 747.2L312.6 747.6L312.9 747.3L313.2 749.1L313.5 750.6L313.8 748.1L314.1 746.9L314.4 749.5L314.7 748.3L315.0 748.9L315.3 748.7L315.6 748.7L315.9 748.9L316.2 753.4L316.5 749.5L316.8 748.7L317.1 749.2L317.4 748.4L317.7 750.0L318.0 748.7L318.3 748.4L318.6 747.8L318.9 749.6L319.2 748.3L319.5 750.7L319.8 751.2L320.1 750.0L320.4 751.4L320.7 751.6L321.1 748.8L321.4 750.7L321.7 748.4L322.0 750.1L322.3 748.6L322.6 750.1L322.9 748.2L323.2 748.8L323.5 750.5L323.8 749.1L324.1 749.9L324.4 749.5L324.7 746.9L325.0 750.4L325.3 748.6L325.6 748.4L325.9 753.0L326.2 748.1L326.5 750.9L326.8 750.5L327.1 749.8L327.4 752.0L327.7 755.6L328.0 749.1L328.3 749.1L328.6 749.9L328.9 751.3L329.2 749.7L329.5 749.9L329.8 752.0L330.1 748.8L330.4 750.8L330.7 749.2L331.0 749.2L331.3 750.6L331.6 749.9L331.9 751.4L332.2 749.9L332.5 751.6L332.8 750.0L333.1 749.1L333.4 751.2L333.7 754.6L334.0 751.4L334.3 749.5L334.6 749.3L334.9 754.2L335.2 750.5L335.5 752.1L335.8 751.0L336.1 751.9L336.4 750.4L336.7 751.4L337.0 749.6L337.3 752.1L337.6 752.2L337.9 752.2L338.2 749.0L338.5 748.1L338.8 749.4L339.1 750.2L339.4 750.7L339.7 755.6L340.0 754.3L340.3 750.6L340.6 751.8L340.9 752.7L341.2 753.0L341.5 749.7L341.8 751.4L342.1 751.4L342.4 749.8L342.7 751.3L343.0 750.5L343.3 753.5L343.6 753.7L343.9 753.3L344.2 753.5L344.5 753.4L344.8 754.0L345.1 751.2L345.4 753.0L345.7 753.6L346.0 752.8L346.3 752.2L346.6 754.0L346.9 752.7L347.2 753.3L347.5 750.2L347.8 750.8L348.1 751.9L348.4 753.0L348.7 754.4L349.0 751.4L349.3 751.6L349.6 755.4L349.9 752.6L350.2 750.9L350.5 755.5L350.8 756.7L351.1 752.6L351.4 753.6L351.7 750.9L352.0 753.4L352.3 754.4L352.6 753.4L352.9 753.5L353.2 754.9L353.5 752.6L353.8 754.4L354.1 753.9L354.4 752.7L354.7 754.6L355.0 754.5L355.3 752.5L355.6 754.1L355.9 752.1L356.2 756.2L356.5 756.9L356.8 754.7L357.1 755.2L357.4 754.8L357.7 754.3L358.0 753.0L358.3 750.5L358.6 753.7L358.9 751.2L359.2 757.1L359.5 754.1L359.8 752.8L360.1 752.6L360.4 753.1L360.7 754.0L361.0 751.3L361.3 751.4L361.6 752.9L361.9 754.2L362.2 754.0L362.5 755.6L362.8 754.4L363.1 754.5L363.4 752.9L363.7 755.7L364.0 752.2L364.3 756.0L364.6 752.6L364.9 753.3L365.2 754.6L365.5 752.7L365.8 755.8L366.1 756.5L366.4 757.8L366.7 752.8L367.0 755.3L367.3 753.2L367.6 755.7L367.9 756.6L368.2 753.2L368.5 753.2L368.8 754.0L369.1 753.4L369.4 755.8L369.7 753.8L370.0 752.8L370.3 754.7L370.6 753.0L370.9 754.7L371.3 754.5L371.6 757.9L371.9 757.7L372.2 753.8L372.5 754.8L372.8 753.4L373.1 754.3L373.4 754.1L373.7 755.5L374.0 757.7L374.3 752.6L374.6 755.6L374.9 754.8L375.2 752.8L375.5 754.0L375.8 756.1L376.1 753.9L376.4 759.1L376.7 755.2L377.0 757.4L377.3 758.9L377.6 756.5L377.9 754.6L378.2 754.4L378.5 753.1L378.8 755.0L379.1 757.3L379.4 755.9L379.7 753.9L380.0 755.5L380.3 760.6L380.6 755.6L380.9 754.5L381.2 754.6L381.5 754.4L381.8 756.6L382.1 755.2L382.4 757.2L382.7 756.1L383.0 758.4L383.3 753.9L383.6 755.5L383.9 754.2L384.2 755.4L384.5 755.2L384.8 754.5L385.1 755.0L385.4 754.1L385.7 756.3L386.0 755.4L386.3 755.0L386.6 758.0L386.9 756.4L387.2 765.6L387.5 757.1L387.8 754.4L388.1 756.3L388.4 756.4L388.7 757.7L389.0 757.4L389.3 757.2L389.6 762.5L389.9 756.3L390.2 755.9L390.5 760.4L390.8 756.7L391.1 755.0L391.4 758.4L391.7 755.6L392.0 756.3L392.3 757.4L392.6 758.1L392.9 755.2L393.2 755.9L393.5 758.6L393.8 756.4L394.1 756.2L394.4 751.8L394.7 759.4L395.0 756.3L395.3 759.4L395.6 755.0L395.9 759.6L396.2 759.5L396.5 757.4L396.8 762.0L397.1 761.2L397.4 758.2L397.7 759.1L398.0 756.6L398.3 757.8L398.6 759.9L398.9 761.3L399.2 760.5L399.5 755.9L399.8 758.6L400.1 756.9L400.4 757.5L400.7 762.0L401.0 759.6L401.3 757.6L401.6 759.0L401.9 757.3L402.2 757.5L402.5 758.0L402.8 758.9L403.1 759.2L403.4 757.7L403.7 758.6L404.0 759.0L404.3 761.3L404.6 761.7L404.9 761.8L405.2 760.7L405.5 759.9L405.8 757.8L406.1 756.8L406.4 758.2L406.7 759.7L407.0 759.0L407.3 759.0L407.6 759.1L407.9 761.6L408.2 759.0L408.5 758.7L408.8 758.2L409.1 756.5L409.4 759.7L409.7 759.7L410.0 759.9L410.3 759.1L410.6 758.5L410.9 758.5L411.2 759.0L411.5 761.6L411.8 757.8L412.1 760.0L412.4 760.5L412.7 759.0L413.0 763.9L413.3 761.8L413.6 758.3L413.9 761.8L414.2 760.4L414.5 759.4L414.8 756.6L415.1 759.2L415.4 760.0L415.7 762.3L416.0 760.7L416.3 760.1L416.6 762.0L416.9 760.3L417.2 760.5L417.5 762.0L417.8 760.1L418.1 762.6L418.4 758.4L418.7 757.9L419.0 759.6L419.3 760.5L419.6 761.7L419.9 761.5L420.2 759.7L420.5 762.8L420.8 761.5L421.1 760.7L421.5 759.6L421.8 760.8L422.1 759.7L422.4 759.0L422.7 764.3L423.0 762.2L423.3 759.8L423.6 764.8L423.9 763.4L424.2 762.2L424.5 763.6L424.8 761.4L425.1 761.4L425.4 760.9L425.7 766.1L426.0 761.6L426.3 761.2L426.6 760.7L426.9 761.0L427.2 759.2L427.5 760.3L427.8 759.1L428.1 759.0L428.4 760.0L428.7 760.3L429.0 760.6L429.3 761.9L429.6 761.9L429.9 760.8L430.2 761.7L430.5 761.3L430.8 761.8L431.1 761.4L431.4 760.9L431.7 762.6L432.0 762.5L432.3 761.1L432.6 762.7L432.9 761.7L433.2 762.7L433.5 763.2L433.8 764.9L434.1 759.3L434.4 762.4L434.7 765.1L435.0 760.8L435.3 762.5L435.6 762.1L435.9 760.4L436.2 761.7L436.5 764.8L436.8 760.1L437.1 762.2L437.4 760.2L437.7 763.3L438.0 758.4L438.3 761.5L438.6 762.6L438.9 761.2L439.2 764.2L439.5 760.9L439.8 762.4L440.1 762.5L440.4 762.0L440.7 759.8L441.0 762.0L441.3 762.4L441.6 759.7L441.9 762.1L442.2 763.7L442.5 762.1L442.8 762.9L443.1 763.1L443.4 762.4L443.7 760.6L444.0 760.4L444.3 761.5L444.6 766.6L444.9 760.8L445.2 762.8L445.5 761.5L445.8 760.0L446.1 761.7" fill="none" stroke="#000" stroke-width="1.70" stroke-linejoin="round"/>
<path d="M120.5 882.0L120.9 880.4L121.2 879.3L121.5 877.4L121.8 878.1L122.1 877.0L122.4 878.7L122.7 881.3L123.0 882.9L123.3 877.3L123.6 880.8L123.9 880.4L124.2 879.0L124.5 878.4L124.8 887.0L125.1 882.8L125.4 880.6L125.7 879.2L126.0 877.3L126.3 879.7L126.6 878.9L126.9 880.7L127.2 881.1L127.5 878.7L127.8 878.7L128.1 878.9L128.4 882.8L128.7 886.4L129.0 877.4L129.3 881.6L129.6 879.7L129.9 878.2L130.2 877.7L130.5 879.8L130.8 879.1L131.1 879.4L131.4 881.9L131.7 884.2L132.0 879.2L132.3 884.1L132.6 880.9L132.9 882.6L133.2 881.0L133.5 880.3L133.8 880.1L134.1 882.5L134.4 876.8L134.7 878.0L135.0 883.5L135.3 880.1L135.6 880.6L135.9 880.6L136.2 882.5L136.5 882.8L136.8 883.4L137.1 880.3L137.4 882.1L137.7 883.1L138.0 882.4L138.3 883.8L138.6 887.1L138.9 884.8L139.2 881.2L139.5 884.4L139.8 881.4L140.1 881.3L140.4 877.0L140.7 878.8L141.0 881.5L141.3 882.9L141.6 885.8L141.9 881.9L142.2 877.4L142.5 878.5L142.8 880.6L143.1 880.2L143.4 883.9L143.7 878.3L144.0 884.4L144.3 882.1L144.6 879.7L144.9 878.5L145.2 885.1L145.5 884.6L145.8 880.7L146.1 881.7L146.4 886.1L146.7 880.3L147.0 884.5L147.3 886.3L147.6 881.9L147.9 880.0L148.2 879.8L148.5 882.7L148.8 879.6L149.1 881.5L149.4 886.0L149.6 884.2L149.9 876.6L150.2 860.0L150.5 853.7L150.8 841.3L151.1 828.3L151.4 819.7L151.7 817.1L152.0 810.3L152.3 806.0L152.6 808.6L152.9 805.0L153.2 803.9L153.5 800.8L153.8 798.6L154.1 798.4L154.4 795.3L154.7 792.7L155.0 789.9L155.3 790.1L155.6 787.2L155.9 786.0L156.2 791.3L156.5 784.6L156.8 780.8L157.1 780.5L157.4 784.4L157.7 779.7L158.0 788.0L158.3 786.3L158.6 780.6L158.9 777.8L159.2 776.2L159.5 776.7L159.8 780.1L160.1 779.4L160.4 774.5L160.7 773.4L161.0 776.6L161.3 771.3L161.6 772.6L161.9 772.6L162.2 770.8L162.5 771.3L162.8 773.1L163.1 770.1L163.4 768.2L163.7 766.8L164.0 772.1L164.3 769.5L164.6 772.2L164.9 768.7L165.2 765.3L165.5 766.9L165.8 769.2L166.1 764.5L166.4 763.1L166.7 763.4L167.0 767.9L167.3 765.7L167.6 761.9L167.9 765.1L168.2 761.4L168.5 758.4L168.8 761.8L169.1 763.9L169.4 757.9L169.7 765.5L170.0 759.5L170.3 758.1L170.6 762.9L171.0 759.8L171.3 760.4L171.6 758.9L171.9 754.5L172.2 755.6L172.5 756.8L172.8 758.2L173.1 756.5L173.4 759.1L173.7 754.9L174.0 754.8L174.3 755.2L174.6 756.9L174.9 755.7L175.2 754.8L175.5 750.9L175.8 754.0L176.1 757.8L176.4 754.7L176.7 752.7L177.0 751.4L177.3 755.9L177.6 751.2L177.9 750.3L178.2 752.3L178.5 751.0L178.8 749.7L179.1 752.2L179.4 749.8L179.7 757.1L180.0 749.8L180.3 748.5L180.6 747.4L180.9 748.2L181.2 747.4L181.5 747.9L181.8 749.4L182.1 745.4L182.4 746.5L182.7 744.7L183.0 747.0L183.3 742.1L183.6 745.9L183.9 745.1L184.2 744.7L184.5 745.7L184.8 745.0L185.1 742.6L185.4 746.1L185.7 745.4L186.0 744.0L186.3 744.5L186.6 742.7L186.9 746.6L187.2 742.1L187.5 747.1L187.8 741.3L188.1 746.7L188.4 743.0L188.7 739.9L189.0 741.2L189.3 738.3L189.6 743.7L189.9 742.3L190.2 743.0L190.5 740.7L190.8 740.6L191.1 739.2L191.4 743.1L191.7 747.9L192.0 744.7L192.3 744.7L192.6 740.0L192.9 745.0L193.2 739.8L193.5 742.9L193.8 737.6L194.1 734.7L194.4 739.9L194.7 741.8L195.0 737.2L195.3 737.8L195.6 741.2L195.9 739.3L196.2 738.1L196.5 737.4L196.8 738.2L197.1 736.5L197.4 738.0L197.7 742.8L198.0 739.3L198.3 737.9L198.6 737.5L198.9 737.9L199.2 735.8L199.5 738.3L199.8 740.7L200.1 737.3L200.4 735.6L200.7 736.0L201.0 734.1L201.3 739.5L201.6 736.8L201.9 735.7L202.2 734.6L202.5 735.9L202.8 734.3L203.1 733.3L203.4 735.4L203.7 735.9L204.0 735.5L204.3 733.7L204.6 736.3L204.9 735.6L205.2 732.5L205.5 738.2L205.8 734.5L206.1 737.5L206.4 732.2L206.7 735.9L207.0 734.3L207.3 737.5L207.6 733.1L207.9 730.6L208.2 730.2L208.5 737.9L208.8 731.4L209.1 732.2L209.4 732.4L209.7 733.1L210.0 734.1L210.3 729.4L210.6 731.3L210.9 734.0L211.2 730.1L211.5 730.8L211.8 728.9L212.1 730.7L212.4 729.7L212.7 730.4L213.0 732.4L213.3 732.6L213.6 729.7L213.9 729.7L214.2 728.5L214.5 733.0L214.8 731.2L215.1 730.6L215.4 731.1L215.7 740.8L216.0 731.1L216.3 729.3L216.6 729.8L216.9 732.1L217.2 730.0L217.5 733.9L217.8 729.7L218.1 727.0L218.4 725.9L218.7 726.3L219.0 732.6L219.3 728.9L219.6 727.1L219.9 730.8L220.2 727.9L220.5 735.3L220.9 732.6L221.2 729.0L221.5 728.6L221.8 732.6L222.1 732.2L222.4 725.1L222.7 725.6L223.0 729.7L223.3 725.9L223.6 727.5L223.9 727.1L224.2 728.1L224.5 727.7L224.8 726.5L225.1 728.9L225.4 725.3L225.7 724.2L226.0 728.7L226.3 728.1L226.6 730.6L226.9 725.3L227.2 729.6L227.5 727.2L227.8 725.0L228.1 727.8L228.4 722.8L228.7 726.8L229.0 723.8L229.3 725.5L229.6 728.7L229.9 729.2L230.2 727.7L230.5 726.8L230.8 728.6L231.1 724.5L231.4 724.3L231.7 726.6L232.0 725.1L232.3 727.6L232.6 723.6L232.9 727.1L233.2 725.2L233.5 722.6L233.8 723.6L234.1 727.0L234.4 728.1L234.7 722.2L235.0 727.5L235.3 725.3L235.6 724.3L235.9 723.2L236.2 726.0L236.5 725.8L236.8 723.5L237.1 723.7L237.4 722.1L237.7 723.0L237.8 724.3L238.1 723.1L238.4 722.0L238.7 725.7L239.0 728.3L239.3 726.4L239.6 727.7L239.9 728.6L240.2 732.1L240.5 732.7L240.8 730.1L241.1 732.5L241.4 732.1L241.7 731.9L242.0 731.6L242.3 733.4L242.6 732.9L242.9 730.5L243.2 733.2L243.5 733.6L243.8 731.4L244.1 732.1L244.4 733.9L244.7 733.0L245.0 733.2L245.3 734.7L245.6 734.6L245.9 732.8L246.2 736.7L246.5 737.7L246.8 736.9L247.1 733.3L247.4 734.7L247.7 734.1L248.0 739.2L248.3 738.0L248.6 740.3L248.9 736.0L249.2 736.6L249.5 741.5L249.8 741.2L250.1 739.6L250.4 737.1L250.7 737.3L251.0 740.8L251.3 737.9L251.6 737.8L251.9 739.9L252.2 740.5L252.5 737.9L252.8 737.9L253.1 738.8L253.4 739.9L253.7 741.5L254.0 742.2L254.3 738.9L254.6 739.7L254.9 740.4L255.2 741.5L255.5 740.8L255.8 741.6L256.1 740.4L256.4 739.4L256.7 744.2L257.0 741.6L257.3 740.4L257.6 740.7L257.9 741.4L258.2 741.8L258.5 740.3L258.8 742.2L259.1 740.6L259.4 741.5L259.7 743.1L260.0 741.9L260.3 745.4L260.6 742.4L260.9 742.3L261.2 741.8L261.5 740.8L261.8 743.6L262.1 744.5L262.4 743.5L262.7 742.8L263.0 744.0L263.3 746.8L263.6 746.6L263.9 744.5L264.2 746.0L264.5 745.0L264.8 745.8L265.1 747.6L265.4 743.7L265.7 746.8L266.0 744.7L266.3 742.7L266.6 748.4L266.9 742.9L267.2 744.9L267.5 745.7L267.8 745.1L268.1 747.3L268.4 747.1L268.7 746.4L269.0 745.8L269.3 748.2L269.6 747.2L269.9 746.9L270.2 756.2L270.5 749.5L270.8 747.2L271.2 748.4L271.5 746.9L271.8 749.5L272.1 745.3L272.4 746.9L272.7 747.4L273.0 745.9L273.3 746.2L273.6 752.1L273.9 748.3L274.2 746.7L274.5 746.0L274.8 750.5L275.1 747.8L275.4 747.1L275.7 750.6L276.0 747.7L276.3 748.7L276.6 751.9L276.9 751.2L277.2 749.4L277.5 753.0L277.8 750.9L278.1 749.2L278.4 749.4L278.7 752.2L279.0 750.7L279.3 750.6L279.6 750.7L279.9 750.9L280.2 754.6L280.5 753.6L280.8 748.9L281.1 748.8L281.4 752.4L281.7 748.6L282.0 750.1L282.3 750.0L282.6 750.1L282.9 750.1L283.2 752.7L283.5 751.5L283.8 752.3L284.1 750.7L284.4 751.4L284.7 755.1L285.0 752.8L285.3 750.7L285.6 752.6L285.9 751.2L286.2 752.5L286.5 751.2L286.8 751.1L287.1 750.9L287.4 751.4L287.7 750.9L288.0 751.6L288.3 750.3L288.6 753.3L288.9 753.6L289.2 753.8L289.5 752.5L289.8 751.8L290.1 752.6L290.4 753.6L290.7 752.4L291.0 751.7L291.3 752.1L291.6 752.3L291.9 751.6L292.2 755.8L292.5 754.6L292.8 752.3L293.1 754.5L293.4 753.7L293.7 752.5L294.0 751.3L294.3 754.2L294.6 754.8L294.9 754.6L295.2 756.6L295.5 754.6L295.8 752.0L296.1 755.3L296.4 753.0L296.7 754.8L297.0 753.9L297.3 752.1L297.6 753.9L297.9 755.1L298.2 753.1L298.5 752.7L298.8 753.9L299.1 753.1L299.4 756.3L299.7 757.9L300.0 753.2L300.3 752.7L300.6 754.4L300.9 756.6L301.2 755.1L301.5 755.8L301.8 756.3L302.1 754.5L302.4 754.8L302.7 754.5L303.0 752.7L303.3 755.5L303.6 756.0L303.9 754.3L304.2 754.0L304.5 753.1L304.8 756.7L305.1 754.1L305.4 756.9L305.7 754.3L306.0 753.1L306.3 755.5L306.6 753.9L306.9 753.7L307.2 755.7L307.5 758.4L307.8 757.1L308.1 754.3L308.4 756.3L308.7 754.1L309.0 756.2L309.3 754.3L309.6 753.9L309.9 756.1L310.2 756.9L310.5 756.7L310.8 754.1L311.1 755.4L311.4 757.8L311.7 757.5L312.0 754.1L312.3 755.2L312.6 754.5L312.9 756.9L313.2 757.1L313.5 755.4L313.8 754.7L314.1 758.3L314.4 756.5L314.7 754.7L315.0 757.7L315.3 756.8L315.6 757.2L315.9 759.5L316.2 753.6L316.5 758.7L316.8 757.1L317.1 757.9L317.4 756.9L317.7 758.0L318.0 755.4L318.3 755.7L318.6 756.9L318.9 758.5L319.2 756.9L319.5 757.2L319.8 757.8L320.1 757.1L320.4 756.9L320.7 755.9L321.1 756.9L321.4 756.0L321.7 761.6L322.0 757.7L322.3 757.5L322.6 758.9L322.9 755.8L323.2 757.6L323.5 759.1L323.8 758.5L324.1 756.3L324.4 757.7L324.7 757.1L325.0 759.4L325.3 758.5L325.6 757.8L325.9 759.5L326.2 759.4L326.5 757.6L326.8 758.2L327.1 761.8L327.4 757.6L327.7 756.0L328.0 759.4L328.3 759.0L328.6 757.7L328.9 757.8L329.2 756.3L329.5 756.7L329.8 756.4L330.1 759.8L330.4 758.0L330.7 759.0L331.0 756.6L331.3 758.9L331.6 762.3L331.9 757.8L332.2 760.9L332.5 758.8L332.8 758.3L333.1 758.9L333.4 760.0L333.7 757.1L334.0 758.6L334.3 758.5L334.6 757.2L334.9 757.7L335.2 758.1L335.5 758.3L335.8 758.9L336.1 757.6L336.4 758.8L336.7 758.5L337.0 756.7L337.3 760.1L337.6 758.3L337.9 761.4L338.2 762.1L338.5 759.1L338.8 761.7L339.1 759.0L339.4 758.4L339.7 761.0L340.0 756.3L340.3 756.5L340.6 758.2L340.9 758.7L341.2 761.1L341.5 760.2L341.8 760.9L342.1 760.5L342.4 758.5L342.7 759.6L343.0 762.0L343.3 758.2L343.6 763.3L343.9 760.4L344.2 759.5L344.5 759.5L344.8 760.1L345.1 760.1L345.4 760.0L345.7 760.3L346.0 759.1L346.3 759.2L346.6 759.1L346.9 761.0L347.2 762.3L347.5 762.8L347.8 759.1L348.1 759.5L348.4 760.6L348.7 757.9L349.0 758.2L349.3 757.8L349.6 762.1L349.9 759.5L350.2 758.3L350.5 758.9L350.8 758.7L351.1 758.9L351.4 759.7L351.7 760.3L352.0 761.8L352.3 760.0L352.6 761.4L352.9 762.1L353.2 759.3L353.5 761.6L353.8 760.2L354.1 762.1L354.4 762.2L354.7 761.0L355.0 761.1L355.3 759.7L355.6 762.3L355.9 762.0L356.2 762.3L356.5 762.2L356.8 760.9L357.1 765.1L357.4 762.1L357.7 758.9L358.0 762.0L358.3 760.1L358.6 760.3L358.9 761.9L359.2 761.8L359.5 760.8L359.8 758.9L360.1 761.7L360.4 760.5L360.7 758.5L361.0 758.9L361.3 761.4L361.6 761.4L361.9 763.1L362.2 765.1L362.5 760.1L362.8 762.7L363.1 761.4L363.4 762.3L363.7 760.1L364.0 760.6L364.3 761.2L364.6 764.6L364.9 763.0L365.2 762.3L365.5 765.1L365.8 762.5L366.1 764.4L366.4 761.2L366.7 761.7L367.0 761.2L367.3 760.2L367.6 763.0L367.9 762.4L368.2 760.0L368.5 760.2L368.8 761.9L369.1 758.5L369.4 760.6L369.7 763.3L370.0 762.9L370.3 763.5L370.6 762.5L370.9 763.0L371.3 763.5L371.6 762.5L371.9 762.9L372.2 765.3L372.5 762.0L372.8 765.0L373.1 762.0L373.4 760.7L373.7 759.9L374.0 763.1L374.3 762.5L374.6 763.1L374.9 764.8L375.2 762.3L375.5 762.5L375.8 762.9L376.1 761.9L376.4 762.8L376.7 761.5L377.0 763.5L377.3 762.8L377.6 762.3L377.9 765.3L378.2 767.0L378.5 761.3L378.8 763.1L379.1 762.6L379.4 763.0L379.7 762.1L380.0 761.9L380.3 764.1L380.6 765.8L380.9 765.6L381.2 764.7L381.5 765.4L381.8 765.8L382.1 762.3L382.4 762.8L382.7 764.1L383.0 762.3L383.3 762.5L383.6 762.6L383.9 762.4L384.2 763.4L384.5 763.5L384.8 763.7L385.1 763.5L385.4 763.2L385.7 764.4L386.0 765.1L386.3 765.2L386.6 763.5L386.9 765.9L387.2 764.9L387.5 761.4L387.8 765.7L388.1 764.6L388.4 765.3L388.7 764.0L389.0 764.6L389.3 762.6L389.6 764.3L389.9 765.6L390.2 764.6L390.5 766.2L390.8 765.4L391.1 766.6L391.4 760.9L391.7 764.4L392.0 762.1L392.3 764.6L392.6 764.7L392.9 764.5L393.2 765.3L393.5 764.2L393.8 765.3L394.1 765.0L394.4 764.6L394.7 764.2L395.0 764.3L395.3 763.3L395.6 768.4L395.9 763.3L396.2 764.0L396.5 764.4L396.8 762.2L397.1 761.7L397.4 762.7L397.7 765.5L398.0 766.0L398.3 764.0L398.6 759.5L398.9 765.0L399.2 763.7L399.5 762.4L399.8 767.8L400.1 764.4L400.4 765.7L400.7 765.9L401.0 762.7L401.3 764.6L401.6 766.3L401.9 766.9L402.2 765.4L402.5 764.7L402.8 766.8L403.1 765.1L403.4 762.3L403.7 765.8L404.0 763.2L404.3 764.5L404.6 766.0L404.9 763.8L405.2 764.2L405.5 761.8L405.8 764.0L406.1 763.1L406.4 766.8L406.7 764.9L407.0 765.8L407.3 764.3L407.6 763.4L407.9 764.2L408.2 765.8L408.5 765.0L408.8 766.1L409.1 767.3L409.4 764.9L409.7 762.6L410.0 764.0L410.3 765.7L410.6 764.9L410.9 765.0L411.2 768.2L411.5 764.8L411.8 767.2L412.1 763.4L412.4 764.0L412.7 764.3L413.0 766.9L413.3 766.0L413.6 767.7L413.9 767.1L414.2 766.0L414.5 764.6L414.8 764.0L415.1 765.2L415.4 766.4L415.7 764.3L416.0 769.7L416.3 764.6L416.6 764.9L416.9 767.2L417.2 763.2L417.5 765.1L417.8 764.6L418.1 763.5L418.4 765.5L418.7 766.1L419.0 766.0L419.3 767.7L419.6 764.8L419.9 765.6L420.2 768.2L420.5 766.7L420.8 769.2L421.1 766.9L421.5 764.5L421.8 764.6L422.1 766.3L422.4 765.3L422.7 763.3L423.0 767.5L423.3 764.8L423.6 765.4L423.9 765.5L424.2 766.8L424.5 768.2L424.8 768.8L425.1 767.7L425.4 765.4L425.7 769.4L426.0 768.9L426.3 765.7L426.6 767.4L426.9 766.4L427.2 765.4L427.5 766.3L427.8 764.3L428.1 768.9L428.4 765.2L428.7 768.1L429.0 765.2L429.3 764.6L429.6 768.4L429.9 768.7L430.2 768.6L430.5 767.2L430.8 766.2L431.1 767.2L431.4 766.7L431.7 767.9L432.0 771.9L432.3 770.6L432.6 767.2L432.9 765.9L433.2 769.8L433.5 768.0L433.8 769.7L434.1 767.3L434.4 768.6L434.7 766.0L435.0 765.4L435.3 765.9L435.6 768.0L435.9 767.9L436.2 766.8L436.5 770.1L436.8 767.7L437.1 766.2L437.4 765.5L437.7 770.0L438.0 767.3L438.3 768.5L438.6 767.7L438.9 769.0L439.2 768.6L439.5 768.4L439.8 766.9L440.1 768.3L440.4 768.3L440.7 766.9L441.0 767.7L441.3 766.3L441.6 768.5L441.9 767.6L442.2 768.7L442.5 768.1L442.8 767.0L443.1 767.6L443.4 769.1L443.7 768.6L444.0 770.4L444.3 766.5L444.6 767.1L444.9 765.6L445.2 765.7L445.5 772.4L445.8 767.2L446.1 769.1" fill="none" stroke="#000" stroke-width="1.70" stroke-linejoin="round"/>
<path d="M120.5 879.5L120.9 883.6L121.2 879.4L121.5 878.8L121.8 876.5L122.1 879.9L122.4 883.6L122.7 880.5L123.0 881.8L123.3 880.3L123.6 881.9L123.9 884.3L124.2 882.2L124.5 879.8L124.8 878.4L125.1 883.5L125.4 880.0L125.7 885.4L126.0 879.9L126.3 881.6L126.6 881.7L126.9 879.3L127.2 881.5L127.5 886.4L127.8 880.9L128.1 880.2L128.4 892.6L128.7 879.4L129.0 881.2L129.3 879.8L129.6 886.3L129.9 879.8L130.2 885.6L130.5 880.7L130.8 885.9L131.1 882.0L131.4 878.8L131.7 880.9L132.0 881.4L132.3 882.5L132.6 879.4L132.9 880.8L133.2 880.9L133.5 877.6L133.8 881.9L134.1 882.2L134.4 884.7L134.7 877.2L135.0 880.3L135.3 881.0L135.6 882.4L135.9 878.3L136.2 880.4L136.5 880.8L136.8 877.6L137.1 880.5L137.4 877.3L137.7 887.0L138.0 881.0L138.3 880.7L138.6 883.2L138.9 886.6L139.2 878.2L139.5 881.4L139.8 886.6L140.1 884.5L140.4 880.7L140.7 882.5L141.0 877.9L141.3 881.6L141.6 881.1L141.9 880.6L142.2 880.0L142.5 879.8L142.8 879.4L143.1 883.7L143.4 880.5L143.7 884.4L144.0 876.6L144.3 883.4L144.6 879.0L144.9 881.9L145.2 881.0L145.5 885.6L145.8 881.7L146.1 880.0L146.4 880.5L146.7 879.3L147.0 882.1L147.3 879.3L147.6 879.8L147.9 880.7L148.2 881.1L148.5 881.0L148.8 883.5L149.1 885.2L149.4 882.3L149.6 882.6L149.9 867.8L150.2 854.7L150.5 847.8L150.8 835.1L151.1 823.5L151.4 819.3L151.7 812.3L152.0 805.2L152.3 802.5L152.6 800.9L152.9 797.5L153.2 794.9L153.5 791.7L153.8 786.7L154.1 790.7L154.4 791.5L154.7 789.6L155.0 786.1L155.3 784.8L155.6 782.6L155.9 779.2L156.2 776.6L156.5 780.0L156.8 778.9L157.1 773.7L157.4 772.9L157.7 772.5L158.0 771.9L158.3 771.3L158.6 770.8L158.9 771.0L159.2 767.3L159.5 767.4L159.8 766.3L160.1 769.0L160.4 766.8L160.7 764.2L161.0 768.8L161.3 769.3L161.6 767.3L161.9 765.8L162.2 763.6L162.5 761.3L162.8 762.9L163.1 762.2L163.4 766.1L163.7 759.2L164.0 763.6L164.3 756.4L164.6 758.9L164.9 759.3L165.2 757.1L165.5 758.9L165.8 756.1L166.1 756.0L166.4 759.5L166.7 756.2L167.0 752.5L167.3 754.9L167.6 750.0L167.9 752.9L168.2 752.0L168.5 751.9L168.8 759.3L169.1 756.4L169.4 752.1L169.7 749.9L170.0 753.9L170.3 754.5L170.6 751.5L171.0 750.0L171.3 750.7L171.6 749.9L171.9 750.9L172.2 749.2L172.5 748.9L172.8 751.4L173.1 750.3L173.4 750.4L173.7 747.6L174.0 747.5L174.3 749.3L174.6 750.9L174.9 747.3L175.2 745.4L175.5 745.9L175.8 746.8L176.1 746.5L176.4 745.2L176.7 745.8L177.0 743.6L177.3 744.0L177.6 744.2L177.9 744.9L178.2 746.3L178.5 744.6L178.8 743.8L179.1 740.2L179.4 745.3L179.7 743.0L180.0 740.7L180.3 742.8L180.6 744.0L180.9 743.7L181.2 745.4L181.5 743.0L181.8 741.2L182.1 746.8L182.4 745.9L182.7 740.9L183.0 746.0L183.3 742.2L183.6 742.8L183.9 743.0L184.2 740.5L184.5 743.0L184.8 737.8L185.1 742.3L185.4 738.7L185.7 739.9L186.0 735.8L186.3 738.1L186.6 737.0L186.9 742.4L187.2 740.4L187.5 737.1L187.8 733.7L188.1 739.0L188.4 740.1L188.7 741.0L189.0 738.1L189.3 736.1L189.6 736.3L189.9 734.8L190.2 738.3L190.5 738.9L190.8 735.5L191.1 740.1L191.4 736.3L191.7 734.8L192.0 739.1L192.3 741.2L192.6 733.1L192.9 735.2L193.2 733.2L193.5 732.9L193.8 735.7L194.1 735.5L194.4 733.8L194.7 736.1L195.0 733.6L195.3 731.9L195.6 731.6L195.9 732.8L196.2 732.3L196.5 735.3L196.8 733.6L197.1 733.6L197.4 738.1L197.7 733.6L198.0 735.3L198.3 737.1L198.6 737.3L198.9 737.6L199.2 734.0L199.5 736.8L199.8 731.9L200.1 728.7L200.4 730.8L200.7 731.0L201.0 730.2L201.3 731.8L201.6 735.7L201.9 734.8L202.2 733.5L202.5 733.0L202.8 730.6L203.1 729.4L203.4 730.1L203.7 734.8L204.0 731.3L204.3 731.2L204.6 731.5L204.9 735.3L205.2 735.2L205.5 730.0L205.8 727.9L206.1 729.6L206.4 727.8L206.7 726.9L207.0 730.0L207.3 734.1L207.6 732.2L207.9 727.2L208.2 730.8L208.5 730.4L208.8 731.4L209.1 730.9L209.4 721.9L209.7 731.3L210.0 729.4L210.3 729.2L210.6 732.7L210.9 728.0L211.2 736.1L211.5 728.5L211.8 724.9L212.1 729.8L212.4 724.8L212.7 726.1L213.0 730.0L213.3 730.8L213.6 728.7L213.9 730.3L214.2 728.8L214.5 728.5L214.8 726.9L215.1 727.8L215.4 725.9L215.7 729.1L216.0 730.1L216.3 727.4L216.6 730.1L216.9 727.1L217.2 726.7L217.5 725.1L217.8 726.5L218.1 729.2L218.4 726.0L218.7 729.2L219.0 724.3L219.3 724.0L219.6 727.9L219.9 725.4L220.2 727.0L220.5 727.9L220.9 730.9L221.2 725.7L221.5 725.9L221.8 726.2L222.1 727.1L222.4 731.5L222.7 725.8L223.0 726.5L223.3 724.7L223.6 728.3L223.9 726.6L224.2 725.9L224.5 728.4L224.8 725.2L225.1 724.4L225.4 727.7L225.7 720.6L226.0 727.7L226.3 724.2L226.6 725.6L226.9 725.5L227.2 725.2L227.5 723.3L227.8 724.9L228.1 724.4L228.4 730.5L228.7 729.1L229.0 724.6L229.3 723.5L229.6 725.1L229.9 726.1L230.2 725.2L230.5 726.2L230.8 728.8L231.1 723.0L231.4 725.1L231.7 722.4L232.0 723.5L232.3 724.6L232.6 722.4L232.9 724.2L233.2 723.8L233.5 725.2L233.8 720.0L234.1 725.6L234.4 727.8L234.7 723.6L235.0 724.3L235.3 725.1L235.6 723.4L235.9 724.5L236.2 725.1L236.5 721.0L236.8 724.2L237.1 724.9L237.4 719.8L237.7 724.7L237.8 726.8L238.1 721.3L238.4 723.0L238.7 725.4L239.0 727.8L239.3 726.2L239.6 727.6L239.9 731.5L240.2 729.3L240.5 729.7L240.8 731.0L241.1 737.3L241.4 734.7L241.7 732.9L242.0 735.4L242.3 734.7L242.6 734.4L242.9 734.3L243.2 734.1L243.5 738.3L243.8 733.4L244.1 736.9L244.4 735.4L244.7 737.3L245.0 736.8L245.3 738.2L245.6 735.6L245.9 738.9L246.2 736.2L246.5 736.6L246.8 738.3L247.1 737.5L247.4 738.2L247.7 737.9L248.0 738.9L248.3 739.5L248.6 742.6L248.9 740.7L249.2 739.5L249.5 740.0L249.8 739.0L250.1 738.0L250.4 737.5L250.7 739.2L251.0 740.5L251.3 740.7L251.6 743.3L251.9 744.5L252.2 743.3L252.5 742.4L252.8 745.5L253.1 742.5L253.4 740.7L253.7 744.6L254.0 742.6L254.3 742.0L254.6 744.3L254.9 745.5L255.2 741.3L255.5 742.7L255.8 747.0L256.1 744.8L256.4 742.5L256.7 743.5L257.0 746.2L257.3 745.7L257.6 746.6L257.9 745.5L258.2 744.8L258.5 743.3L258.8 746.5L259.1 748.8L259.4 749.7L259.7 745.7L260.0 747.1L260.3 747.9L260.6 748.4L260.9 748.6L261.2 748.4L261.5 748.7L261.8 746.7L262.1 748.4L262.4 746.6L262.7 751.0L263.0 746.8L263.3 748.5L263.6 748.7L263.9 749.4L264.2 749.6L264.5 749.8L264.8 751.6L265.1 748.9L265.4 750.1L265.7 750.9L266.0 749.4L266.3 751.0L266.6 749.3L266.9 751.1L267.2 748.2L267.5 751.3L267.8 752.8L268.1 751.8L268.4 754.1L268.7 750.1L269.0 750.2L269.3 751.9L269.6 752.9L269.9 753.7L270.2 751.8L270.5 750.9L270.8 751.5L271.2 753.9L271.5 751.3L271.8 751.5L272.1 751.6L272.4 754.6L272.7 753.0L273.0 753.6L273.3 754.9L273.6 755.8L273.9 754.7L274.2 754.7L274.5 752.8L274.8 752.3L275.1 751.4L275.4 753.7L275.7 755.2L276.0 753.3L276.3 753.7L276.6 751.5L276.9 753.0L277.2 754.0L277.5 754.3L277.8 757.2L278.1 756.2L278.4 757.4L278.7 757.5L279.0 757.3L279.3 756.0L279.6 754.4L279.9 758.3L280.2 758.7L280.5 757.9L280.8 756.6L281.1 756.3L281.4 757.0L281.7 758.4L282.0 757.0L282.3 758.8L282.6 759.0L282.9 758.5L283.2 757.4L283.5 757.0L283.8 757.6L284.1 758.1L284.4 762.1L284.7 759.9L285.0 759.5L285.3 759.3L285.6 761.2L285.9 762.1L286.2 759.4L286.5 757.0L286.8 756.4L287.1 757.9L287.4 758.9L287.7 754.7L288.0 758.0L288.3 756.2L288.6 759.3L288.9 760.7L289.2 757.5L289.5 757.2L289.8 757.7L290.1 758.9L290.4 760.8L290.7 758.8L291.0 757.5L291.3 759.8L291.6 760.8L291.9 757.0L292.2 759.6L292.5 759.3L292.8 759.9L293.1 758.7L293.4 759.0L293.7 757.5L294.0 758.3L294.3 760.3L294.6 762.0L294.9 760.9L295.2 762.7L295.5 759.0L295.8 761.2L296.1 761.1L296.4 761.2L296.7 763.6L297.0 762.4L297.3 761.8L297.6 761.7L297.9 761.1L298.2 760.0L298.5 761.3L298.8 760.7L299.1 764.4L299.4 761.7L299.7 761.3L300.0 761.3L300.3 761.0L300.6 760.6L300.9 761.9L301.2 761.3L301.5 763.1L301.8 759.5L302.1 761.7L302.4 759.8L302.7 759.7L303.0 761.2L303.3 764.0L303.6 763.8L303.9 760.0L304.2 761.8L304.5 763.7L304.8 763.6L305.1 762.0L305.4 762.9L305.7 766.6L306.0 763.0L306.3 763.3L306.6 760.5L306.9 764.8L307.2 763.0L307.5 763.7L307.8 761.9L308.1 761.3L308.4 765.0L308.7 763.9L309.0 763.6L309.3 761.6L309.6 763.9L309.9 767.9L310.2 763.9L310.5 767.2L310.8 761.5L311.1 761.8L311.4 761.6L311.7 763.8L312.0 764.8L312.3 763.7L312.6 764.2L312.9 762.7L313.2 760.8L313.5 764.6L313.8 763.8L314.1 768.5L314.4 763.7L314.7 763.4L315.0 765.2L315.3 763.1L315.6 762.9L315.9 763.6L316.2 763.7L316.5 762.4L316.8 763.6L317.1 761.8L317.4 763.2L317.7 763.7L318.0 766.6L318.3 764.8L318.6 764.4L318.9 765.1L319.2 767.8L319.5 764.3L319.8 764.5L320.1 765.2L320.4 764.5L320.7 762.9L321.1 764.3L321.4 764.9L321.7 768.0L322.0 764.7L322.3 762.6L322.6 764.4L322.9 767.4L323.2 763.9L323.5 765.3L323.8 763.3L324.1 768.0L324.4 765.3L324.7 765.9L325.0 765.0L325.3 765.9L325.6 765.8L325.9 764.7L326.2 764.3L326.5 764.5L326.8 767.9L327.1 764.5L327.4 765.7L327.7 764.8L328.0 772.3L328.3 764.2L328.6 769.8L328.9 766.6L329.2 766.4L329.5 764.7L329.8 764.0L330.1 767.2L330.4 765.9L330.7 766.3L331.0 767.2L331.3 764.5L331.6 766.0L331.9 766.1L332.2 765.2L332.5 767.0L332.8 765.0L333.1 764.9L333.4 768.4L333.7 767.2L334.0 768.5L334.3 767.1L334.6 765.2L334.9 765.5L335.2 769.6L335.5 767.4L335.8 762.4L336.1 765.5L336.4 767.9L336.7 766.7L337.0 769.6L337.3 765.8L337.6 767.4L337.9 768.4L338.2 766.7L338.5 767.0L338.8 767.9L339.1 767.6L339.4 767.0L339.7 765.7L340.0 767.0L340.3 766.0L340.6 768.5L340.9 767.3L341.2 765.8L341.5 767.1L341.8 768.5L342.1 766.6L342.4 766.4L342.7 767.7L343.0 766.7L343.3 767.5L343.6 771.1L343.9 766.6L344.2 764.8L344.5 768.0L344.8 767.5L345.1 769.5L345.4 766.0L345.7 768.2L346.0 767.2L346.3 767.5L346.6 767.8L346.9 767.4L347.2 771.8L347.5 771.5L347.8 769.2L348.1 768.9L348.4 768.4L348.7 767.0L349.0 768.6L349.3 767.6L349.6 765.4L349.9 765.7L350.2 768.1L350.5 768.3L350.8 769.2L351.1 768.2L351.4 768.3L351.7 769.0L352.0 767.7L352.3 769.0L352.6 769.3L352.9 770.6L353.2 770.4L353.5 771.2L353.8 767.6L354.1 768.3L354.4 769.6L354.7 769.3L355.0 769.1L355.3 770.7L355.6 769.4L355.9 770.5L356.2 769.4L356.5 767.5L356.8 772.2L357.1 769.5L357.4 765.8L357.7 766.9L358.0 768.1L358.3 770.1L358.6 770.4L358.9 768.8L359.2 771.4L359.5 769.1L359.8 767.7L360.1 768.8L360.4 766.6L360.7 770.0L361.0 770.0L361.3 768.2L361.6 767.9L361.9 771.2L362.2 767.2L362.5 773.0L362.8 770.9L363.1 770.3L363.4 774.4L363.7 773.1L364.0 772.2L364.3 772.7L364.6 769.1L364.9 770.4L365.2 770.0L365.5 768.6L365.8 768.7L366.1 768.5L366.4 767.6L366.7 769.0L367.0 771.1L367.3 769.6L367.6 771.7L367.9 767.4L368.2 771.5L368.5 770.0L368.8 770.9L369.1 771.2L369.4 770.2L369.7 769.5L370.0 770.8L370.3 768.8L370.6 770.0L370.9 769.6L371.3 770.6L371.6 768.4L371.9 770.6L372.2 772.6L372.5 769.5L372.8 769.4L373.1 768.5L373.4 767.8L373.7 769.4L374.0 772.5L374.3 770.5L374.6 769.5L374.9 773.0L375.2 774.4L375.5 769.7L375.8 770.3L376.1 770.2L376.4 771.2L376.7 773.1L377.0 771.5L377.3 770.8L377.6 768.6L377.9 771.9L378.2 770.4L378.5 767.8L378.8 770.7L379.1 769.9L379.4 768.7L379.7 770.6L380.0 771.1L380.3 771.2L380.6 769.8L380.9 771.9L381.2 771.8L381.5 773.0L381.8 770.5L382.1 771.0L382.4 771.9L382.7 770.0L383.0 771.6L383.3 770.0L383.6 771.3L383.9 771.5L384.2 775.8L384.5 770.7L384.8 773.0L385.1 771.7L385.4 772.4L385.7 774.2L386.0 771.6L386.3 769.4L386.6 768.0L386.9 770.1L387.2 775.4L387.5 770.8L387.8 772.7L388.1 770.3L388.4 770.9L388.7 770.3L389.0 770.7L389.3 771.7L389.6 772.3L389.9 771.2L390.2 778.7L390.5 770.8L390.8 771.0L391.1 770.8L391.4 776.8L391.7 773.2L392.0 769.3L392.3 774.4L392.6 771.1L392.9 770.8L393.2 771.9L393.5 771.7L393.8 775.1L394.1 774.4L394.4 771.9L394.7 775.5L395.0 772.3L395.3 772.1L395.6 771.2L395.9 774.8L396.2 772.5L396.5 770.1L396.8 774.4L397.1 772.3L397.4 772.9L397.7 773.6L398.0 772.2L398.3 772.0L398.6 775.9L398.9 772.0L399.2 770.9L399.5 773.9L399.8 774.1L400.1 773.9L400.4 775.4L400.7 772.4L401.0 772.6L401.3 771.6L401.6 771.8L401.9 772.5L402.2 771.4L402.5 773.0L402.8 773.2L403.1 773.8L403.4 772.0L403.7 774.7L404.0 773.6L404.3 770.6L404.6 772.2L404.9 772.8L405.2 770.8L405.5 769.1L405.8 770.8L406.1 773.5L406.4 770.2L406.7 772.1L407.0 772.1L407.3 772.4L407.6 771.5L407.9 772.2L408.2 771.4L408.5 772.7L408.8 773.8L409.1 772.9L409.4 776.4L409.7 772.5L410.0 775.0L410.3 770.1L410.6 771.4L410.9 773.2L411.2 772.6L411.5 772.8L411.8 773.8L412.1 770.3L412.4 773.9L412.7 775.1L413.0 771.5L413.3 771.9L413.6 774.0L413.9 774.8L414.2 770.7L414.5 772.0L414.8 773.0L415.1 772.4L415.4 774.9L415.7 772.6L416.0 773.3L416.3 772.2L416.6 771.7L416.9 773.4L417.2 771.7L417.5 771.4L417.8 771.3L418.1 772.3L418.4 772.1L418.7 770.6L419.0 772.2L419.3 771.7L419.6 772.1L419.9 769.9L420.2 772.5L420.5 771.6L420.8 774.1L421.1 773.4L421.5 778.3L421.8 774.7L422.1 771.2L422.4 774.5L422.7 772.3L423.0 775.8L423.3 774.3L423.6 775.0L423.9 770.4L424.2 774.7L424.5 774.2L424.8 774.8L425.1 770.9L425.4 772.6L425.7 773.5L426.0 775.4L426.3 771.6L426.6 774.0L426.9 774.5L427.2 774.6L427.5 772.5L427.8 775.7L428.1 775.3L428.4 771.8L428.7 773.7L429.0 774.9L429.3 776.3L429.6 772.5L429.9 771.6L430.2 772.3L430.5 771.8L430.8 773.9L431.1 773.3L431.4 774.3L431.7 775.3L432.0 771.7L432.3 771.6L432.6 772.2L432.9 771.1L433.2 772.5L433.5 774.1L433.8 774.2L434.1 775.4L434.4 772.5L434.7 774.0L435.0 774.5L435.3 773.7L435.6 775.3L435.9 772.9L436.2 777.5L436.5 774.9L436.8 776.7L437.1 774.5L437.4 776.2L437.7 775.0L438.0 773.7L438.3 775.4L438.6 773.6L438.9 773.8L439.2 780.8L439.5 772.1L439.8 773.1L440.1 773.2L440.4 773.2L440.7 774.1L441.0 775.7L441.3 773.4L441.6 773.0L441.9 776.5L442.2 772.3L442.5 776.5L442.8 777.6L443.1 773.5L443.4 774.3L443.7 774.0L444.0 775.2L444.3 775.2L444.6 774.8L444.9 775.3L445.2 773.4L445.5 773.3L445.8 771.6L446.1 775.8" fill="none" stroke="#000" stroke-width="1.70" stroke-linejoin="round"/>
<path d="M120.5 879.0L120.9 882.8L121.2 884.9L121.5 886.8L121.8 882.6L122.1 885.1L122.4 882.2L122.7 882.3L123.0 888.3L123.3 884.3L123.6 880.8L123.9 879.2L124.2 882.7L124.5 876.0L124.8 879.9L125.1 879.8L125.4 881.1L125.7 879.3L126.0 881.5L126.3 881.4L126.6 883.3L126.9 883.9L127.2 886.6L127.5 883.0L127.8 880.9L128.1 889.1L128.4 888.9L128.7 885.0L129.0 888.4L129.3 890.9L129.6 884.4L129.9 880.0L130.2 879.6L130.5 875.7L130.8 884.7L131.1 876.6L131.4 878.8L131.7 884.8L132.0 881.2L132.3 877.6L132.6 883.3L132.9 883.9L133.2 876.0L133.5 884.1L133.8 886.7L134.1 888.2L134.4 883.5L134.7 882.3L135.0 878.8L135.3 879.8L135.6 883.8L135.9 880.8L136.2 877.6L136.5 879.8L136.8 886.4L137.1 877.2L137.4 879.0L137.7 880.0L138.0 883.3L138.3 878.3L138.6 879.0L138.9 878.3L139.2 880.2L139.5 880.1L139.8 874.8L140.1 875.4L140.4 876.9L140.7 881.2L141.0 878.7L141.3 882.7L141.6 881.3L141.9 879.7L142.2 878.2L142.5 878.3L142.8 889.9L143.1 882.6L143.4 882.1L143.7 877.1L144.0 885.0L144.3 878.3L144.6 876.4L144.9 877.0L145.2 879.8L145.5 881.2L145.8 877.7L146.1 882.5L146.4 880.1L146.7 878.7L147.0 878.0L147.3 880.8L147.6 884.2L147.9 884.5L148.2 882.6L148.5 892.1L148.8 883.2L149.1 882.6L149.4 876.9L149.6 883.1L149.9 859.5L150.2 853.3L150.5 836.5L150.8 825.5L151.1 814.3L151.4 807.8L151.7 801.2L152.0 791.4L152.3 796.7L152.6 783.3L152.9 780.1L153.2 781.7L153.5 786.5L153.8 775.6L154.1 783.4L154.4 778.0L154.7 768.1L155.0 771.1L155.3 770.1L155.6 768.0L155.9 768.9L156.2 769.5L156.5 769.5L156.8 760.7L157.1 763.0L157.4 758.8L157.7 760.6L158.0 758.4L158.3 758.1L158.6 758.3L158.9 763.1L159.2 761.1L159.5 759.1L159.8 754.1L160.1 758.8L160.4 758.1L160.7 751.2L161.0 755.4L161.3 752.9L161.6 753.6L161.9 755.4L162.2 758.5L162.5 759.1L162.8 751.5L163.1 746.9L163.4 752.3L163.7 753.5L164.0 750.8L164.3 745.5L164.6 753.0L164.9 751.4L165.2 750.3L165.5 750.8L165.8 743.0L166.1 744.1L166.4 741.5L166.7 741.6L167.0 750.8L167.3 743.8L167.6 744.8L167.9 744.9L168.2 737.4L168.5 738.6L168.8 737.0L169.1 738.8L169.4 736.9L169.7 744.1L170.0 740.5L170.3 735.2L170.6 739.2L171.0 735.8L171.3 736.2L171.6 742.7L171.9 742.2L172.2 737.6L172.5 738.3L172.8 736.8L173.1 734.9L173.4 737.9L173.7 736.1L174.0 739.8L174.3 738.3L174.6 737.7L174.9 728.8L175.2 737.0L175.5 743.9L175.8 737.2L176.1 739.1L176.4 737.3L176.7 730.1L177.0 735.6L177.3 737.9L177.6 735.8L177.9 730.1L178.2 728.9L178.5 730.3L178.8 734.2L179.1 732.4L179.4 738.5L179.7 735.6L180.0 730.4L180.3 728.8L180.6 734.1L180.9 736.1L181.2 732.4L181.5 738.9L181.8 730.9L182.1 729.4L182.4 731.6L182.7 732.9L183.0 723.2L183.3 730.7L183.6 730.8L183.9 728.9L184.2 731.0L184.5 737.3L184.8 730.6L185.1 730.2L185.4 734.8L185.7 728.7L186.0 742.3L186.3 731.1L186.6 728.7L186.9 725.2L187.2 728.4L187.5 728.8L187.8 731.2L188.1 731.3L188.4 727.0L188.7 737.9L189.0 736.1L189.3 734.1L189.6 733.1L189.9 734.8L190.2 731.1L190.5 741.5L190.8 730.5L191.1 727.2L191.4 739.1L191.7 730.9L192.0 730.2L192.3 725.7L192.6 727.5L192.9 731.4L193.2 730.8L193.5 723.6L193.8 730.6L194.1 724.4L194.4 722.5L194.7 733.3L195.0 728.4L195.3 726.7L195.6 724.6L195.9 728.9L196.2 727.1L196.5 726.5L196.8 729.4L197.1 727.4L197.4 721.6L197.7 729.9L198.0 723.4L198.3 726.7L198.6 732.2L198.9 729.2L199.2 729.8L199.5 730.5L199.8 720.0L200.1 733.7L200.4 731.3L200.7 729.9L201.0 728.2L201.3 725.2L201.6 728.3L201.9 726.4L202.2 725.7L202.5 722.1L202.8 729.1L203.1 728.4L203.4 729.3L203.7 728.6L204.0 730.8L204.3 731.1L204.6 728.0L204.9 727.4L205.2 723.2L205.5 723.2L205.8 721.0L206.1 725.0L206.4 725.6L206.7 727.4L207.0 728.6L207.3 728.7L207.6 725.4L207.9 719.6L208.2 726.2L208.5 724.2L208.8 725.4L209.1 721.5L209.4 717.2L209.7 717.7L210.0 725.0L210.3 723.2L210.6 731.6L210.9 728.0L211.2 734.5L211.5 729.7L211.8 728.0L212.1 728.3L212.4 731.8L212.7 732.9L213.0 722.5L213.3 726.7L213.6 725.7L213.9 725.4L214.2 725.4L214.5 720.6L214.8 726.2L215.1 724.7L215.4 726.3L215.7 729.6L216.0 725.1L216.3 727.6L216.6 729.9L216.9 727.2L217.2 720.2L217.5 722.0L217.8 718.6L218.1 730.2L218.4 726.5L218.7 722.9L219.0 724.5L219.3 719.8L219.6 726.8L219.9 723.5L220.2 730.3L220.5 728.3L220.9 725.6L221.2 724.0L221.5 721.7L221.8 722.5L222.1 725.8L222.4 728.3L222.7 724.3L223.0 727.0L223.3 719.8L223.6 726.9L223.9 726.5L224.2 725.7L224.5 724.7L224.8 730.5L225.1 723.4L225.4 726.7L225.7 731.1L226.0 728.4L226.3 725.3L226.6 720.4L226.9 726.2L227.2 726.9L227.5 721.7L227.8 727.1L228.1 720.4L228.4 718.9L228.7 722.6L229.0 722.0L229.3 725.6L229.6 726.0L229.9 726.5L230.2 726.7L230.5 717.6L230.8 714.7L231.1 722.9L231.4 726.3L231.7 729.0L232.0 724.8L232.3 727.6L232.6 721.0L232.9 725.7L233.2 720.0L233.5 725.6L233.8 722.5L234.1 728.1L234.4 725.0L234.7 718.1L235.0 725.2L235.3 721.9L235.6 724.1L235.9 726.4L236.2 717.9L236.5 723.5L236.8 721.0L237.1 721.5L237.4 726.3L237.7 730.1L237.8 725.7L238.1 730.5L238.4 727.6L238.7 728.3L239.0 732.6L239.3 731.6L239.6 730.5L239.9 733.9L240.2 737.6L240.5 737.2L240.8 741.7L241.1 741.9L241.4 741.3L241.7 741.4L242.0 746.6L242.3 743.2L242.6 742.0L242.9 753.0L243.2 762.3L243.5 756.2L243.8 759.1L244.1 756.5L244.4 760.3L244.7 756.0L245.0 759.6L245.3 764.2L245.6 762.8L245.9 767.5L246.2 769.8L246.5 773.3L246.8 771.8L247.1 769.0L247.4 775.1L247.7 779.2L248.0 781.5L248.3 779.7L248.6 786.2L248.9 784.5L249.2 788.4L249.5 784.7L249.8 786.9L250.1 790.5L250.4 790.0L250.7 793.2L251.0 793.1L251.3 792.3L251.6 792.3L251.9 791.5L252.2 801.1L252.5 800.1L252.8 799.2L253.1 800.3L253.4 799.3L253.7 805.2L254.0 804.1L254.3 800.0L254.6 803.6L254.9 797.7L255.2 802.3L255.5 804.8L255.8 809.4L256.1 808.2L256.4 808.4L256.7 807.7L257.0 808.2L257.3 809.5L257.6 809.2L257.9 813.9L258.2 811.1L258.5 811.1L258.8 815.2L259.1 813.7L259.4 805.7L259.7 810.6L260.0 818.7L260.3 815.6L260.6 817.9L260.9 816.8L261.2 810.4L261.5 817.3L261.8 815.2L262.1 812.4L262.4 818.5L262.7 823.0L263.0 815.6L263.3 815.3L263.6 817.0L263.9 814.0L264.2 811.5L264.5 815.1L264.8 818.2L265.1 812.1L265.4 813.5L265.7 813.9L266.0 815.5L266.3 816.9L266.6 821.2L266.9 821.8L267.2 820.5L267.5 823.1L267.8 819.9L268.1 818.5L268.4 823.7L268.7 821.5L269.0 828.0L269.3 822.3L269.6 829.3L269.9 822.7L270.2 823.6L270.5 824.8L270.8 824.6L271.2 821.5L271.5 819.7L271.8 817.9L272.1 815.3L272.4 821.9L272.7 812.0L273.0 825.5L273.3 823.1L273.6 820.2L273.9 827.4L274.2 829.4L274.5 827.4L274.8 814.9L275.1 815.3L275.4 821.3L275.7 816.5L276.0 824.3L276.3 822.9L276.6 826.6L276.9 825.5L277.2 826.7L277.5 820.8L277.8 825.5L278.1 823.1L278.4 830.3L278.7 826.0L279.0 829.8L279.3 831.3L279.6 827.7L279.9 826.5L280.2 832.8L280.5 830.4L280.8 834.2L281.1 831.3L281.4 828.1L281.7 842.8L282.0 836.4L282.3 837.7L282.6 840.7L282.9 828.4L283.2 831.4L283.5 831.2L283.8 829.3L284.1 830.1L284.4 837.3L284.7 829.8L285.0 829.3L285.3 836.3L285.6 837.3L285.9 837.2L286.2 843.6L286.5 841.2L286.8 836.3L287.1 839.0L287.4 829.5L287.7 838.0L288.0 828.7L288.3 832.3L288.6 831.6L288.9 835.4L289.2 836.8L289.5 833.7L289.8 833.2L290.1 832.5L290.4 832.1L290.7 833.3L291.0 836.3L291.3 834.5L291.6 837.0L291.9 835.3L292.2 834.3L292.5 844.6L292.8 839.6L293.1 841.0L293.4 837.8L293.7 834.5L294.0 835.8L294.3 837.0L294.6 843.0L294.9 835.0L295.2 837.2L295.5 833.6L295.8 834.0L296.1 829.1L296.4 838.1L296.7 837.6L297.0 838.3L297.3 843.4L297.6 834.9L297.9 836.3L298.2 836.3L298.5 840.2L298.8 832.8L299.1 840.4L299.4 839.2L299.7 833.8L300.0 839.8L300.3 843.3L300.6 839.7L300.9 845.8L301.2 836.2L301.5 844.8L301.8 842.3L302.1 845.1L302.4 840.8L302.7 838.8L303.0 833.6L303.3 842.1L303.6 841.6L303.9 843.9L304.2 840.5L304.5 839.5L304.8 847.2L305.1 842.5L305.4 846.3L305.7 845.7L306.0 837.6L306.3 843.6L306.6 840.5L306.9 840.1L307.2 846.8L307.5 837.9L307.8 841.1L308.1 839.7L308.4 843.0L308.7 840.3L309.0 843.8L309.3 841.8L309.6 840.9L309.9 845.1L310.2 849.8L310.5 844.3L310.8 840.5L311.1 840.6L311.4 845.5L311.7 842.4L312.0 836.8L312.3 836.1L312.6 850.4L312.9 845.5L313.2 846.2L313.5 846.6L313.8 846.7L314.1 847.6L314.4 846.6L314.7 838.8L315.0 843.6L315.3 843.8L315.6 850.4L315.9 850.9L316.2 844.0L316.5 845.3L316.8 844.4L317.1 848.2L317.4 847.5L317.7 839.0L318.0 847.4L318.3 844.2L318.6 847.7L318.9 846.4L319.2 840.8L319.5 842.6L319.8 844.4L320.1 846.4L320.4 848.2L320.7 835.6L321.1 841.0L321.4 848.2L321.7 846.3L322.0 849.1L322.3 852.4L322.6 853.8L322.9 854.5L323.2 848.7L323.5 839.4L323.8 846.8L324.1 846.0L324.4 843.9L324.7 850.1L325.0 846.0L325.3 842.8L325.6 835.7L325.9 843.1L326.2 843.2L326.5 845.6L326.8 843.8L327.1 844.2L327.4 848.7L327.7 849.4L328.0 845.2L328.3 841.1L328.6 847.8L328.9 844.9L329.2 847.8L329.5 842.9L329.8 847.3L330.1 848.4L330.4 848.2L330.7 853.4L331.0 847.1L331.3 857.6L331.6 850.9L331.9 847.1L332.2 845.0L332.5 839.2L332.8 838.8L333.1 842.0L333.4 840.4L333.7 844.5L334.0 843.9L334.3 844.9L334.6 845.8L334.9 851.5L335.2 857.5L335.5 847.9L335.8 850.4L336.1 845.8L336.4 848.8L336.7 847.5L337.0 851.3L337.3 850.0L337.6 849.8L337.9 850.9L338.2 856.7L338.5 847.1L338.8 852.9L339.1 852.2L339.4 844.6L339.7 846.0L340.0 852.4L340.3 845.2L340.6 847.0L340.9 837.7L341.2 843.3L341.5 846.1L341.8 853.4L342.1 856.7L342.4 849.4L342.7 855.3L343.0 849.1L343.3 850.2L343.6 850.9L343.9 853.1L344.2 850.9L344.5 854.5L344.8 850.4L345.1 855.0L345.4 861.7L345.7 847.9L346.0 858.9L346.3 852.7L346.6 854.8L346.9 859.6L347.2 858.8L347.5 858.7L347.8 859.7L348.1 855.3L348.4 851.9L348.7 854.7L349.0 854.6L349.3 856.1L349.6 845.3L349.9 857.5L350.2 854.7L350.5 859.1L350.8 853.1L351.1 851.2L351.4 850.9L351.7 860.0L352.0 851.5L352.3 848.3L352.6 850.0L352.9 850.0L353.2 851.0L353.5 841.0L353.8 849.0L354.1 847.5L354.4 848.0L354.7 849.6L355.0 848.5L355.3 849.4L355.6 856.6L355.9 855.3L356.2 854.5L356.5 860.5L356.8 855.0L357.1 858.3L357.4 855.5L357.7 854.0L358.0 854.4L358.3 850.7L358.6 846.7L358.9 854.3L359.2 854.1L359.5 850.0L359.8 852.1L360.1 852.1L360.4 854.4L360.7 851.0L361.0 859.1L361.3 862.4L361.6 858.4L361.9 853.5L362.2 855.0L362.5 852.7L362.8 858.2L363.1 858.7L363.4 858.9L363.7 857.4L364.0 862.3L364.3 850.2L364.6 848.4L364.9 857.6L365.2 852.7L365.5 854.6L365.8 852.1L366.1 851.2L366.4 851.6L366.7 847.5L367.0 847.7L367.3 851.8L367.6 855.3L367.9 858.7L368.2 855.1L368.5 859.1L368.8 862.0L369.1 858.0L369.4 860.4L369.7 855.2L370.0 848.9L370.3 858.1L370.6 849.1L370.9 854.3L371.3 849.3L371.6 845.3L371.9 850.5L372.2 846.7L372.5 854.7L372.8 857.4L373.1 857.4L373.4 863.2L373.7 859.0L374.0 853.7L374.3 858.0L374.6 855.2L374.9 852.8L375.2 850.0L375.5 851.1L375.8 862.6L376.1 856.4L376.4 858.7L376.7 860.4L377.0 853.3L377.3 859.9L377.6 847.7L377.9 855.2L378.2 849.4L378.5 853.8L378.8 854.6L379.1 851.0L379.4 851.8L379.7 864.3L380.0 856.3L380.3 857.7L380.6 852.5L380.9 852.0L381.2 855.4L381.5 851.4L381.8 854.5L382.1 857.6L382.4 851.5L382.7 862.2L383.0 860.0L383.3 859.2L383.6 860.3L383.9 861.6L384.2 856.0L384.5 858.4L384.8 861.3L385.1 855.0L385.4 857.0L385.7 850.2L386.0 851.4L386.3 849.8L386.6 853.9L386.9 862.4L387.2 860.6L387.5 855.1L387.8 857.2L388.1 860.1L388.4 855.3L388.7 856.2L389.0 856.4L389.3 847.8L389.6 852.4L389.9 851.6L390.2 852.9L390.5 853.5L390.8 844.7L391.1 856.0L391.4 853.9L391.7 858.0L392.0 859.2L392.3 855.7L392.6 860.1L392.9 848.8L393.2 852.3L393.5 855.5L393.8 862.0L394.1 858.9L394.4 859.5L394.7 856.3L395.0 861.8L395.3 851.5L395.6 853.3L395.9 853.4L396.2 855.5L396.5 861.1L396.8 847.9L397.1 852.5L397.4 861.7L397.7 857.0L398.0 858.0L398.3 860.5L398.6 858.8L398.9 854.4L399.2 854.9L399.5 850.0L399.8 858.5L400.1 849.0L400.4 859.5L400.7 855.4L401.0 862.3L401.3 852.7L401.6 858.7L401.9 864.0L402.2 860.3L402.5 853.3L402.8 853.4L403.1 850.1L403.4 854.2L403.7 856.2L404.0 859.8L404.3 858.3L404.6 864.9L404.9 864.2L405.2 858.3L405.5 857.9L405.8 854.8L406.1 860.2L406.4 858.6L406.7 857.9L407.0 854.5L407.3 851.7L407.6 860.7L407.9 855.4L408.2 859.3L408.5 858.9L408.8 854.4L409.1 853.2L409.4 859.1L409.7 848.9L410.0 848.0L410.3 858.5L410.6 854.1L410.9 857.6L411.2 861.1L411.5 867.2L411.8 857.2L412.1 860.9L412.4 863.2L412.7 859.5L413.0 854.7L413.3 858.7L413.6 851.6L413.9 861.3L414.2 857.5L414.5 858.8L414.8 856.6L415.1 855.4L415.4 858.5L415.7 860.7L416.0 864.5L416.3 864.0L416.6 857.9L416.9 859.4L417.2 859.1L417.5 857.6L417.8 864.6L418.1 856.7L418.4 868.8L418.7 861.5L419.0 857.2L419.3 856.9L419.6 850.6L419.9 858.4L420.2 858.8L420.5 861.2L420.8 859.7L421.1 857.3L421.5 849.5L421.8 857.5L422.1 856.0L422.4 861.6L422.7 858.7L423.0 855.5L423.3 853.4L423.6 855.9L423.9 855.1L424.2 849.8L424.5 853.9L424.8 858.3L425.1 853.4L425.4 854.4L425.7 860.0L426.0 862.5L426.3 864.7L426.6 864.0L426.9 861.5L427.2 856.9L427.5 859.8L427.8 861.3L428.1 856.2L428.4 861.8L428.7 864.7L429.0 864.2L429.3 855.7L429.6 855.4L429.9 854.6L430.2 860.7L430.5 859.9L430.8 862.7L431.1 854.3L431.4 855.8L431.7 853.9L432.0 859.8L432.3 859.7L432.6 857.3L432.9 863.4L433.2 858.7L433.5 860.4L433.8 859.2L434.1 855.7L434.4 859.0L434.7 859.7L435.0 863.2L435.3 862.3L435.6 859.7L435.9 865.7L436.2 861.5L436.5 858.4L436.8 858.8L437.1 858.2L437.4 851.5L437.7 857.6L438.0 857.8L438.3 859.2L438.6 864.7L438.9 852.5L439.2 858.5L439.5 859.5L439.8 860.1L440.1 865.8L440.4 852.1L440.7 855.6L441.0 854.8L441.3 852.3L441.6 856.1L441.9 863.4L442.2 861.3L442.5 868.7L442.8 859.9L443.1 861.9L443.4 861.2L443.7 859.8L444.0 858.9L444.3 859.8L444.6 860.1L444.9 859.8L445.2 857.6L445.5 851.5L445.8 855.3L446.1 857.3" fill="none" stroke="#000" stroke-width="1.70" stroke-linejoin="round"/>
<text x="323.27" y="724.50" font-size="14.50" textLength="34.35" lengthAdjust="spacingAndGlyphs" fill="#000"><tspan font-weight="bold">1D11</tspan></text>
<path d="M325.60 728.60L317.29 731.97" stroke="#000" stroke-width="1.30" fill="none"/>
<path d="M310.80 734.60L317.05 728.72L319.38 734.47Z" fill="#000"/>
<text x="399.26" y="743.20" font-size="13.50" textLength="63.53" lengthAdjust="spacingAndGlyphs" fill="#000"><tspan font-weight="bold">(T</tspan><tspan font-weight="normal">β</tspan><tspan font-weight="bold">RIIb)2</tspan></text>
<path d="M465.2 741V766.5H458" fill="none" stroke="#000" stroke-width="1.2"/>
<path d="M465.20 766.50L459.00 766.50" stroke="#000" stroke-width="1.30" fill="none"/>
<path d="M452.00 766.50L460.00 763.40L460.00 769.60Z" fill="#000"/>
<text x="406.15" y="811.50" font-size="13.50" textLength="54.94" lengthAdjust="spacingAndGlyphs" fill="#000"><tspan font-weight="bold">(T</tspan><tspan font-weight="normal">β</tspan><tspan font-weight="bold">RII)2</tspan></text>
<path d="M404.60 796.50L398.90 790.19" stroke="#000" stroke-width="1.30" fill="none"/>
<path d="M394.20 785.00L401.87 788.85L397.27 793.01Z" fill="#000"/>
<text x="407.14" y="888.10" font-size="13.50" textLength="59.96" lengthAdjust="spacingAndGlyphs" fill="#000"><tspan font-weight="bold">T</tspan><tspan font-weight="normal">β</tspan><tspan font-weight="bold">RII-ED</tspan></text>
<path d="M95.50 996.90V1215.00H471.50" fill="none" stroke="#000" stroke-width="1.6"/>
<path d="M93.70 1214.60h3.40M93.70 1199.05h3.40M93.70 1183.50h3.40M93.70 1167.95h3.40M93.70 1152.40h3.40M93.70 1136.85h3.40M93.70 1121.30h3.40M93.70 1105.75h3.40M93.70 1090.20h3.40M93.70 1074.65h3.40M93.70 1059.10h3.40M93.70 1043.55h3.40M93.70 1028.00h3.40M93.70 1012.45h3.40M93.70 996.90h3.40M95.50 1213.50v3.30M108.03 1213.50v3.30M120.55 1213.50v3.30M133.07 1213.50v3.30M145.60 1213.50v3.30M158.12 1213.50v3.30M170.65 1213.50v3.30M183.18 1213.50v3.30M195.70 1213.50v3.30M208.22 1213.50v3.30M220.75 1213.50v3.30M233.28 1213.50v3.30M245.80 1213.50v3.30M258.32 1213.50v3.30M270.85 1213.50v3.30M283.38 1213.50v3.30M295.90 1213.50v3.30M308.43 1213.50v3.30M320.95 1213.50v3.30M333.48 1213.50v3.30M346.00 1213.50v3.30M358.52 1213.50v3.30M371.05 1213.50v3.30M383.57 1213.50v3.30M396.10 1213.50v3.30M408.62 1213.50v3.30M421.15 1213.50v3.30M433.68 1213.50v3.30M446.20 1213.50v3.30M458.73 1213.50v3.30M471.25 1213.50v3.30" fill="none" stroke="#000" stroke-width="1.2"/>
<text x="67.09" y="1003.00" font-size="14.00" textLength="23.36" lengthAdjust="spacingAndGlyphs" fill="#000"><tspan font-weight="normal">120</tspan></text>
<text x="67.09" y="1034.10" font-size="14.00" textLength="23.36" lengthAdjust="spacingAndGlyphs" fill="#000"><tspan font-weight="normal">100</tspan></text>
<text x="74.88" y="1065.20" font-size="14.00" textLength="15.57" lengthAdjust="spacingAndGlyphs" fill="#000"><tspan font-weight="normal">80</tspan></text>
<text x="74.88" y="1096.30" font-size="14.00" textLength="15.57" lengthAdjust="spacingAndGlyphs" fill="#000"><tspan font-weight="normal">60</tspan></text>
<text x="74.88" y="1127.40" font-size="14.00" textLength="15.57" lengthAdjust="spacingAndGlyphs" fill="#000"><tspan font-weight="normal">40</tspan></text>
<text x="74.88" y="1158.50" font-size="14.00" textLength="15.57" lengthAdjust="spacingAndGlyphs" fill="#000"><tspan font-weight="normal">20</tspan></text>
<text x="82.66" y="1189.60" font-size="14.00" textLength="7.79" lengthAdjust="spacingAndGlyphs" fill="#000"><tspan font-weight="normal">0</tspan></text>
<text x="70.22" y="1220.70" font-size="14.00" textLength="20.23" lengthAdjust="spacingAndGlyphs" fill="#000"><tspan font-weight="normal">-20</tspan></text>
<text x="81.46" y="1235.20" font-size="14.00" textLength="28.02" lengthAdjust="spacingAndGlyphs" fill="#000"><tspan font-weight="normal">-100</tspan></text>
<text x="141.71" y="1235.20" font-size="14.00" textLength="7.79" lengthAdjust="spacingAndGlyphs" fill="#000"><tspan font-weight="normal">0</tspan></text>
<text x="183.76" y="1235.20" font-size="14.00" textLength="23.36" lengthAdjust="spacingAndGlyphs" fill="#000"><tspan font-weight="normal">100</tspan></text>
<text x="234.05" y="1235.20" font-size="14.00" textLength="23.36" lengthAdjust="spacingAndGlyphs" fill="#000"><tspan font-weight="normal">200</tspan></text>
<text x="284.23" y="1235.20" font-size="14.00" textLength="23.36" lengthAdjust="spacingAndGlyphs" fill="#000"><tspan font-weight="normal">300</tspan></text>
<text x="334.44" y="1235.20" font-size="14.00" textLength="23.36" lengthAdjust="spacingAndGlyphs" fill="#000"><tspan font-weight="normal">400</tspan></text>
<text x="384.42" y="1235.20" font-size="14.00" textLength="23.36" lengthAdjust="spacingAndGlyphs" fill="#000"><tspan font-weight="normal">500</tspan></text>
<text x="434.44" y="1235.20" font-size="14.00" textLength="23.36" lengthAdjust="spacingAndGlyphs" fill="#000"><tspan font-weight="normal">600</tspan></text>
<text x="259.64" y="1258.10" font-size="14.00" textLength="55.69" lengthAdjust="spacingAndGlyphs" fill="#000"><tspan font-weight="bold">Time (s)</tspan></text>
<text x="0" y="0" font-size="14.80" textLength="150.20" lengthAdjust="spacingAndGlyphs" transform="translate(55.50 1183.19) rotate(-90)"><tspan font-weight="bold">Normalized response</tspan></text>
<text x="106.32" y="1012.80" font-size="14.80" textLength="57.85" lengthAdjust="spacingAndGlyphs" fill="#000"><tspan font-weight="bold">TGF-</tspan><tspan font-weight="normal">β</tspan><tspan font-weight="bold">2</tspan></text>
<path d="M120.5 1185.3L121.1 1184.7L121.6 1183.8L122.1 1183.4L122.6 1181.6L123.1 1182.4L123.6 1184.3L124.1 1183.7L124.6 1183.2L125.1 1184.3L125.6 1184.2L126.1 1183.5L126.6 1184.8L127.1 1184.4L127.6 1183.2L128.1 1183.2L128.6 1183.0L129.1 1182.5L129.6 1181.9L130.1 1182.2L130.6 1181.8L131.1 1181.6L131.6 1182.9L132.1 1183.5L132.6 1184.5L133.1 1183.6L133.6 1183.1L134.1 1184.6L134.6 1183.7L135.1 1184.7L135.6 1185.6L136.1 1184.3L136.6 1182.7L137.1 1183.1L137.6 1183.9L138.1 1181.4L138.6 1182.2L139.1 1182.5L139.6 1182.2L140.1 1182.2L140.6 1182.8L141.1 1182.7L141.6 1182.7L142.1 1183.7L142.6 1182.9L143.1 1183.2L143.6 1184.1L144.1 1184.0L144.6 1183.3L145.1 1182.5L145.6 1183.6L146.1 1183.5L146.6 1182.7L147.1 1183.7L147.6 1184.6L148.1 1182.8L148.6 1184.7L149.1 1184.0L149.6 1183.4L150.1 1154.0L150.6 1129.1L151.1 1105.9L151.6 1090.5L152.1 1085.2L152.6 1081.5L153.1 1078.9L153.6 1077.8L154.1 1076.4L154.6 1074.9L155.1 1073.8L155.6 1072.9L156.1 1072.6L156.6 1071.5L157.1 1071.4L157.6 1070.5L158.1 1068.9L158.6 1068.5L159.1 1067.9L159.6 1067.1L160.1 1067.2L160.6 1067.1L161.1 1066.7L161.6 1065.8L162.1 1065.6L162.6 1065.1L163.1 1064.3L163.6 1064.1L164.1 1063.3L164.6 1062.5L165.1 1062.5L165.6 1062.2L166.1 1061.3L166.6 1060.5L167.1 1061.1L167.6 1060.3L168.1 1060.1L168.6 1059.4L169.1 1059.3L169.6 1059.0L170.1 1058.4L170.7 1058.1L171.2 1057.7L171.7 1057.4L172.2 1056.9L172.7 1056.4L173.2 1055.5L173.7 1055.4L174.2 1054.9L174.7 1054.5L175.2 1054.7L175.7 1054.3L176.2 1054.7L176.7 1053.7L177.2 1053.1L177.7 1052.9L178.2 1052.7L178.7 1052.5L179.2 1052.2L179.7 1051.4L180.2 1051.6L180.7 1051.1L181.2 1051.2L181.7 1050.6L182.2 1050.3L182.7 1050.1L183.2 1049.5L183.7 1049.6L184.2 1049.6L184.7 1048.7L185.2 1048.6L185.7 1048.4L186.2 1048.2L186.7 1047.8L187.2 1047.6L187.7 1047.3L188.2 1047.3L188.7 1047.0L189.2 1047.1L189.7 1046.4L190.2 1046.3L190.7 1046.0L191.2 1045.7L191.7 1044.9L192.2 1045.1L192.7 1044.7L193.2 1044.0L193.7 1043.9L194.2 1044.2L194.7 1043.8L195.2 1043.5L195.7 1043.7L196.2 1042.8L196.7 1043.6L197.2 1043.0L197.7 1043.1L198.2 1042.4L198.7 1041.9L199.2 1041.8L199.7 1041.5L200.2 1041.6L200.7 1041.4L201.2 1041.2L201.7 1040.8L202.2 1040.8L202.7 1041.1L203.2 1040.3L203.7 1040.6L204.2 1040.1L204.7 1039.7L205.2 1039.3L205.7 1039.4L206.2 1039.2L206.7 1039.0L207.2 1039.1L207.7 1038.9L208.2 1039.0L208.7 1038.4L209.2 1038.0L209.7 1038.3L210.2 1037.8L210.7 1037.9L211.2 1037.4L211.7 1037.8L212.2 1037.7L212.7 1036.8L213.2 1036.8L213.7 1036.6L214.2 1035.9L214.7 1036.1L215.2 1035.9L215.7 1035.2L216.2 1034.9L216.7 1035.0L217.2 1035.2L217.7 1034.7L218.2 1034.9L218.7 1034.6L219.2 1034.8L219.7 1034.4L220.2 1034.3L220.8 1034.2L221.3 1033.3L221.8 1033.3L222.3 1033.4L222.8 1032.9L223.3 1033.2L223.8 1032.1L224.3 1032.1L224.8 1031.9L225.3 1031.9L225.8 1031.8L226.3 1031.3L226.8 1032.0L227.3 1031.9L227.8 1031.3L228.3 1030.7L228.8 1030.9L229.3 1030.1L229.8 1029.9L230.3 1029.7L230.8 1029.5L231.3 1029.4L231.8 1029.3L232.3 1029.7L232.8 1029.2L233.3 1029.2L233.8 1029.0L234.3 1028.6L234.8 1028.3L235.3 1028.4L235.8 1027.5L236.3 1027.6L236.8 1027.2L237.3 1027.1L237.8 1027.3L238.3 1027.5L238.8 1028.1L239.3 1028.5L239.8 1029.2L240.3 1029.6L240.8 1030.0L241.3 1030.6L241.8 1031.0L242.3 1031.3L242.8 1031.4L243.3 1032.0L243.8 1032.3L244.3 1032.6L244.8 1033.0L245.3 1033.2L245.8 1033.6L246.3 1033.8L246.8 1034.1L247.3 1034.2L247.8 1034.9L248.3 1035.0L248.8 1035.4L249.3 1035.5L249.8 1035.7L250.3 1036.1L250.8 1036.3L251.3 1036.4L251.8 1036.7L252.3 1036.8L252.8 1037.0L253.3 1037.3L253.8 1037.4L254.3 1037.6L254.8 1037.6L255.3 1038.0L255.8 1038.3L256.3 1038.5L256.8 1038.7L257.3 1038.8L257.8 1039.1L258.3 1039.2L258.8 1039.5L259.3 1039.8L259.8 1039.8L260.3 1039.9L260.8 1040.3L261.3 1040.3L261.8 1040.5L262.3 1040.7L262.8 1040.8L263.3 1041.0L263.8 1041.1L264.3 1041.3L264.8 1041.6L265.3 1041.9L265.8 1042.0L266.3 1042.2L266.8 1042.2L267.3 1042.2L267.8 1042.5L268.3 1042.5L268.8 1042.7L269.3 1043.0L269.8 1043.1L270.3 1043.3L270.9 1043.4L271.4 1043.5L271.9 1043.7L272.4 1043.8L272.9 1044.0L273.4 1044.2L273.9 1044.2L274.4 1044.4L274.9 1044.4L275.4 1044.3L275.9 1044.8L276.4 1044.8L276.9 1045.1L277.4 1045.1L277.9 1045.3L278.4 1045.7L278.9 1045.8L279.4 1045.8L279.9 1045.8L280.4 1045.9L280.9 1046.0L281.4 1046.3L281.9 1046.5L282.4 1046.4L282.9 1046.7L283.4 1046.7L283.9 1046.7L284.4 1046.9L284.9 1046.8L285.4 1046.9L285.9 1047.1L286.4 1047.1L286.9 1047.3L287.4 1047.4L287.9 1047.4L288.4 1047.7L288.9 1047.8L289.4 1047.9L289.9 1048.0L290.4 1048.0L290.9 1048.1L291.4 1048.2L291.9 1048.3L292.4 1048.5L292.9 1048.6L293.4 1048.8L293.9 1048.7L294.4 1048.9L294.9 1049.0L295.4 1049.1L295.9 1049.4L296.4 1049.5L296.9 1049.6L297.4 1049.8L297.9 1049.6L298.4 1049.9L298.9 1049.7L299.4 1050.1L299.9 1050.1L300.4 1050.0L300.9 1050.0L301.4 1050.4L301.9 1050.2L302.4 1050.5L302.9 1050.6L303.4 1050.7L303.9 1050.7L304.4 1050.7L304.9 1050.7L305.4 1050.8L305.9 1050.9L306.4 1050.8L306.9 1050.9L307.4 1051.2L307.9 1051.3L308.4 1051.3L308.9 1051.2L309.4 1051.2L309.9 1051.2L310.4 1051.2L310.9 1051.4L311.4 1051.5L311.9 1051.6L312.4 1052.0L312.9 1051.6L313.4 1051.9L313.9 1051.9L314.4 1052.0L314.9 1052.0L315.4 1052.1L315.9 1052.2L316.4 1052.0L316.9 1052.4L317.4 1052.4L317.9 1052.5L318.4 1052.6L318.9 1052.8L319.4 1052.7L319.9 1052.7L320.4 1052.6L320.9 1052.9L321.5 1052.8L322.0 1052.8L322.5 1052.9L323.0 1053.1L323.5 1053.2L324.0 1053.1L324.5 1053.3L325.0 1053.0L325.5 1053.0L326.0 1053.1L326.5 1053.3L327.0 1053.1L327.5 1053.3L328.0 1053.2L328.5 1053.5L329.0 1053.5L329.5 1053.9L330.0 1053.7L330.5 1053.6L331.0 1053.7L331.5 1053.8L332.0 1053.7L332.5 1053.8L333.0 1053.7L333.5 1054.0L334.0 1054.1L334.5 1054.0L335.0 1054.1L335.5 1054.0L336.0 1054.2L336.5 1054.2L337.0 1054.3L337.5 1054.2L338.0 1054.3L338.5 1054.3L339.0 1054.5L339.5 1054.5L340.0 1054.5L340.5 1054.6L341.0 1054.4L341.5 1054.7L342.0 1054.8L342.5 1054.9L343.0 1054.7L343.5 1054.8L344.0 1055.0L344.5 1054.8L345.0 1055.0L345.5 1054.8L346.0 1055.0L346.5 1055.0L347.0 1055.0L347.5 1055.0L348.0 1055.3L348.5 1054.9L349.0 1055.1L349.5 1055.2L350.0 1055.3L350.5 1055.3L351.0 1055.5L351.5 1055.6L352.0 1055.7L352.5 1055.8L353.0 1055.7L353.5 1055.8L354.0 1055.9L354.5 1055.8L355.0 1055.9L355.5 1055.7L356.0 1055.7L356.5 1055.8L357.0 1056.0L357.5 1056.1L358.0 1056.0L358.5 1056.0L359.0 1056.0L359.5 1056.1L360.0 1056.0L360.5 1056.1L361.0 1056.1L361.5 1056.3L362.0 1056.3L362.5 1056.1L363.0 1056.4L363.5 1056.4L364.0 1056.7L364.5 1056.5L365.0 1056.5L365.5 1056.5L366.0 1056.7L366.5 1056.8L367.0 1056.7L367.5 1056.8L368.0 1056.8L368.5 1056.7L369.0 1056.7L369.5 1056.8L370.0 1056.8L370.5 1056.8L371.1 1057.0L371.6 1056.9L372.1 1057.1L372.6 1057.0L373.1 1056.8L373.6 1056.9L374.1 1057.1L374.6 1057.0L375.1 1057.2L375.6 1057.5L376.1 1057.2L376.6 1057.3L377.1 1057.3L377.6 1057.3L378.1 1057.2L378.6 1057.3L379.1 1057.3L379.6 1057.5L380.1 1057.9L380.6 1058.0L381.1 1057.8L381.6 1057.8L382.1 1057.7L382.6 1057.8L383.1 1057.9L383.6 1058.0L384.1 1057.8L384.6 1058.1L385.1 1058.2L385.6 1057.9L386.1 1057.9L386.6 1058.0L387.1 1058.2L387.6 1058.0L388.1 1058.2L388.6 1058.4L389.1 1058.3L389.6 1058.2L390.1 1058.4L390.6 1058.1L391.1 1058.4L391.6 1058.3L392.1 1058.1L392.6 1058.4L393.1 1058.5L393.6 1058.6L394.1 1058.6L394.6 1058.6L395.1 1058.9L395.6 1058.7L396.1 1058.9L396.6 1058.5L397.1 1058.5L397.6 1058.5L398.1 1058.8L398.6 1058.8L399.1 1058.9L399.6 1059.0L400.1 1059.0L400.6 1059.3L401.1 1059.2L401.6 1059.3L402.1 1059.0L402.6 1059.1L403.1 1059.0L403.6 1059.1L404.1 1059.1L404.6 1059.4L405.1 1059.5L405.6 1059.4L406.1 1059.5L406.6 1059.4L407.1 1059.3L407.6 1059.4L408.1 1059.5L408.6 1059.6L409.1 1059.5L409.6 1059.5L410.1 1059.7L410.6 1059.5L411.1 1059.4L411.6 1059.7L412.1 1059.5L412.6 1059.6L413.1 1059.8L413.6 1059.8L414.1 1059.6L414.6 1059.7L415.1 1059.7L415.6 1059.8L416.1 1060.0L416.6 1060.0L417.1 1060.1L417.6 1059.8L418.1 1059.9L418.6 1060.0L419.1 1060.0L419.6 1060.1L420.1 1060.3L420.6 1060.3L421.1 1060.3L421.7 1060.3L422.2 1060.3L422.7 1060.4L423.2 1060.3L423.7 1060.5L424.2 1060.2L424.7 1060.3L425.2 1060.5L425.7 1060.4L426.2 1060.5L426.7 1060.3L427.2 1060.6L427.7 1060.7L428.2 1060.6L428.7 1060.8L429.2 1060.5L429.7 1060.5L430.2 1060.5L430.7 1060.5L431.2 1060.6L431.7 1060.9L432.2 1061.0L432.7 1060.9L433.2 1061.0L433.7 1061.0L434.2 1061.1L434.7 1061.1L435.2 1061.0L435.7 1061.1L436.2 1061.1L436.7 1061.0L437.2 1060.9L437.7 1061.2L438.2 1061.0L438.7 1061.2L439.2 1061.3L439.7 1061.2L440.2 1061.1L440.7 1061.2L441.2 1061.4L441.7 1061.1L442.2 1061.1L442.7 1061.2L443.2 1061.4L443.7 1061.4L444.2 1061.3L444.7 1061.4L445.2 1061.4L445.7 1061.2L446.2 1061.4" fill="none" stroke="#000" stroke-width="1.70" stroke-linejoin="round"/>
<path d="M120.5 1182.4L121.1 1183.8L121.6 1183.9L122.1 1183.4L122.6 1184.2L123.1 1183.2L123.6 1184.2L124.1 1184.9L124.6 1185.3L125.1 1183.3L125.6 1183.6L126.1 1184.6L126.6 1183.4L127.1 1182.5L127.6 1183.0L128.1 1182.6L128.6 1183.0L129.1 1183.6L129.6 1183.2L130.1 1182.2L130.6 1183.9L131.1 1182.6L131.6 1184.2L132.1 1182.7L132.6 1182.8L133.1 1181.8L133.6 1182.2L134.1 1181.7L134.6 1181.5L135.1 1182.2L135.6 1184.1L136.1 1183.8L136.6 1188.5L137.1 1182.5L137.6 1184.4L138.1 1183.6L138.6 1182.8L139.1 1182.2L139.6 1182.2L140.1 1183.0L140.6 1180.7L141.1 1182.0L141.6 1183.9L142.1 1183.7L142.6 1183.7L143.1 1184.4L143.6 1185.2L144.1 1184.0L144.6 1182.5L145.1 1181.0L145.6 1181.4L146.1 1183.4L146.6 1183.2L147.1 1183.5L147.6 1182.5L148.1 1180.7L148.6 1182.4L149.1 1183.0L149.6 1183.1L150.1 1160.0L150.6 1137.7L151.1 1114.3L151.6 1098.2L152.1 1091.5L152.6 1086.5L153.1 1084.5L153.6 1081.5L154.1 1081.3L154.6 1080.2L155.1 1078.3L155.6 1076.5L156.1 1077.2L156.6 1075.3L157.1 1075.1L157.6 1075.0L158.1 1074.5L158.6 1074.2L159.1 1073.5L159.6 1073.2L160.1 1073.1L160.6 1071.4L161.1 1070.1L161.6 1069.7L162.1 1069.4L162.6 1070.0L163.1 1069.3L163.6 1069.5L164.1 1068.5L164.6 1068.8L165.1 1066.3L165.6 1066.4L166.1 1067.0L166.6 1066.9L167.1 1065.6L167.6 1065.4L168.1 1065.0L168.6 1064.9L169.1 1063.4L169.6 1062.6L170.1 1064.9L170.7 1062.2L171.2 1062.3L171.7 1061.9L172.2 1061.8L172.7 1060.3L173.2 1060.0L173.7 1058.8L174.2 1059.7L174.7 1057.6L175.2 1058.5L175.7 1058.5L176.2 1057.8L176.7 1058.7L177.2 1057.7L177.7 1057.0L178.2 1056.0L178.7 1056.4L179.2 1056.1L179.7 1055.0L180.2 1054.7L180.7 1055.1L181.2 1053.9L181.7 1053.8L182.2 1054.2L182.7 1054.6L183.2 1053.0L183.7 1052.4L184.2 1053.7L184.7 1051.2L185.2 1051.8L185.7 1052.3L186.2 1051.1L186.7 1050.7L187.2 1051.1L187.7 1051.4L188.2 1050.5L188.7 1050.7L189.2 1049.9L189.7 1050.3L190.2 1049.7L190.7 1048.9L191.2 1047.8L191.7 1047.4L192.2 1048.1L192.7 1047.4L193.2 1046.4L193.7 1047.0L194.2 1047.9L194.7 1047.1L195.2 1048.0L195.7 1046.2L196.2 1047.4L196.7 1046.4L197.2 1046.0L197.7 1045.6L198.2 1045.7L198.7 1044.4L199.2 1045.8L199.7 1044.2L200.2 1045.8L200.7 1044.5L201.2 1043.3L201.7 1042.7L202.2 1042.7L202.7 1043.3L203.2 1042.9L203.7 1042.7L204.2 1042.3L204.7 1043.7L205.2 1042.3L205.7 1042.1L206.2 1042.3L206.7 1041.7L207.2 1041.6L207.7 1040.5L208.2 1040.9L208.7 1042.2L209.2 1041.2L209.7 1041.7L210.2 1040.6L210.7 1040.6L211.2 1040.7L211.7 1040.8L212.2 1039.9L212.7 1039.0L213.2 1039.3L213.7 1037.8L214.2 1037.9L214.7 1037.6L215.2 1037.5L215.7 1038.6L216.2 1038.1L216.7 1037.4L217.2 1036.6L217.7 1036.9L218.2 1037.4L218.7 1037.9L219.2 1036.7L219.7 1036.8L220.2 1036.3L220.8 1034.8L221.3 1036.3L221.8 1036.3L222.3 1035.3L222.8 1034.6L223.3 1034.9L223.8 1034.2L224.3 1034.2L224.8 1034.4L225.3 1034.5L225.8 1030.6L226.3 1033.0L226.8 1032.1L227.3 1032.5L227.8 1032.5L228.3 1032.2L228.8 1032.5L229.3 1032.3L229.8 1032.5L230.3 1032.1L230.8 1031.0L231.3 1030.4L231.8 1029.5L232.3 1029.1L232.8 1029.5L233.3 1030.0L233.8 1028.2L234.3 1028.2L234.8 1029.4L235.3 1028.8L235.8 1027.1L236.3 1026.6L236.8 1026.5L237.3 1028.1L237.8 1027.8L238.3 1030.4L238.8 1031.5L239.3 1035.9L239.8 1038.0L240.3 1042.4L240.8 1044.4L241.3 1048.4L241.8 1050.7L242.3 1054.2L242.8 1055.6L243.3 1060.0L243.8 1060.9L244.3 1059.4L244.8 1062.9L245.3 1059.9L245.8 1063.3L246.3 1064.3L246.8 1064.1L247.3 1064.2L247.8 1064.9L248.3 1067.5L248.8 1066.7L249.3 1067.8L249.8 1069.0L250.3 1068.2L250.8 1068.6L251.3 1068.5L251.8 1069.7L252.3 1071.8L252.8 1070.2L253.3 1069.6L253.8 1071.7L254.3 1071.4L254.8 1071.1L255.3 1072.4L255.8 1072.8L256.3 1074.0L256.8 1074.8L257.3 1074.9L257.8 1074.9L258.3 1076.0L258.8 1072.5L259.3 1073.5L259.8 1076.7L260.3 1077.4L260.8 1074.9L261.3 1075.0L261.8 1077.3L262.3 1076.0L262.8 1077.5L263.3 1079.7L263.8 1079.2L264.3 1078.1L264.8 1079.0L265.3 1074.9L265.8 1075.7L266.3 1079.9L266.8 1077.9L267.3 1079.3L267.8 1076.4L268.3 1079.8L268.8 1077.1L269.3 1079.2L269.8 1079.3L270.3 1078.4L270.9 1078.7L271.4 1074.8L271.9 1079.9L272.4 1078.3L272.9 1077.8L273.4 1077.1L273.9 1076.8L274.4 1077.6L274.9 1078.4L275.4 1079.1L275.9 1078.4L276.4 1078.8L276.9 1077.6L277.4 1082.2L277.9 1079.9L278.4 1076.8L278.9 1080.7L279.4 1083.7L279.9 1081.9L280.4 1082.2L280.9 1082.3L281.4 1082.6L281.9 1083.2L282.4 1081.5L282.9 1079.1L283.4 1082.4L283.9 1079.6L284.4 1080.2L284.9 1083.2L285.4 1082.1L285.9 1083.3L286.4 1084.2L286.9 1084.5L287.4 1083.2L287.9 1085.5L288.4 1082.7L288.9 1083.8L289.4 1082.2L289.9 1082.4L290.4 1082.3L290.9 1085.0L291.4 1084.5L291.9 1083.8L292.4 1085.7L292.9 1083.1L293.4 1086.0L293.9 1084.0L294.4 1082.9L294.9 1084.5L295.4 1087.5L295.9 1086.3L296.4 1086.4L296.9 1084.3L297.4 1085.1L297.9 1085.1L298.4 1085.8L298.9 1087.5L299.4 1086.3L299.9 1086.6L300.4 1086.8L300.9 1086.3L301.4 1087.0L301.9 1084.1L302.4 1086.0L302.9 1086.5L303.4 1084.9L303.9 1086.5L304.4 1087.1L304.9 1087.6L305.4 1087.2L305.9 1087.2L306.4 1089.4L306.9 1087.5L307.4 1089.6L307.9 1087.5L308.4 1087.6L308.9 1087.2L309.4 1086.6L309.9 1090.4L310.4 1088.1L310.9 1087.2L311.4 1085.6L311.9 1087.3L312.4 1090.0L312.9 1089.5L313.4 1089.0L313.9 1090.6L314.4 1090.0L314.9 1088.7L315.4 1089.5L315.9 1089.6L316.4 1090.3L316.9 1088.6L317.4 1088.2L317.9 1088.5L318.4 1088.0L318.9 1089.5L319.4 1090.3L319.9 1089.3L320.4 1090.0L320.9 1089.4L321.5 1090.1L322.0 1087.5L322.5 1091.1L323.0 1089.5L323.5 1092.0L324.0 1092.5L324.5 1089.9L325.0 1091.6L325.5 1091.4L326.0 1091.6L326.5 1092.5L327.0 1091.3L327.5 1094.1L328.0 1093.0L328.5 1091.9L329.0 1089.3L329.5 1091.7L330.0 1086.1L330.5 1092.4L331.0 1091.9L331.5 1090.5L332.0 1090.6L332.5 1092.8L333.0 1093.7L333.5 1091.9L334.0 1091.1L334.5 1090.9L335.0 1092.2L335.5 1090.4L336.0 1089.4L336.5 1092.1L337.0 1091.7L337.5 1090.5L338.0 1090.4L338.5 1093.3L339.0 1093.0L339.5 1092.7L340.0 1094.1L340.5 1092.0L341.0 1092.1L341.5 1090.6L342.0 1091.3L342.5 1094.7L343.0 1089.6L343.5 1089.8L344.0 1093.1L344.5 1090.6L345.0 1092.8L345.5 1094.1L346.0 1091.0L346.5 1090.7L347.0 1093.2L347.5 1091.7L348.0 1094.1L348.5 1093.2L349.0 1094.2L349.5 1093.5L350.0 1092.4L350.5 1091.9L351.0 1090.9L351.5 1093.3L352.0 1092.4L352.5 1091.7L353.0 1091.6L353.5 1092.6L354.0 1095.0L354.5 1093.9L355.0 1091.5L355.5 1093.2L356.0 1090.9L356.5 1091.7L357.0 1091.9L357.5 1090.3L358.0 1090.6L358.5 1093.5L359.0 1095.1L359.5 1095.1L360.0 1093.7L360.5 1093.2L361.0 1093.5L361.5 1094.2L362.0 1094.2L362.5 1093.9L363.0 1093.0L363.5 1096.0L364.0 1095.7L364.5 1094.9L365.0 1094.4L365.5 1094.5L366.0 1097.3L366.5 1096.8L367.0 1095.4L367.5 1095.5L368.0 1096.3L368.5 1093.8L369.0 1095.5L369.5 1097.0L370.0 1097.9L370.5 1095.2L371.1 1096.6L371.6 1094.2L372.1 1097.0L372.6 1096.6L373.1 1096.0L373.6 1097.2L374.1 1096.8L374.6 1095.5L375.1 1097.9L375.6 1096.9L376.1 1097.4L376.6 1098.2L377.1 1095.1L377.6 1097.7L378.1 1098.0L378.6 1099.3L379.1 1094.9L379.6 1098.1L380.1 1098.7L380.6 1097.0L381.1 1097.2L381.6 1096.2L382.1 1095.7L382.6 1100.3L383.1 1097.3L383.6 1096.7L384.1 1100.4L384.6 1100.1L385.1 1100.1L385.6 1100.7L386.1 1097.4L386.6 1098.1L387.1 1097.3L387.6 1097.4L388.1 1099.6L388.6 1098.0L389.1 1099.2L389.6 1103.3L390.1 1098.9L390.6 1099.4L391.1 1099.9L391.6 1097.9L392.1 1098.7L392.6 1099.2L393.1 1098.4L393.6 1096.3L394.1 1098.9L394.6 1097.7L395.1 1100.2L395.6 1098.8L396.1 1098.4L396.6 1101.2L397.1 1099.3L397.6 1099.3L398.1 1098.6L398.6 1100.2L399.1 1101.8L399.6 1100.2L400.1 1099.3L400.6 1096.5L401.1 1099.5L401.6 1099.0L402.1 1099.7L402.6 1098.0L403.1 1099.6L403.6 1099.0L404.1 1098.6L404.6 1098.4L405.1 1101.3L405.6 1100.1L406.1 1100.0L406.6 1098.3L407.1 1101.8L407.6 1099.1L408.1 1097.1L408.6 1098.0L409.1 1099.2L409.6 1101.1L410.1 1100.5L410.6 1099.8L411.1 1098.1L411.6 1098.9L412.1 1098.9L412.6 1100.8L413.1 1099.0L413.6 1100.5L414.1 1099.1L414.6 1098.7L415.1 1098.9L415.6 1100.4L416.1 1100.0L416.6 1099.4L417.1 1100.3L417.6 1099.6L418.1 1098.3L418.6 1099.8L419.1 1099.8L419.6 1099.7L420.1 1102.0L420.6 1098.3L421.1 1100.8L421.7 1100.3L422.2 1098.3L422.7 1101.4L423.2 1099.3L423.7 1101.8L424.2 1101.7L424.7 1101.2L425.2 1099.5L425.7 1100.1L426.2 1100.9L426.7 1098.1L427.2 1101.3L427.7 1101.4L428.2 1099.4L428.7 1102.4L429.2 1101.1L429.7 1099.9L430.2 1101.4L430.7 1101.1L431.2 1099.5L431.7 1099.5L432.2 1101.0L432.7 1101.3L433.2 1102.6L433.7 1100.6L434.2 1101.2L434.7 1099.5L435.2 1102.3L435.7 1100.3L436.2 1099.5L436.7 1101.1L437.2 1100.4L437.7 1099.7L438.2 1100.9L438.7 1102.9L439.2 1102.0L439.7 1100.2L440.2 1100.9L440.7 1101.8L441.2 1099.2L441.7 1100.7L442.2 1102.4L442.7 1102.7L443.2 1100.9L443.7 1103.0L444.2 1103.4L444.7 1102.9L445.2 1102.2L445.7 1100.3L446.2 1100.4" fill="none" stroke="#000" stroke-width="1.70" stroke-linejoin="round"/>
<path d="M120.5 1182.6L121.1 1185.2L121.6 1183.8L122.1 1183.1L122.6 1183.4L123.1 1183.5L123.6 1183.3L124.1 1182.1L124.6 1181.4L125.1 1183.6L125.6 1182.7L126.1 1184.0L126.6 1181.4L127.1 1183.1L127.6 1182.9L128.1 1183.3L128.6 1183.5L129.1 1181.8L129.6 1183.6L130.1 1183.4L130.6 1181.5L131.1 1183.1L131.6 1183.2L132.1 1183.1L132.6 1184.2L133.1 1184.6L133.6 1183.8L134.1 1184.1L134.6 1183.6L135.1 1183.0L135.6 1183.4L136.1 1182.9L136.6 1182.2L137.1 1182.9L137.6 1182.9L138.1 1183.4L138.6 1183.6L139.1 1184.5L139.6 1185.0L140.1 1183.3L140.6 1183.5L141.1 1182.3L141.6 1183.9L142.1 1183.4L142.6 1181.3L143.1 1183.8L143.6 1184.0L144.1 1184.5L144.6 1183.8L145.1 1183.8L145.6 1182.8L146.1 1183.9L146.6 1182.4L147.1 1183.8L147.6 1183.6L148.1 1182.7L148.6 1183.5L149.1 1182.2L149.6 1183.3L150.1 1162.4L150.6 1145.3L151.1 1130.2L151.6 1114.8L152.1 1106.3L152.6 1100.3L153.1 1094.9L153.6 1091.1L154.1 1090.9L154.6 1088.6L155.1 1087.4L155.6 1086.4L156.1 1085.1L156.6 1082.7L157.1 1082.3L157.6 1082.4L158.1 1081.0L158.6 1080.9L159.1 1081.1L159.6 1079.9L160.1 1078.1L160.6 1078.4L161.1 1076.9L161.6 1077.1L162.1 1075.6L162.6 1075.5L163.1 1074.0L163.6 1073.9L164.1 1073.6L164.6 1074.1L165.1 1073.1L165.6 1073.7L166.1 1073.1L166.6 1071.6L167.1 1071.5L167.6 1069.8L168.1 1069.5L168.6 1068.9L169.1 1068.4L169.6 1069.4L170.1 1068.1L170.7 1068.2L171.2 1067.1L171.7 1067.0L172.2 1066.8L172.7 1065.4L173.2 1065.7L173.7 1066.7L174.2 1065.0L174.7 1064.3L175.2 1064.3L175.7 1064.6L176.2 1063.2L176.7 1062.7L177.2 1062.0L177.7 1060.8L178.2 1060.1L178.7 1061.0L179.2 1059.4L179.7 1059.2L180.2 1059.8L180.7 1059.4L181.2 1058.9L181.7 1057.9L182.2 1058.0L182.7 1057.6L183.2 1058.2L183.7 1057.9L184.2 1057.3L184.7 1057.8L185.2 1056.3L185.7 1056.2L186.2 1056.6L186.7 1053.8L187.2 1053.9L187.7 1054.6L188.2 1054.1L188.7 1054.2L189.2 1053.4L189.7 1053.1L190.2 1054.0L190.7 1053.1L191.2 1053.3L191.7 1053.3L192.2 1051.7L192.7 1051.3L193.2 1052.3L193.7 1052.0L194.2 1051.2L194.7 1051.2L195.2 1049.3L195.7 1050.2L196.2 1049.8L196.7 1049.6L197.2 1050.2L197.7 1047.7L198.2 1048.5L198.7 1049.0L199.2 1047.5L199.7 1047.1L200.2 1047.6L200.7 1046.6L201.2 1047.8L201.7 1046.6L202.2 1047.9L202.7 1047.0L203.2 1046.0L203.7 1046.3L204.2 1046.0L204.7 1046.2L205.2 1044.9L205.7 1046.1L206.2 1044.7L206.7 1043.1L207.2 1045.1L207.7 1044.6L208.2 1045.1L208.7 1045.2L209.2 1043.9L209.7 1044.6L210.2 1044.5L210.7 1044.5L211.2 1042.9L211.7 1043.5L212.2 1043.1L212.7 1042.7L213.2 1041.9L213.7 1042.5L214.2 1042.2L214.7 1041.5L215.2 1040.5L215.7 1040.9L216.2 1040.2L216.7 1038.8L217.2 1038.7L217.7 1039.3L218.2 1039.0L218.7 1039.4L219.2 1038.9L219.7 1038.4L220.2 1038.1L220.8 1036.9L221.3 1037.5L221.8 1036.0L222.3 1037.8L222.8 1035.8L223.3 1036.5L223.8 1035.8L224.3 1034.8L224.8 1035.2L225.3 1034.2L225.8 1035.2L226.3 1033.5L226.8 1032.2L227.3 1033.7L227.8 1033.5L228.3 1033.8L228.8 1033.2L229.3 1032.3L229.8 1031.7L230.3 1032.3L230.8 1031.8L231.3 1031.5L231.8 1031.1L232.3 1032.0L232.8 1030.6L233.3 1030.6L233.8 1031.0L234.3 1030.0L234.8 1029.2L235.3 1029.0L235.8 1028.6L236.3 1028.3L236.8 1028.0L237.3 1028.4L237.8 1026.6L238.3 1030.1L238.8 1033.5L239.3 1036.8L239.8 1038.8L240.3 1041.7L240.8 1045.3L241.3 1048.8L241.8 1051.3L242.3 1055.0L242.8 1060.1L243.3 1060.2L243.8 1061.8L244.3 1064.6L244.8 1064.0L245.3 1064.7L245.8 1065.6L246.3 1068.1L246.8 1067.4L247.3 1070.0L247.8 1069.4L248.3 1069.9L248.8 1072.2L249.3 1070.9L249.8 1074.3L250.3 1071.7L250.8 1073.5L251.3 1074.8L251.8 1074.7L252.3 1076.6L252.8 1077.0L253.3 1075.2L253.8 1077.7L254.3 1079.1L254.8 1078.9L255.3 1077.4L255.8 1077.1L256.3 1075.7L256.8 1076.2L257.3 1079.4L257.8 1079.2L258.3 1080.4L258.8 1077.4L259.3 1079.0L259.8 1079.7L260.3 1082.8L260.8 1083.9L261.3 1080.9L261.8 1082.3L262.3 1083.3L262.8 1081.3L263.3 1085.0L263.8 1081.5L264.3 1082.2L264.8 1081.8L265.3 1084.4L265.8 1082.0L266.3 1085.0L266.8 1084.3L267.3 1084.0L267.8 1084.5L268.3 1083.8L268.8 1085.9L269.3 1085.3L269.8 1085.8L270.3 1086.7L270.9 1088.8L271.4 1089.6L271.9 1089.1L272.4 1086.8L272.9 1089.1L273.4 1089.5L273.9 1090.0L274.4 1087.6L274.9 1087.9L275.4 1091.4L275.9 1089.3L276.4 1089.7L276.9 1090.0L277.4 1090.5L277.9 1088.9L278.4 1090.5L278.9 1090.7L279.4 1090.8L279.9 1091.1L280.4 1091.3L280.9 1088.1L281.4 1091.2L281.9 1090.0L282.4 1090.4L282.9 1092.1L283.4 1091.1L283.9 1091.9L284.4 1092.3L284.9 1089.8L285.4 1090.4L285.9 1092.8L286.4 1090.2L286.9 1090.6L287.4 1092.5L287.9 1092.1L288.4 1091.7L288.9 1090.4L289.4 1091.2L289.9 1093.0L290.4 1093.7L290.9 1094.7L291.4 1093.2L291.9 1091.3L292.4 1091.4L292.9 1090.2L293.4 1093.1L293.9 1092.7L294.4 1095.7L294.9 1096.1L295.4 1097.2L295.9 1094.1L296.4 1094.8L296.9 1093.7L297.4 1095.9L297.9 1095.3L298.4 1094.6L298.9 1093.8L299.4 1094.5L299.9 1094.4L300.4 1094.0L300.9 1096.2L301.4 1094.7L301.9 1095.7L302.4 1094.1L302.9 1096.5L303.4 1099.1L303.9 1098.4L304.4 1093.2L304.9 1097.6L305.4 1096.4L305.9 1096.1L306.4 1098.6L306.9 1098.5L307.4 1097.4L307.9 1097.1L308.4 1099.0L308.9 1096.8L309.4 1098.4L309.9 1100.0L310.4 1098.1L310.9 1098.0L311.4 1099.8L311.9 1098.9L312.4 1095.8L312.9 1099.4L313.4 1099.2L313.9 1097.4L314.4 1099.0L314.9 1096.9L315.4 1099.7L315.9 1097.2L316.4 1098.6L316.9 1100.7L317.4 1099.4L317.9 1096.9L318.4 1097.9L318.9 1099.6L319.4 1098.6L319.9 1099.4L320.4 1099.2L320.9 1097.6L321.5 1100.4L322.0 1096.8L322.5 1098.7L323.0 1098.1L323.5 1099.2L324.0 1099.7L324.5 1098.8L325.0 1098.7L325.5 1099.1L326.0 1095.4L326.5 1098.6L327.0 1100.8L327.5 1101.8L328.0 1102.1L328.5 1099.7L329.0 1100.1L329.5 1101.6L330.0 1102.1L330.5 1100.5L331.0 1101.1L331.5 1102.2L332.0 1102.0L332.5 1099.7L333.0 1098.9L333.5 1098.7L334.0 1100.6L334.5 1099.8L335.0 1100.7L335.5 1102.8L336.0 1102.1L336.5 1101.4L337.0 1102.9L337.5 1099.3L338.0 1101.6L338.5 1100.6L339.0 1102.1L339.5 1103.7L340.0 1100.4L340.5 1102.1L341.0 1101.1L341.5 1101.4L342.0 1099.7L342.5 1101.0L343.0 1101.9L343.5 1101.9L344.0 1102.4L344.5 1102.0L345.0 1104.9L345.5 1103.8L346.0 1105.0L346.5 1103.7L347.0 1102.6L347.5 1104.5L348.0 1103.3L348.5 1101.1L349.0 1101.7L349.5 1101.2L350.0 1100.5L350.5 1101.6L351.0 1100.5L351.5 1104.0L352.0 1100.7L352.5 1103.6L353.0 1102.5L353.5 1104.0L354.0 1104.1L354.5 1103.1L355.0 1103.7L355.5 1103.0L356.0 1104.2L356.5 1102.7L357.0 1101.9L357.5 1103.5L358.0 1104.2L358.5 1106.3L359.0 1106.9L359.5 1104.5L360.0 1105.0L360.5 1104.7L361.0 1104.9L361.5 1104.0L362.0 1104.4L362.5 1106.1L363.0 1106.7L363.5 1106.6L364.0 1105.4L364.5 1106.0L365.0 1104.5L365.5 1105.4L366.0 1104.1L366.5 1105.7L367.0 1107.0L367.5 1104.8L368.0 1103.8L368.5 1104.2L369.0 1105.1L369.5 1107.1L370.0 1106.9L370.5 1107.4L371.1 1107.7L371.6 1107.4L372.1 1107.4L372.6 1108.5L373.1 1109.5L373.6 1107.3L374.1 1107.5L374.6 1106.9L375.1 1109.0L375.6 1107.0L376.1 1106.9L376.6 1109.4L377.1 1109.1L377.6 1108.0L378.1 1109.8L378.6 1107.0L379.1 1106.0L379.6 1106.1L380.1 1107.9L380.6 1106.3L381.1 1108.8L381.6 1106.4L382.1 1105.6L382.6 1108.3L383.1 1107.3L383.6 1105.9L384.1 1109.2L384.6 1111.4L385.1 1109.4L385.6 1107.3L386.1 1107.4L386.6 1106.5L387.1 1105.5L387.6 1108.2L388.1 1108.8L388.6 1109.7L389.1 1109.6L389.6 1109.1L390.1 1108.7L390.6 1108.9L391.1 1108.7L391.6 1108.0L392.1 1109.4L392.6 1109.6L393.1 1112.7L393.6 1108.4L394.1 1108.8L394.6 1109.5L395.1 1109.8L395.6 1105.8L396.1 1108.5L396.6 1107.1L397.1 1111.2L397.6 1109.3L398.1 1109.6L398.6 1110.1L399.1 1112.4L399.6 1112.1L400.1 1111.5L400.6 1109.7L401.1 1109.9L401.6 1108.7L402.1 1110.2L402.6 1112.1L403.1 1112.4L403.6 1110.4L404.1 1109.1L404.6 1109.4L405.1 1108.7L405.6 1109.3L406.1 1110.9L406.6 1111.7L407.1 1111.5L407.6 1111.5L408.1 1110.0L408.6 1111.6L409.1 1109.3L409.6 1112.7L410.1 1114.5L410.6 1111.9L411.1 1113.6L411.6 1112.9L412.1 1112.2L412.6 1112.8L413.1 1110.0L413.6 1111.1L414.1 1114.2L414.6 1111.6L415.1 1113.3L415.6 1110.9L416.1 1110.6L416.6 1110.6L417.1 1112.7L417.6 1111.7L418.1 1108.7L418.6 1109.1L419.1 1108.9L419.6 1111.4L420.1 1112.6L420.6 1111.5L421.1 1114.3L421.7 1113.8L422.2 1112.1L422.7 1111.7L423.2 1115.0L423.7 1111.4L424.2 1110.4L424.7 1112.1L425.2 1112.0L425.7 1110.5L426.2 1111.3L426.7 1109.9L427.2 1113.0L427.7 1110.2L428.2 1114.1L428.7 1111.4L429.2 1110.1L429.7 1110.8L430.2 1113.0L430.7 1111.5L431.2 1113.6L431.7 1112.4L432.2 1111.4L432.7 1109.9L433.2 1111.9L433.7 1111.6L434.2 1110.9L434.7 1111.5L435.2 1112.1L435.7 1112.4L436.2 1113.9L436.7 1114.9L437.2 1113.2L437.7 1113.0L438.2 1112.1L438.7 1112.0L439.2 1110.8L439.7 1109.8L440.2 1110.6L440.7 1110.8L441.2 1113.4L441.7 1111.5L442.2 1112.6L442.7 1111.3L443.2 1111.3L443.7 1112.2L444.2 1111.4L444.7 1112.6L445.2 1110.8L445.7 1111.9L446.2 1113.3" fill="none" stroke="#000" stroke-width="1.70" stroke-linejoin="round"/>
<text x="423.69" y="1049.80" font-size="13.50" textLength="33.62" lengthAdjust="spacingAndGlyphs" fill="#000"><tspan font-weight="bold">1D11</tspan></text>
<path d="M420.00 1050.20L411.53 1053.48" stroke="#000" stroke-width="1.30" fill="none"/>
<path d="M405.00 1056.00L411.34 1050.22L413.58 1056.01Z" fill="#000"/>
<text x="404.85" y="1082.30" font-size="13.50" textLength="55.15" lengthAdjust="spacingAndGlyphs" fill="#000"><tspan font-weight="bold">(T</tspan><tspan font-weight="normal">β</tspan><tspan font-weight="bold">RII)2</tspan></text>
<path d="M404.00 1086.70L395.80 1089.58" stroke="#000" stroke-width="1.30" fill="none"/>
<path d="M389.20 1091.90L395.72 1086.32L397.78 1092.17Z" fill="#000"/>
<text x="398.76" y="1139.20" font-size="13.50" textLength="63.32" lengthAdjust="spacingAndGlyphs" fill="#000"><tspan font-weight="bold">(T</tspan><tspan font-weight="normal">β</tspan><tspan font-weight="bold">RIIb)2</tspan></text>
<path d="M398.30 1129.00L392.53 1121.92" stroke="#000" stroke-width="1.30" fill="none"/>
<path d="M388.10 1116.50L395.56 1120.74L390.76 1124.66Z" fill="#000"/>
</svg>
</body></html>
